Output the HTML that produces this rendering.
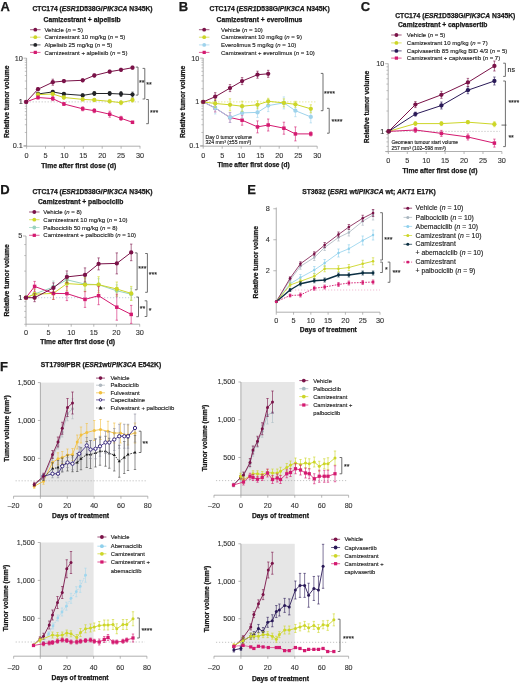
<!DOCTYPE html>
<html><head><meta charset="utf-8"><style>
html,body{margin:0;padding:0;background:#fff;}
svg{display:block;filter:blur(0.5px);font-family:"Liberation Sans", sans-serif;}
text{stroke:#111;stroke-width:0.25px;}
text:not([font-weight]){stroke:#222;stroke-width:0.14px;fill:#222;}
text.t{stroke:#333;stroke-width:0.12px;fill:#333;}
</style></head><body>
<svg width="520" height="683" viewBox="0 0 520 683">
<rect width="520" height="683" fill="#fff"/>
<text x="0.6" y="11.4" font-size="13" font-weight="bold" fill="#1a1a1a">A</text>
<text x="32.5" y="11.2" font-size="6.75" font-weight="bold" fill="#1a1a1a">CTC174 (<tspan font-style="italic">ESR1</tspan>D538G/<tspan font-style="italic">PIK3CA</tspan> N345K)</text>
<text x="43.6" y="21.8" font-size="6.75" font-weight="bold" fill="#1a1a1a">Camizestrant + alpelisib</text>
<line x1="30.05" y1="29.7" x2="40.55" y2="29.7" stroke="#7a1248" stroke-width="0.7"/>
<circle cx="35.3" cy="29.7" r="1.9" fill="#7a1248"/>
<text x="44.4" y="31.8" font-size="6" fill="#1a1a1a">Vehicle (<tspan font-style="italic">n</tspan> = 5)</text>
<line x1="30.05" y1="37.2" x2="40.55" y2="37.2" stroke="#cdd628" stroke-width="0.7"/>
<circle cx="35.3" cy="37.2" r="1.9" fill="#cdd628"/>
<text x="44.4" y="39.3" font-size="6" fill="#1a1a1a">Camizestrant 10 mg/kg (<tspan font-style="italic">n</tspan> = 5)</text>
<line x1="30.05" y1="44.9" x2="40.55" y2="44.9" stroke="#222428" stroke-width="0.7"/>
<circle cx="35.3" cy="44.9" r="1.9" fill="#222428"/>
<text x="44.4" y="47" font-size="6" fill="#1a1a1a">Alpelisib 25 mg/kg (<tspan font-style="italic">n</tspan> = 5)</text>
<line x1="30.05" y1="52.4" x2="40.55" y2="52.4" stroke="#d41a70" stroke-width="0.7"/>
<rect x="33.68" y="50.78" width="3.23" height="3.23" fill="#d41a70"/>
<text x="44.4" y="54.5" font-size="6" fill="#1a1a1a">Camizestrant + alpelisib (<tspan font-style="italic">n</tspan> = 5)</text>
<line x1="26.6" y1="58" x2="26.6" y2="146.2" stroke="#9a9a9a" stroke-width="0.8"/>
<line x1="23.6" y1="146.2" x2="140.2" y2="146.2" stroke="#9a9a9a" stroke-width="0.8"/>
<line x1="23.6" y1="58.15" x2="26.6" y2="58.15" stroke="#9a9a9a" stroke-width="0.7"/>
<text x="22.8" y="60.65" font-size="7.3" text-anchor="end" fill="#1a1a1a" class="t">10</text>
<line x1="23.6" y1="101.9" x2="26.6" y2="101.9" stroke="#9a9a9a" stroke-width="0.7"/>
<text x="22.8" y="104.4" font-size="7.3" text-anchor="end" fill="#1a1a1a" class="t">1</text>
<line x1="23.6" y1="145.65" x2="26.6" y2="145.65" stroke="#9a9a9a" stroke-width="0.7"/>
<text x="22.8" y="148.15" font-size="7.3" text-anchor="end" fill="#1a1a1a" class="t">0.1</text>
<line x1="24.8" y1="132.48" x2="26.6" y2="132.48" stroke="#9a9a9a" stroke-width="0.6"/>
<line x1="24.8" y1="124.78" x2="26.6" y2="124.78" stroke="#9a9a9a" stroke-width="0.6"/>
<line x1="24.8" y1="119.31" x2="26.6" y2="119.31" stroke="#9a9a9a" stroke-width="0.6"/>
<line x1="24.8" y1="115.07" x2="26.6" y2="115.07" stroke="#9a9a9a" stroke-width="0.6"/>
<line x1="24.8" y1="111.61" x2="26.6" y2="111.61" stroke="#9a9a9a" stroke-width="0.6"/>
<line x1="24.8" y1="108.68" x2="26.6" y2="108.68" stroke="#9a9a9a" stroke-width="0.6"/>
<line x1="24.8" y1="106.14" x2="26.6" y2="106.14" stroke="#9a9a9a" stroke-width="0.6"/>
<line x1="24.8" y1="103.9" x2="26.6" y2="103.9" stroke="#9a9a9a" stroke-width="0.6"/>
<line x1="24.8" y1="88.73" x2="26.6" y2="88.73" stroke="#9a9a9a" stroke-width="0.6"/>
<line x1="24.8" y1="81.03" x2="26.6" y2="81.03" stroke="#9a9a9a" stroke-width="0.6"/>
<line x1="24.8" y1="75.56" x2="26.6" y2="75.56" stroke="#9a9a9a" stroke-width="0.6"/>
<line x1="24.8" y1="71.32" x2="26.6" y2="71.32" stroke="#9a9a9a" stroke-width="0.6"/>
<line x1="24.8" y1="67.86" x2="26.6" y2="67.86" stroke="#9a9a9a" stroke-width="0.6"/>
<line x1="24.8" y1="64.93" x2="26.6" y2="64.93" stroke="#9a9a9a" stroke-width="0.6"/>
<line x1="24.8" y1="62.39" x2="26.6" y2="62.39" stroke="#9a9a9a" stroke-width="0.6"/>
<line x1="24.8" y1="60.15" x2="26.6" y2="60.15" stroke="#9a9a9a" stroke-width="0.6"/>
<line x1="26.6" y1="146.2" x2="26.6" y2="148.7" stroke="#9a9a9a" stroke-width="0.7"/>
<text x="26.6" y="157.8" font-size="7.3" text-anchor="middle" fill="#1a1a1a" class="t">0</text>
<line x1="45.5" y1="146.2" x2="45.5" y2="148.7" stroke="#9a9a9a" stroke-width="0.7"/>
<text x="45.5" y="157.8" font-size="7.3" text-anchor="middle" fill="#1a1a1a" class="t">5</text>
<line x1="64.4" y1="146.2" x2="64.4" y2="148.7" stroke="#9a9a9a" stroke-width="0.7"/>
<text x="64.4" y="157.8" font-size="7.3" text-anchor="middle" fill="#1a1a1a" class="t">10</text>
<line x1="83.3" y1="146.2" x2="83.3" y2="148.7" stroke="#9a9a9a" stroke-width="0.7"/>
<text x="83.3" y="157.8" font-size="7.3" text-anchor="middle" fill="#1a1a1a" class="t">15</text>
<line x1="102.2" y1="146.2" x2="102.2" y2="148.7" stroke="#9a9a9a" stroke-width="0.7"/>
<text x="102.2" y="157.8" font-size="7.3" text-anchor="middle" fill="#1a1a1a" class="t">20</text>
<line x1="121.1" y1="146.2" x2="121.1" y2="148.7" stroke="#9a9a9a" stroke-width="0.7"/>
<text x="121.1" y="157.8" font-size="7.3" text-anchor="middle" fill="#1a1a1a" class="t">25</text>
<line x1="140" y1="146.2" x2="140" y2="148.7" stroke="#9a9a9a" stroke-width="0.7"/>
<text x="140" y="157.8" font-size="7.3" text-anchor="middle" fill="#1a1a1a" class="t">30</text>
<text x="78.8" y="167.6" font-size="6.75" font-weight="bold" text-anchor="middle" fill="#1a1a1a">Time after first dose (d)</text>
<text x="8.7" y="101.8" font-size="6.75" font-weight="bold" text-anchor="middle" fill="#1a1a1a" transform="rotate(-90 8.7 101.8)">Relative tumor volume</text>
<line x1="26.6" y1="101.9" x2="140" y2="101.9" stroke="#aaaaaa" stroke-width="0.7" stroke-dasharray="1.2,1.8"/>
<polyline points="38,94 52.8,91.9 63.9,94 82.7,95.4 94.3,93.5 109.7,93.5 121,94 132.5,94.6" fill="none" stroke="#222428" stroke-width="1.0" stroke-linejoin="round"/>
<line x1="38" y1="92.5" x2="38" y2="95.5" stroke="#222428" stroke-width="0.6"/>
<line x1="36.8" y1="92.5" x2="39.2" y2="92.5" stroke="#222428" stroke-width="0.6"/>
<line x1="36.8" y1="95.5" x2="39.2" y2="95.5" stroke="#222428" stroke-width="0.6"/>
<line x1="52.8" y1="90.4" x2="52.8" y2="93.4" stroke="#222428" stroke-width="0.6"/>
<line x1="51.6" y1="90.4" x2="54" y2="90.4" stroke="#222428" stroke-width="0.6"/>
<line x1="51.6" y1="93.4" x2="54" y2="93.4" stroke="#222428" stroke-width="0.6"/>
<line x1="63.9" y1="92.5" x2="63.9" y2="95.5" stroke="#222428" stroke-width="0.6"/>
<line x1="62.7" y1="92.5" x2="65.1" y2="92.5" stroke="#222428" stroke-width="0.6"/>
<line x1="62.7" y1="95.5" x2="65.1" y2="95.5" stroke="#222428" stroke-width="0.6"/>
<line x1="82.7" y1="93.9" x2="82.7" y2="96.9" stroke="#222428" stroke-width="0.6"/>
<line x1="81.5" y1="93.9" x2="83.9" y2="93.9" stroke="#222428" stroke-width="0.6"/>
<line x1="81.5" y1="96.9" x2="83.9" y2="96.9" stroke="#222428" stroke-width="0.6"/>
<line x1="94.3" y1="91.5" x2="94.3" y2="95.5" stroke="#222428" stroke-width="0.6"/>
<line x1="93.1" y1="91.5" x2="95.5" y2="91.5" stroke="#222428" stroke-width="0.6"/>
<line x1="93.1" y1="95.5" x2="95.5" y2="95.5" stroke="#222428" stroke-width="0.6"/>
<line x1="109.7" y1="91.5" x2="109.7" y2="95.5" stroke="#222428" stroke-width="0.6"/>
<line x1="108.5" y1="91.5" x2="110.9" y2="91.5" stroke="#222428" stroke-width="0.6"/>
<line x1="108.5" y1="95.5" x2="110.9" y2="95.5" stroke="#222428" stroke-width="0.6"/>
<line x1="121" y1="91.5" x2="121" y2="96.5" stroke="#222428" stroke-width="0.6"/>
<line x1="119.8" y1="91.5" x2="122.2" y2="91.5" stroke="#222428" stroke-width="0.6"/>
<line x1="119.8" y1="96.5" x2="122.2" y2="96.5" stroke="#222428" stroke-width="0.6"/>
<line x1="132.5" y1="92.1" x2="132.5" y2="97.1" stroke="#222428" stroke-width="0.6"/>
<line x1="131.3" y1="92.1" x2="133.7" y2="92.1" stroke="#222428" stroke-width="0.6"/>
<line x1="131.3" y1="97.1" x2="133.7" y2="97.1" stroke="#222428" stroke-width="0.6"/>
<circle cx="38" cy="94" r="2.15" fill="#222428"/>
<circle cx="52.8" cy="91.9" r="2.15" fill="#222428"/>
<circle cx="63.9" cy="94" r="2.15" fill="#222428"/>
<circle cx="82.7" cy="95.4" r="2.15" fill="#222428"/>
<circle cx="94.3" cy="93.5" r="2.15" fill="#222428"/>
<circle cx="109.7" cy="93.5" r="2.15" fill="#222428"/>
<circle cx="121" cy="94" r="2.15" fill="#222428"/>
<circle cx="132.5" cy="94.6" r="2.15" fill="#222428"/>
<polyline points="38,94.6 52.8,94 63.9,97.5 82.7,99.4 94.3,100 109.7,101.3 121,102.7 132.5,100" fill="none" stroke="#cdd628" stroke-width="1.0" stroke-linejoin="round"/>
<line x1="38" y1="93.1" x2="38" y2="96.1" stroke="#cdd628" stroke-width="0.6"/>
<line x1="36.8" y1="93.1" x2="39.2" y2="93.1" stroke="#cdd628" stroke-width="0.6"/>
<line x1="36.8" y1="96.1" x2="39.2" y2="96.1" stroke="#cdd628" stroke-width="0.6"/>
<line x1="52.8" y1="92.5" x2="52.8" y2="95.5" stroke="#cdd628" stroke-width="0.6"/>
<line x1="51.6" y1="92.5" x2="54" y2="92.5" stroke="#cdd628" stroke-width="0.6"/>
<line x1="51.6" y1="95.5" x2="54" y2="95.5" stroke="#cdd628" stroke-width="0.6"/>
<line x1="63.9" y1="96" x2="63.9" y2="99" stroke="#cdd628" stroke-width="0.6"/>
<line x1="62.7" y1="96" x2="65.1" y2="96" stroke="#cdd628" stroke-width="0.6"/>
<line x1="62.7" y1="99" x2="65.1" y2="99" stroke="#cdd628" stroke-width="0.6"/>
<line x1="82.7" y1="97.9" x2="82.7" y2="100.9" stroke="#cdd628" stroke-width="0.6"/>
<line x1="81.5" y1="97.9" x2="83.9" y2="97.9" stroke="#cdd628" stroke-width="0.6"/>
<line x1="81.5" y1="100.9" x2="83.9" y2="100.9" stroke="#cdd628" stroke-width="0.6"/>
<line x1="94.3" y1="98.5" x2="94.3" y2="101.5" stroke="#cdd628" stroke-width="0.6"/>
<line x1="93.1" y1="98.5" x2="95.5" y2="98.5" stroke="#cdd628" stroke-width="0.6"/>
<line x1="93.1" y1="101.5" x2="95.5" y2="101.5" stroke="#cdd628" stroke-width="0.6"/>
<line x1="109.7" y1="99.8" x2="109.7" y2="102.8" stroke="#cdd628" stroke-width="0.6"/>
<line x1="108.5" y1="99.8" x2="110.9" y2="99.8" stroke="#cdd628" stroke-width="0.6"/>
<line x1="108.5" y1="102.8" x2="110.9" y2="102.8" stroke="#cdd628" stroke-width="0.6"/>
<line x1="121" y1="100.7" x2="121" y2="104.7" stroke="#cdd628" stroke-width="0.6"/>
<line x1="119.8" y1="100.7" x2="122.2" y2="100.7" stroke="#cdd628" stroke-width="0.6"/>
<line x1="119.8" y1="104.7" x2="122.2" y2="104.7" stroke="#cdd628" stroke-width="0.6"/>
<line x1="132.5" y1="98" x2="132.5" y2="102" stroke="#cdd628" stroke-width="0.6"/>
<line x1="131.3" y1="98" x2="133.7" y2="98" stroke="#cdd628" stroke-width="0.6"/>
<line x1="131.3" y1="102" x2="133.7" y2="102" stroke="#cdd628" stroke-width="0.6"/>
<circle cx="38" cy="94.6" r="2.15" fill="#cdd628"/>
<circle cx="52.8" cy="94" r="2.15" fill="#cdd628"/>
<circle cx="63.9" cy="97.5" r="2.15" fill="#cdd628"/>
<circle cx="82.7" cy="99.4" r="2.15" fill="#cdd628"/>
<circle cx="94.3" cy="100" r="2.15" fill="#cdd628"/>
<circle cx="109.7" cy="101.3" r="2.15" fill="#cdd628"/>
<circle cx="121" cy="102.7" r="2.15" fill="#cdd628"/>
<circle cx="132.5" cy="100" r="2.15" fill="#cdd628"/>
<polyline points="26.2,101.9 38,97.5 52.8,98.6 63.9,104 82.7,108.8 94.3,110.7 109.7,114.2 121,118.3 132.5,122.3" fill="none" stroke="#d41a70" stroke-width="1.0" stroke-linejoin="round"/>
<line x1="38" y1="96" x2="38" y2="99" stroke="#d41a70" stroke-width="0.6"/>
<line x1="36.8" y1="96" x2="39.2" y2="96" stroke="#d41a70" stroke-width="0.6"/>
<line x1="36.8" y1="99" x2="39.2" y2="99" stroke="#d41a70" stroke-width="0.6"/>
<line x1="52.8" y1="96.6" x2="52.8" y2="100.6" stroke="#d41a70" stroke-width="0.6"/>
<line x1="51.6" y1="96.6" x2="54" y2="96.6" stroke="#d41a70" stroke-width="0.6"/>
<line x1="51.6" y1="100.6" x2="54" y2="100.6" stroke="#d41a70" stroke-width="0.6"/>
<line x1="63.9" y1="102.5" x2="63.9" y2="105.5" stroke="#d41a70" stroke-width="0.6"/>
<line x1="62.7" y1="102.5" x2="65.1" y2="102.5" stroke="#d41a70" stroke-width="0.6"/>
<line x1="62.7" y1="105.5" x2="65.1" y2="105.5" stroke="#d41a70" stroke-width="0.6"/>
<line x1="82.7" y1="106.8" x2="82.7" y2="110.8" stroke="#d41a70" stroke-width="0.6"/>
<line x1="81.5" y1="106.8" x2="83.9" y2="106.8" stroke="#d41a70" stroke-width="0.6"/>
<line x1="81.5" y1="110.8" x2="83.9" y2="110.8" stroke="#d41a70" stroke-width="0.6"/>
<line x1="94.3" y1="108.7" x2="94.3" y2="112.7" stroke="#d41a70" stroke-width="0.6"/>
<line x1="93.1" y1="108.7" x2="95.5" y2="108.7" stroke="#d41a70" stroke-width="0.6"/>
<line x1="93.1" y1="112.7" x2="95.5" y2="112.7" stroke="#d41a70" stroke-width="0.6"/>
<line x1="109.7" y1="111.2" x2="109.7" y2="117.2" stroke="#d41a70" stroke-width="0.6"/>
<line x1="108.5" y1="111.2" x2="110.9" y2="111.2" stroke="#d41a70" stroke-width="0.6"/>
<line x1="108.5" y1="117.2" x2="110.9" y2="117.2" stroke="#d41a70" stroke-width="0.6"/>
<line x1="121" y1="116.3" x2="121" y2="120.3" stroke="#d41a70" stroke-width="0.6"/>
<line x1="119.8" y1="116.3" x2="122.2" y2="116.3" stroke="#d41a70" stroke-width="0.6"/>
<line x1="119.8" y1="120.3" x2="122.2" y2="120.3" stroke="#d41a70" stroke-width="0.6"/>
<line x1="132.5" y1="121.3" x2="132.5" y2="123.3" stroke="#d41a70" stroke-width="0.6"/>
<line x1="131.3" y1="121.3" x2="133.7" y2="121.3" stroke="#d41a70" stroke-width="0.6"/>
<line x1="131.3" y1="123.3" x2="133.7" y2="123.3" stroke="#d41a70" stroke-width="0.6"/>
<rect x="24.46" y="100.16" width="3.48" height="3.48" fill="#d41a70"/>
<rect x="36.26" y="95.76" width="3.48" height="3.48" fill="#d41a70"/>
<rect x="51.06" y="96.86" width="3.48" height="3.48" fill="#d41a70"/>
<rect x="62.16" y="102.26" width="3.48" height="3.48" fill="#d41a70"/>
<rect x="80.96" y="107.06" width="3.48" height="3.48" fill="#d41a70"/>
<rect x="92.56" y="108.96" width="3.48" height="3.48" fill="#d41a70"/>
<rect x="107.96" y="112.46" width="3.48" height="3.48" fill="#d41a70"/>
<rect x="119.26" y="116.56" width="3.48" height="3.48" fill="#d41a70"/>
<rect x="130.76" y="120.56" width="3.48" height="3.48" fill="#d41a70"/>
<polyline points="26.2,101.9 38,89.2 52.8,82.2 63.9,81.1 82.7,80.3 94.3,75.5 109.7,71.7 121,69.8 132.5,67.7" fill="none" stroke="#7a1248" stroke-width="1.0" stroke-linejoin="round"/>
<line x1="38" y1="87.7" x2="38" y2="90.7" stroke="#7a1248" stroke-width="0.6"/>
<line x1="36.8" y1="87.7" x2="39.2" y2="87.7" stroke="#7a1248" stroke-width="0.6"/>
<line x1="36.8" y1="90.7" x2="39.2" y2="90.7" stroke="#7a1248" stroke-width="0.6"/>
<line x1="52.8" y1="79.2" x2="52.8" y2="85.2" stroke="#7a1248" stroke-width="0.6"/>
<line x1="51.6" y1="79.2" x2="54" y2="79.2" stroke="#7a1248" stroke-width="0.6"/>
<line x1="51.6" y1="85.2" x2="54" y2="85.2" stroke="#7a1248" stroke-width="0.6"/>
<line x1="63.9" y1="79.6" x2="63.9" y2="82.6" stroke="#7a1248" stroke-width="0.6"/>
<line x1="62.7" y1="79.6" x2="65.1" y2="79.6" stroke="#7a1248" stroke-width="0.6"/>
<line x1="62.7" y1="82.6" x2="65.1" y2="82.6" stroke="#7a1248" stroke-width="0.6"/>
<line x1="82.7" y1="78.8" x2="82.7" y2="81.8" stroke="#7a1248" stroke-width="0.6"/>
<line x1="81.5" y1="78.8" x2="83.9" y2="78.8" stroke="#7a1248" stroke-width="0.6"/>
<line x1="81.5" y1="81.8" x2="83.9" y2="81.8" stroke="#7a1248" stroke-width="0.6"/>
<line x1="94.3" y1="74" x2="94.3" y2="77" stroke="#7a1248" stroke-width="0.6"/>
<line x1="93.1" y1="74" x2="95.5" y2="74" stroke="#7a1248" stroke-width="0.6"/>
<line x1="93.1" y1="77" x2="95.5" y2="77" stroke="#7a1248" stroke-width="0.6"/>
<line x1="109.7" y1="70.2" x2="109.7" y2="73.2" stroke="#7a1248" stroke-width="0.6"/>
<line x1="108.5" y1="70.2" x2="110.9" y2="70.2" stroke="#7a1248" stroke-width="0.6"/>
<line x1="108.5" y1="73.2" x2="110.9" y2="73.2" stroke="#7a1248" stroke-width="0.6"/>
<line x1="121" y1="68.3" x2="121" y2="71.3" stroke="#7a1248" stroke-width="0.6"/>
<line x1="119.8" y1="68.3" x2="122.2" y2="68.3" stroke="#7a1248" stroke-width="0.6"/>
<line x1="119.8" y1="71.3" x2="122.2" y2="71.3" stroke="#7a1248" stroke-width="0.6"/>
<line x1="132.5" y1="66.2" x2="132.5" y2="69.2" stroke="#7a1248" stroke-width="0.6"/>
<line x1="131.3" y1="66.2" x2="133.7" y2="66.2" stroke="#7a1248" stroke-width="0.6"/>
<line x1="131.3" y1="69.2" x2="133.7" y2="69.2" stroke="#7a1248" stroke-width="0.6"/>
<circle cx="26.2" cy="101.9" r="2.15" fill="#7a1248"/>
<circle cx="38" cy="89.2" r="2.15" fill="#7a1248"/>
<circle cx="52.8" cy="82.2" r="2.15" fill="#7a1248"/>
<circle cx="63.9" cy="81.1" r="2.15" fill="#7a1248"/>
<circle cx="82.7" cy="80.3" r="2.15" fill="#7a1248"/>
<circle cx="94.3" cy="75.5" r="2.15" fill="#7a1248"/>
<circle cx="109.7" cy="71.7" r="2.15" fill="#7a1248"/>
<circle cx="121" cy="69.8" r="2.15" fill="#7a1248"/>
<circle cx="132.5" cy="67.7" r="2.15" fill="#7a1248"/>
<polyline points="135.8,67.1 138,67.1 138,95.1 135.8,95.1" fill="none" stroke="#555" stroke-width="0.85"/>
<text x="139" y="84.7" font-size="7" fill="#1a1a1a">**</text>
<polyline points="142.6,68.4 144.8,68.4 144.8,99 142.6,99" fill="none" stroke="#555" stroke-width="0.85"/>
<text x="146.2" y="87.3" font-size="7" fill="#1a1a1a">**</text>
<polyline points="146.2,99.5 148.4,99.5 148.4,123.7 146.2,123.7" fill="none" stroke="#555" stroke-width="0.85"/>
<text x="150" y="115.1" font-size="7" fill="#1a1a1a">***</text>
<text x="178.8" y="11.1" font-size="13" font-weight="bold" fill="#1a1a1a">B</text>
<text x="209.6" y="11.2" font-size="6.75" font-weight="bold" fill="#1a1a1a">CTC174 (<tspan font-style="italic">ESR1</tspan>D538G/<tspan font-style="italic">PIK3CA</tspan> N345K)</text>
<text x="216.6" y="21.8" font-size="6.75" font-weight="bold" fill="#1a1a1a">Camizestrant + everolimus</text>
<line x1="198.95" y1="29.7" x2="209.45" y2="29.7" stroke="#7a1248" stroke-width="0.7"/>
<circle cx="204.2" cy="29.7" r="1.9" fill="#7a1248"/>
<text x="221" y="31.8" font-size="6" fill="#1a1a1a">Vehicle (<tspan font-style="italic">n</tspan> = 10)</text>
<line x1="198.95" y1="37.2" x2="209.45" y2="37.2" stroke="#cdd628" stroke-width="0.7"/>
<circle cx="204.2" cy="37.2" r="1.9" fill="#cdd628"/>
<text x="221" y="39.3" font-size="6" fill="#1a1a1a">Camizestrant 10 mg/kg (<tspan font-style="italic">n</tspan> = 9)</text>
<line x1="198.95" y1="44.9" x2="209.45" y2="44.9" stroke="#9fd3ec" stroke-width="0.7"/>
<circle cx="204.2" cy="44.9" r="1.9" fill="#9fd3ec"/>
<text x="221" y="47" font-size="6" fill="#1a1a1a">Everolimus 5 mg/kg (<tspan font-style="italic">n</tspan> = 10)</text>
<line x1="198.95" y1="52.4" x2="209.45" y2="52.4" stroke="#d41a70" stroke-width="0.7"/>
<rect x="202.58" y="50.78" width="3.23" height="3.23" fill="#d41a70"/>
<text x="221" y="54.5" font-size="6" fill="#1a1a1a">Camizestrant + everolimus (<tspan font-style="italic">n</tspan> = 10)</text>
<line x1="203.2" y1="58" x2="203.2" y2="146.2" stroke="#9a9a9a" stroke-width="0.8"/>
<line x1="200.2" y1="146.2" x2="317.2" y2="146.2" stroke="#9a9a9a" stroke-width="0.8"/>
<line x1="200.2" y1="58.15" x2="203.2" y2="58.15" stroke="#9a9a9a" stroke-width="0.7"/>
<text x="199.4" y="60.65" font-size="7.3" text-anchor="end" fill="#1a1a1a" class="t">10</text>
<line x1="200.2" y1="101.9" x2="203.2" y2="101.9" stroke="#9a9a9a" stroke-width="0.7"/>
<text x="199.4" y="104.4" font-size="7.3" text-anchor="end" fill="#1a1a1a" class="t">1</text>
<line x1="200.2" y1="145.65" x2="203.2" y2="145.65" stroke="#9a9a9a" stroke-width="0.7"/>
<text x="199.4" y="148.15" font-size="7.3" text-anchor="end" fill="#1a1a1a" class="t">0.1</text>
<line x1="201.4" y1="132.48" x2="203.2" y2="132.48" stroke="#9a9a9a" stroke-width="0.6"/>
<line x1="201.4" y1="124.78" x2="203.2" y2="124.78" stroke="#9a9a9a" stroke-width="0.6"/>
<line x1="201.4" y1="119.31" x2="203.2" y2="119.31" stroke="#9a9a9a" stroke-width="0.6"/>
<line x1="201.4" y1="115.07" x2="203.2" y2="115.07" stroke="#9a9a9a" stroke-width="0.6"/>
<line x1="201.4" y1="111.61" x2="203.2" y2="111.61" stroke="#9a9a9a" stroke-width="0.6"/>
<line x1="201.4" y1="108.68" x2="203.2" y2="108.68" stroke="#9a9a9a" stroke-width="0.6"/>
<line x1="201.4" y1="106.14" x2="203.2" y2="106.14" stroke="#9a9a9a" stroke-width="0.6"/>
<line x1="201.4" y1="103.9" x2="203.2" y2="103.9" stroke="#9a9a9a" stroke-width="0.6"/>
<line x1="201.4" y1="88.73" x2="203.2" y2="88.73" stroke="#9a9a9a" stroke-width="0.6"/>
<line x1="201.4" y1="81.03" x2="203.2" y2="81.03" stroke="#9a9a9a" stroke-width="0.6"/>
<line x1="201.4" y1="75.56" x2="203.2" y2="75.56" stroke="#9a9a9a" stroke-width="0.6"/>
<line x1="201.4" y1="71.32" x2="203.2" y2="71.32" stroke="#9a9a9a" stroke-width="0.6"/>
<line x1="201.4" y1="67.86" x2="203.2" y2="67.86" stroke="#9a9a9a" stroke-width="0.6"/>
<line x1="201.4" y1="64.93" x2="203.2" y2="64.93" stroke="#9a9a9a" stroke-width="0.6"/>
<line x1="201.4" y1="62.39" x2="203.2" y2="62.39" stroke="#9a9a9a" stroke-width="0.6"/>
<line x1="201.4" y1="60.15" x2="203.2" y2="60.15" stroke="#9a9a9a" stroke-width="0.6"/>
<line x1="203.2" y1="146.2" x2="203.2" y2="148.7" stroke="#9a9a9a" stroke-width="0.7"/>
<text x="203.2" y="157.6" font-size="7.3" text-anchor="middle" fill="#1a1a1a" class="t">0</text>
<line x1="222.2" y1="146.2" x2="222.2" y2="148.7" stroke="#9a9a9a" stroke-width="0.7"/>
<text x="222.2" y="157.6" font-size="7.3" text-anchor="middle" fill="#1a1a1a" class="t">5</text>
<line x1="241.2" y1="146.2" x2="241.2" y2="148.7" stroke="#9a9a9a" stroke-width="0.7"/>
<text x="241.2" y="157.6" font-size="7.3" text-anchor="middle" fill="#1a1a1a" class="t">10</text>
<line x1="260.2" y1="146.2" x2="260.2" y2="148.7" stroke="#9a9a9a" stroke-width="0.7"/>
<text x="260.2" y="157.6" font-size="7.3" text-anchor="middle" fill="#1a1a1a" class="t">15</text>
<line x1="279.2" y1="146.2" x2="279.2" y2="148.7" stroke="#9a9a9a" stroke-width="0.7"/>
<text x="279.2" y="157.6" font-size="7.3" text-anchor="middle" fill="#1a1a1a" class="t">20</text>
<line x1="298.2" y1="146.2" x2="298.2" y2="148.7" stroke="#9a9a9a" stroke-width="0.7"/>
<text x="298.2" y="157.6" font-size="7.3" text-anchor="middle" fill="#1a1a1a" class="t">25</text>
<line x1="317.2" y1="146.2" x2="317.2" y2="148.7" stroke="#9a9a9a" stroke-width="0.7"/>
<text x="317.2" y="157.6" font-size="7.3" text-anchor="middle" fill="#1a1a1a" class="t">30</text>
<text x="253.5" y="167.4" font-size="6.5" font-weight="bold" text-anchor="middle" fill="#1a1a1a">Time after first dose (d)</text>
<text x="185.2" y="101.8" font-size="6.75" font-weight="bold" text-anchor="middle" fill="#1a1a1a" transform="rotate(-90 185.2 101.8)">Relative tumor volume</text>
<line x1="203.2" y1="101.9" x2="317" y2="101.9" stroke="#d8dc50" stroke-width="0.7" stroke-dasharray="1.2,1.8"/>
<polyline points="203.2,101.9 215.2,108 230,117.5 242.1,120.2 257.5,126.9 268.2,125 283.9,128.2 295.4,133.9 310.8,133.9" fill="none" stroke="#d41a70" stroke-width="1.0" stroke-linejoin="round"/>
<line x1="215.2" y1="104" x2="215.2" y2="112" stroke="#d41a70" stroke-width="0.6"/>
<line x1="214" y1="104" x2="216.4" y2="104" stroke="#d41a70" stroke-width="0.6"/>
<line x1="214" y1="112" x2="216.4" y2="112" stroke="#d41a70" stroke-width="0.6"/>
<line x1="230" y1="112.5" x2="230" y2="122.5" stroke="#d41a70" stroke-width="0.6"/>
<line x1="228.8" y1="112.5" x2="231.2" y2="112.5" stroke="#d41a70" stroke-width="0.6"/>
<line x1="228.8" y1="122.5" x2="231.2" y2="122.5" stroke="#d41a70" stroke-width="0.6"/>
<line x1="242.1" y1="115.2" x2="242.1" y2="125.2" stroke="#d41a70" stroke-width="0.6"/>
<line x1="240.9" y1="115.2" x2="243.3" y2="115.2" stroke="#d41a70" stroke-width="0.6"/>
<line x1="240.9" y1="125.2" x2="243.3" y2="125.2" stroke="#d41a70" stroke-width="0.6"/>
<line x1="257.5" y1="120.9" x2="257.5" y2="132.9" stroke="#d41a70" stroke-width="0.6"/>
<line x1="256.3" y1="120.9" x2="258.7" y2="120.9" stroke="#d41a70" stroke-width="0.6"/>
<line x1="256.3" y1="132.9" x2="258.7" y2="132.9" stroke="#d41a70" stroke-width="0.6"/>
<line x1="268.2" y1="119" x2="268.2" y2="131" stroke="#d41a70" stroke-width="0.6"/>
<line x1="267" y1="119" x2="269.4" y2="119" stroke="#d41a70" stroke-width="0.6"/>
<line x1="267" y1="131" x2="269.4" y2="131" stroke="#d41a70" stroke-width="0.6"/>
<line x1="283.9" y1="122.2" x2="283.9" y2="134.2" stroke="#d41a70" stroke-width="0.6"/>
<line x1="282.7" y1="122.2" x2="285.1" y2="122.2" stroke="#d41a70" stroke-width="0.6"/>
<line x1="282.7" y1="134.2" x2="285.1" y2="134.2" stroke="#d41a70" stroke-width="0.6"/>
<line x1="295.4" y1="126.9" x2="295.4" y2="140.9" stroke="#d41a70" stroke-width="0.6"/>
<line x1="294.2" y1="126.9" x2="296.6" y2="126.9" stroke="#d41a70" stroke-width="0.6"/>
<line x1="294.2" y1="140.9" x2="296.6" y2="140.9" stroke="#d41a70" stroke-width="0.6"/>
<line x1="310.8" y1="131.9" x2="310.8" y2="135.9" stroke="#d41a70" stroke-width="0.6"/>
<line x1="309.6" y1="131.9" x2="312" y2="131.9" stroke="#d41a70" stroke-width="0.6"/>
<line x1="309.6" y1="135.9" x2="312" y2="135.9" stroke="#d41a70" stroke-width="0.6"/>
<rect x="201.46" y="100.16" width="3.48" height="3.48" fill="#d41a70"/>
<rect x="213.46" y="106.26" width="3.48" height="3.48" fill="#d41a70"/>
<rect x="228.26" y="115.76" width="3.48" height="3.48" fill="#d41a70"/>
<rect x="240.36" y="118.46" width="3.48" height="3.48" fill="#d41a70"/>
<rect x="255.76" y="125.16" width="3.48" height="3.48" fill="#d41a70"/>
<rect x="266.46" y="123.26" width="3.48" height="3.48" fill="#d41a70"/>
<rect x="282.16" y="126.46" width="3.48" height="3.48" fill="#d41a70"/>
<rect x="293.66" y="132.16" width="3.48" height="3.48" fill="#d41a70"/>
<rect x="309.06" y="132.16" width="3.48" height="3.48" fill="#d41a70"/>
<polyline points="203.2,101.9 215.2,108 230,117.5 242.1,112.9 257.5,112.4 268.2,105.6 283.9,102.9 295.4,110.7 310.8,116.9" fill="none" stroke="#9fd3ec" stroke-width="1.0" stroke-linejoin="round"/>
<line x1="215.2" y1="102" x2="215.2" y2="114" stroke="#9fd3ec" stroke-width="0.6"/>
<line x1="214" y1="102" x2="216.4" y2="102" stroke="#9fd3ec" stroke-width="0.6"/>
<line x1="214" y1="114" x2="216.4" y2="114" stroke="#9fd3ec" stroke-width="0.6"/>
<line x1="230" y1="112.5" x2="230" y2="122.5" stroke="#9fd3ec" stroke-width="0.6"/>
<line x1="228.8" y1="112.5" x2="231.2" y2="112.5" stroke="#9fd3ec" stroke-width="0.6"/>
<line x1="228.8" y1="122.5" x2="231.2" y2="122.5" stroke="#9fd3ec" stroke-width="0.6"/>
<line x1="242.1" y1="107.9" x2="242.1" y2="117.9" stroke="#9fd3ec" stroke-width="0.6"/>
<line x1="240.9" y1="107.9" x2="243.3" y2="107.9" stroke="#9fd3ec" stroke-width="0.6"/>
<line x1="240.9" y1="117.9" x2="243.3" y2="117.9" stroke="#9fd3ec" stroke-width="0.6"/>
<line x1="257.5" y1="107.4" x2="257.5" y2="117.4" stroke="#9fd3ec" stroke-width="0.6"/>
<line x1="256.3" y1="107.4" x2="258.7" y2="107.4" stroke="#9fd3ec" stroke-width="0.6"/>
<line x1="256.3" y1="117.4" x2="258.7" y2="117.4" stroke="#9fd3ec" stroke-width="0.6"/>
<line x1="268.2" y1="99.6" x2="268.2" y2="111.6" stroke="#9fd3ec" stroke-width="0.6"/>
<line x1="267" y1="99.6" x2="269.4" y2="99.6" stroke="#9fd3ec" stroke-width="0.6"/>
<line x1="267" y1="111.6" x2="269.4" y2="111.6" stroke="#9fd3ec" stroke-width="0.6"/>
<line x1="283.9" y1="96.9" x2="283.9" y2="108.9" stroke="#9fd3ec" stroke-width="0.6"/>
<line x1="282.7" y1="96.9" x2="285.1" y2="96.9" stroke="#9fd3ec" stroke-width="0.6"/>
<line x1="282.7" y1="108.9" x2="285.1" y2="108.9" stroke="#9fd3ec" stroke-width="0.6"/>
<line x1="295.4" y1="104.7" x2="295.4" y2="116.7" stroke="#9fd3ec" stroke-width="0.6"/>
<line x1="294.2" y1="104.7" x2="296.6" y2="104.7" stroke="#9fd3ec" stroke-width="0.6"/>
<line x1="294.2" y1="116.7" x2="296.6" y2="116.7" stroke="#9fd3ec" stroke-width="0.6"/>
<line x1="310.8" y1="110.9" x2="310.8" y2="122.9" stroke="#9fd3ec" stroke-width="0.6"/>
<line x1="309.6" y1="110.9" x2="312" y2="110.9" stroke="#9fd3ec" stroke-width="0.6"/>
<line x1="309.6" y1="122.9" x2="312" y2="122.9" stroke="#9fd3ec" stroke-width="0.6"/>
<circle cx="203.2" cy="101.9" r="2.15" fill="#9fd3ec"/>
<circle cx="215.2" cy="108" r="2.15" fill="#9fd3ec"/>
<circle cx="230" cy="117.5" r="2.15" fill="#9fd3ec"/>
<circle cx="242.1" cy="112.9" r="2.15" fill="#9fd3ec"/>
<circle cx="257.5" cy="112.4" r="2.15" fill="#9fd3ec"/>
<circle cx="268.2" cy="105.6" r="2.15" fill="#9fd3ec"/>
<circle cx="283.9" cy="102.9" r="2.15" fill="#9fd3ec"/>
<circle cx="295.4" cy="110.7" r="2.15" fill="#9fd3ec"/>
<circle cx="310.8" cy="116.9" r="2.15" fill="#9fd3ec"/>
<polyline points="203.2,101.9 215.2,103.5 230,104.8 242.1,106.2 257.5,104.8 268.2,101.3 283.9,102.9 295.4,104.3 310.8,108.8" fill="none" stroke="#cdd628" stroke-width="1.0" stroke-linejoin="round"/>
<line x1="215.2" y1="99.5" x2="215.2" y2="107.5" stroke="#cdd628" stroke-width="0.6"/>
<line x1="214" y1="99.5" x2="216.4" y2="99.5" stroke="#cdd628" stroke-width="0.6"/>
<line x1="214" y1="107.5" x2="216.4" y2="107.5" stroke="#cdd628" stroke-width="0.6"/>
<line x1="230" y1="98.8" x2="230" y2="110.8" stroke="#cdd628" stroke-width="0.6"/>
<line x1="228.8" y1="98.8" x2="231.2" y2="98.8" stroke="#cdd628" stroke-width="0.6"/>
<line x1="228.8" y1="110.8" x2="231.2" y2="110.8" stroke="#cdd628" stroke-width="0.6"/>
<line x1="242.1" y1="101.2" x2="242.1" y2="111.2" stroke="#cdd628" stroke-width="0.6"/>
<line x1="240.9" y1="101.2" x2="243.3" y2="101.2" stroke="#cdd628" stroke-width="0.6"/>
<line x1="240.9" y1="111.2" x2="243.3" y2="111.2" stroke="#cdd628" stroke-width="0.6"/>
<line x1="257.5" y1="100.8" x2="257.5" y2="108.8" stroke="#cdd628" stroke-width="0.6"/>
<line x1="256.3" y1="100.8" x2="258.7" y2="100.8" stroke="#cdd628" stroke-width="0.6"/>
<line x1="256.3" y1="108.8" x2="258.7" y2="108.8" stroke="#cdd628" stroke-width="0.6"/>
<line x1="268.2" y1="98.3" x2="268.2" y2="104.3" stroke="#cdd628" stroke-width="0.6"/>
<line x1="267" y1="98.3" x2="269.4" y2="98.3" stroke="#cdd628" stroke-width="0.6"/>
<line x1="267" y1="104.3" x2="269.4" y2="104.3" stroke="#cdd628" stroke-width="0.6"/>
<line x1="283.9" y1="98.9" x2="283.9" y2="106.9" stroke="#cdd628" stroke-width="0.6"/>
<line x1="282.7" y1="98.9" x2="285.1" y2="98.9" stroke="#cdd628" stroke-width="0.6"/>
<line x1="282.7" y1="106.9" x2="285.1" y2="106.9" stroke="#cdd628" stroke-width="0.6"/>
<line x1="295.4" y1="101.3" x2="295.4" y2="107.3" stroke="#cdd628" stroke-width="0.6"/>
<line x1="294.2" y1="101.3" x2="296.6" y2="101.3" stroke="#cdd628" stroke-width="0.6"/>
<line x1="294.2" y1="107.3" x2="296.6" y2="107.3" stroke="#cdd628" stroke-width="0.6"/>
<line x1="310.8" y1="104.8" x2="310.8" y2="112.8" stroke="#cdd628" stroke-width="0.6"/>
<line x1="309.6" y1="104.8" x2="312" y2="104.8" stroke="#cdd628" stroke-width="0.6"/>
<line x1="309.6" y1="112.8" x2="312" y2="112.8" stroke="#cdd628" stroke-width="0.6"/>
<circle cx="203.2" cy="101.9" r="2.15" fill="#cdd628"/>
<circle cx="215.2" cy="103.5" r="2.15" fill="#cdd628"/>
<circle cx="230" cy="104.8" r="2.15" fill="#cdd628"/>
<circle cx="242.1" cy="106.2" r="2.15" fill="#cdd628"/>
<circle cx="257.5" cy="104.8" r="2.15" fill="#cdd628"/>
<circle cx="268.2" cy="101.3" r="2.15" fill="#cdd628"/>
<circle cx="283.9" cy="102.9" r="2.15" fill="#cdd628"/>
<circle cx="295.4" cy="104.3" r="2.15" fill="#cdd628"/>
<circle cx="310.8" cy="108.8" r="2.15" fill="#cdd628"/>
<polyline points="203.2,101.9 215.2,96.7 230,88.1 242.1,81.1 257.5,74.7 268.2,73.8" fill="none" stroke="#7a1248" stroke-width="1.0" stroke-linejoin="round"/>
<line x1="215.2" y1="92.7" x2="215.2" y2="100.7" stroke="#7a1248" stroke-width="0.6"/>
<line x1="214" y1="92.7" x2="216.4" y2="92.7" stroke="#7a1248" stroke-width="0.6"/>
<line x1="214" y1="100.7" x2="216.4" y2="100.7" stroke="#7a1248" stroke-width="0.6"/>
<line x1="230" y1="84.6" x2="230" y2="91.6" stroke="#7a1248" stroke-width="0.6"/>
<line x1="228.8" y1="84.6" x2="231.2" y2="84.6" stroke="#7a1248" stroke-width="0.6"/>
<line x1="228.8" y1="91.6" x2="231.2" y2="91.6" stroke="#7a1248" stroke-width="0.6"/>
<line x1="242.1" y1="77.6" x2="242.1" y2="84.6" stroke="#7a1248" stroke-width="0.6"/>
<line x1="240.9" y1="77.6" x2="243.3" y2="77.6" stroke="#7a1248" stroke-width="0.6"/>
<line x1="240.9" y1="84.6" x2="243.3" y2="84.6" stroke="#7a1248" stroke-width="0.6"/>
<line x1="257.5" y1="71.2" x2="257.5" y2="78.2" stroke="#7a1248" stroke-width="0.6"/>
<line x1="256.3" y1="71.2" x2="258.7" y2="71.2" stroke="#7a1248" stroke-width="0.6"/>
<line x1="256.3" y1="78.2" x2="258.7" y2="78.2" stroke="#7a1248" stroke-width="0.6"/>
<line x1="268.2" y1="70.3" x2="268.2" y2="77.3" stroke="#7a1248" stroke-width="0.6"/>
<line x1="267" y1="70.3" x2="269.4" y2="70.3" stroke="#7a1248" stroke-width="0.6"/>
<line x1="267" y1="77.3" x2="269.4" y2="77.3" stroke="#7a1248" stroke-width="0.6"/>
<circle cx="203.2" cy="101.9" r="2.15" fill="#7a1248"/>
<circle cx="215.2" cy="96.7" r="2.15" fill="#7a1248"/>
<circle cx="230" cy="88.1" r="2.15" fill="#7a1248"/>
<circle cx="242.1" cy="81.1" r="2.15" fill="#7a1248"/>
<circle cx="257.5" cy="74.7" r="2.15" fill="#7a1248"/>
<circle cx="268.2" cy="73.8" r="2.15" fill="#7a1248"/>
<text x="205.4" y="138.8" font-size="5.2" fill="#1a1a1a">Day 0 tumor volume</text>
<text x="205.4" y="144.4" font-size="5.2" fill="#1a1a1a">324 mm³ (±55 mm³)</text>
<polyline points="320.8,73.4 323,73.4 323,110.7 320.8,110.7" fill="none" stroke="#555" stroke-width="0.85"/>
<text x="324" y="96.2" font-size="7" fill="#1a1a1a">****</text>
<polyline points="327,108.3 329.2,108.3 329.2,133.2 327,133.2" fill="none" stroke="#555" stroke-width="0.85"/>
<text x="331.5" y="124.1" font-size="7" fill="#1a1a1a">****</text>
<text x="360.7" y="11.4" font-size="13" font-weight="bold" fill="#1a1a1a">C</text>
<text x="395.2" y="17.6" font-size="6.75" font-weight="bold" fill="#1a1a1a">CTC174 (<tspan font-style="italic">ESR1</tspan>D538G/<tspan font-style="italic">PIK3CA</tspan> N345K)</text>
<text x="398" y="27" font-size="6.75" font-weight="bold" fill="#1a1a1a">Camizestrant + capivasertib</text>
<line x1="391.15" y1="35" x2="401.65" y2="35" stroke="#7a1248" stroke-width="0.7"/>
<circle cx="396.4" cy="35" r="1.9" fill="#7a1248"/>
<text x="406.8" y="37.1" font-size="6" fill="#1a1a1a">Vehicle (<tspan font-style="italic">n</tspan> = 5)</text>
<line x1="391.15" y1="42.9" x2="401.65" y2="42.9" stroke="#cdd628" stroke-width="0.7"/>
<circle cx="396.4" cy="42.9" r="1.9" fill="#cdd628"/>
<text x="406.8" y="45" font-size="6" fill="#1a1a1a">Camizestrant 10 mg/kg (<tspan font-style="italic">n</tspan> = 7)</text>
<line x1="391.15" y1="50.9" x2="401.65" y2="50.9" stroke="#2a1a58" stroke-width="0.7"/>
<circle cx="396.4" cy="50.9" r="1.9" fill="#2a1a58"/>
<text x="406.8" y="53" font-size="6" fill="#1a1a1a">Capivasertib 85 mg/kg BID 4/3 (<tspan font-style="italic">n</tspan> = 5)</text>
<line x1="391.15" y1="58.1" x2="401.65" y2="58.1" stroke="#d41a70" stroke-width="0.7"/>
<rect x="394.78" y="56.48" width="3.23" height="3.23" fill="#d41a70"/>
<text x="406.8" y="60.2" font-size="6" fill="#1a1a1a">Camizestrant + capivasertib (<tspan font-style="italic">n</tspan> = 7)</text>
<line x1="388.2" y1="63.5" x2="388.2" y2="151.5" stroke="#9a9a9a" stroke-width="0.8"/>
<line x1="385.2" y1="151.5" x2="501.9" y2="151.5" stroke="#9a9a9a" stroke-width="0.8"/>
<line x1="385.2" y1="63.7" x2="388.2" y2="63.7" stroke="#9a9a9a" stroke-width="0.7"/>
<text x="384.4" y="66.2" font-size="7.3" text-anchor="end" fill="#1a1a1a" class="t">10</text>
<line x1="385.2" y1="131.4" x2="388.2" y2="131.4" stroke="#9a9a9a" stroke-width="0.7"/>
<text x="384.4" y="133.9" font-size="7.3" text-anchor="end" fill="#1a1a1a" class="t">1</text>
<line x1="386.4" y1="151.78" x2="388.2" y2="151.78" stroke="#9a9a9a" stroke-width="0.6"/>
<line x1="386.4" y1="146.42" x2="388.2" y2="146.42" stroke="#9a9a9a" stroke-width="0.6"/>
<line x1="386.4" y1="141.89" x2="388.2" y2="141.89" stroke="#9a9a9a" stroke-width="0.6"/>
<line x1="386.4" y1="137.96" x2="388.2" y2="137.96" stroke="#9a9a9a" stroke-width="0.6"/>
<line x1="386.4" y1="134.5" x2="388.2" y2="134.5" stroke="#9a9a9a" stroke-width="0.6"/>
<line x1="386.4" y1="111.02" x2="388.2" y2="111.02" stroke="#9a9a9a" stroke-width="0.6"/>
<line x1="386.4" y1="99.1" x2="388.2" y2="99.1" stroke="#9a9a9a" stroke-width="0.6"/>
<line x1="386.4" y1="90.64" x2="388.2" y2="90.64" stroke="#9a9a9a" stroke-width="0.6"/>
<line x1="386.4" y1="84.08" x2="388.2" y2="84.08" stroke="#9a9a9a" stroke-width="0.6"/>
<line x1="386.4" y1="78.72" x2="388.2" y2="78.72" stroke="#9a9a9a" stroke-width="0.6"/>
<line x1="386.4" y1="74.19" x2="388.2" y2="74.19" stroke="#9a9a9a" stroke-width="0.6"/>
<line x1="386.4" y1="70.26" x2="388.2" y2="70.26" stroke="#9a9a9a" stroke-width="0.6"/>
<line x1="386.4" y1="66.8" x2="388.2" y2="66.8" stroke="#9a9a9a" stroke-width="0.6"/>
<line x1="388.4" y1="151.5" x2="388.4" y2="154" stroke="#9a9a9a" stroke-width="0.7"/>
<text x="388.4" y="162.8" font-size="7.3" text-anchor="middle" fill="#1a1a1a" class="t">0</text>
<line x1="407.31" y1="151.5" x2="407.31" y2="154" stroke="#9a9a9a" stroke-width="0.7"/>
<text x="407.31" y="162.8" font-size="7.3" text-anchor="middle" fill="#1a1a1a" class="t">5</text>
<line x1="426.23" y1="151.5" x2="426.23" y2="154" stroke="#9a9a9a" stroke-width="0.7"/>
<text x="426.23" y="162.8" font-size="7.3" text-anchor="middle" fill="#1a1a1a" class="t">10</text>
<line x1="445.14" y1="151.5" x2="445.14" y2="154" stroke="#9a9a9a" stroke-width="0.7"/>
<text x="445.14" y="162.8" font-size="7.3" text-anchor="middle" fill="#1a1a1a" class="t">15</text>
<line x1="464.06" y1="151.5" x2="464.06" y2="154" stroke="#9a9a9a" stroke-width="0.7"/>
<text x="464.06" y="162.8" font-size="7.3" text-anchor="middle" fill="#1a1a1a" class="t">20</text>
<line x1="482.97" y1="151.5" x2="482.97" y2="154" stroke="#9a9a9a" stroke-width="0.7"/>
<text x="482.97" y="162.8" font-size="7.3" text-anchor="middle" fill="#1a1a1a" class="t">25</text>
<line x1="501.89" y1="151.5" x2="501.89" y2="154" stroke="#9a9a9a" stroke-width="0.7"/>
<text x="501.89" y="162.8" font-size="7.3" text-anchor="middle" fill="#1a1a1a" class="t">30</text>
<text x="440" y="173" font-size="6.75" font-weight="bold" text-anchor="middle" fill="#1a1a1a">Time after first dose (d)</text>
<text x="369" y="107" font-size="6.75" font-weight="bold" text-anchor="middle" fill="#1a1a1a" transform="rotate(-90 369 107)">Relative tumor volume</text>
<line x1="388.4" y1="131.4" x2="500" y2="131.4" stroke="#aaaaaa" stroke-width="0.7" stroke-dasharray="1.2,1.8"/>
<polyline points="388.6,131.4 415.4,123.6 441.4,123.6 467.9,122.2 494.4,124.2" fill="none" stroke="#cdd628" stroke-width="1.0" stroke-linejoin="round"/>
<line x1="415.4" y1="121.6" x2="415.4" y2="125.6" stroke="#cdd628" stroke-width="0.6"/>
<line x1="414.2" y1="121.6" x2="416.6" y2="121.6" stroke="#cdd628" stroke-width="0.6"/>
<line x1="414.2" y1="125.6" x2="416.6" y2="125.6" stroke="#cdd628" stroke-width="0.6"/>
<line x1="441.4" y1="121.6" x2="441.4" y2="125.6" stroke="#cdd628" stroke-width="0.6"/>
<line x1="440.2" y1="121.6" x2="442.6" y2="121.6" stroke="#cdd628" stroke-width="0.6"/>
<line x1="440.2" y1="125.6" x2="442.6" y2="125.6" stroke="#cdd628" stroke-width="0.6"/>
<line x1="467.9" y1="120.7" x2="467.9" y2="123.7" stroke="#cdd628" stroke-width="0.6"/>
<line x1="466.7" y1="120.7" x2="469.1" y2="120.7" stroke="#cdd628" stroke-width="0.6"/>
<line x1="466.7" y1="123.7" x2="469.1" y2="123.7" stroke="#cdd628" stroke-width="0.6"/>
<line x1="494.4" y1="121.7" x2="494.4" y2="126.7" stroke="#cdd628" stroke-width="0.6"/>
<line x1="493.2" y1="121.7" x2="495.6" y2="121.7" stroke="#cdd628" stroke-width="0.6"/>
<line x1="493.2" y1="126.7" x2="495.6" y2="126.7" stroke="#cdd628" stroke-width="0.6"/>
<circle cx="388.6" cy="131.4" r="2.15" fill="#cdd628"/>
<circle cx="415.4" cy="123.6" r="2.15" fill="#cdd628"/>
<circle cx="441.4" cy="123.6" r="2.15" fill="#cdd628"/>
<circle cx="467.9" cy="122.2" r="2.15" fill="#cdd628"/>
<circle cx="494.4" cy="124.2" r="2.15" fill="#cdd628"/>
<polyline points="388.6,131.4 415.4,130 441.4,133.4 467.9,137 494.4,143.1" fill="none" stroke="#d41a70" stroke-width="1.0" stroke-linejoin="round"/>
<line x1="415.4" y1="127.5" x2="415.4" y2="132.5" stroke="#d41a70" stroke-width="0.6"/>
<line x1="414.2" y1="127.5" x2="416.6" y2="127.5" stroke="#d41a70" stroke-width="0.6"/>
<line x1="414.2" y1="132.5" x2="416.6" y2="132.5" stroke="#d41a70" stroke-width="0.6"/>
<line x1="441.4" y1="130.4" x2="441.4" y2="136.4" stroke="#d41a70" stroke-width="0.6"/>
<line x1="440.2" y1="130.4" x2="442.6" y2="130.4" stroke="#d41a70" stroke-width="0.6"/>
<line x1="440.2" y1="136.4" x2="442.6" y2="136.4" stroke="#d41a70" stroke-width="0.6"/>
<line x1="467.9" y1="134" x2="467.9" y2="140" stroke="#d41a70" stroke-width="0.6"/>
<line x1="466.7" y1="134" x2="469.1" y2="134" stroke="#d41a70" stroke-width="0.6"/>
<line x1="466.7" y1="140" x2="469.1" y2="140" stroke="#d41a70" stroke-width="0.6"/>
<line x1="494.4" y1="139.1" x2="494.4" y2="147.1" stroke="#d41a70" stroke-width="0.6"/>
<line x1="493.2" y1="139.1" x2="495.6" y2="139.1" stroke="#d41a70" stroke-width="0.6"/>
<line x1="493.2" y1="147.1" x2="495.6" y2="147.1" stroke="#d41a70" stroke-width="0.6"/>
<rect x="386.86" y="129.66" width="3.48" height="3.48" fill="#d41a70"/>
<rect x="413.66" y="128.26" width="3.48" height="3.48" fill="#d41a70"/>
<rect x="439.66" y="131.66" width="3.48" height="3.48" fill="#d41a70"/>
<rect x="466.16" y="135.26" width="3.48" height="3.48" fill="#d41a70"/>
<rect x="492.66" y="141.36" width="3.48" height="3.48" fill="#d41a70"/>
<polyline points="388.6,131.4 415.4,114.1 441.4,105.5 467.9,90.2 494.4,81" fill="none" stroke="#2a1a58" stroke-width="1.0" stroke-linejoin="round"/>
<line x1="415.4" y1="112.1" x2="415.4" y2="116.1" stroke="#2a1a58" stroke-width="0.6"/>
<line x1="414.2" y1="112.1" x2="416.6" y2="112.1" stroke="#2a1a58" stroke-width="0.6"/>
<line x1="414.2" y1="116.1" x2="416.6" y2="116.1" stroke="#2a1a58" stroke-width="0.6"/>
<line x1="441.4" y1="102" x2="441.4" y2="109" stroke="#2a1a58" stroke-width="0.6"/>
<line x1="440.2" y1="102" x2="442.6" y2="102" stroke="#2a1a58" stroke-width="0.6"/>
<line x1="440.2" y1="109" x2="442.6" y2="109" stroke="#2a1a58" stroke-width="0.6"/>
<line x1="467.9" y1="86.7" x2="467.9" y2="93.7" stroke="#2a1a58" stroke-width="0.6"/>
<line x1="466.7" y1="86.7" x2="469.1" y2="86.7" stroke="#2a1a58" stroke-width="0.6"/>
<line x1="466.7" y1="93.7" x2="469.1" y2="93.7" stroke="#2a1a58" stroke-width="0.6"/>
<line x1="494.4" y1="77" x2="494.4" y2="85" stroke="#2a1a58" stroke-width="0.6"/>
<line x1="493.2" y1="77" x2="495.6" y2="77" stroke="#2a1a58" stroke-width="0.6"/>
<line x1="493.2" y1="85" x2="495.6" y2="85" stroke="#2a1a58" stroke-width="0.6"/>
<circle cx="388.6" cy="131.4" r="2.15" fill="#2a1a58"/>
<circle cx="415.4" cy="114.1" r="2.15" fill="#2a1a58"/>
<circle cx="441.4" cy="105.5" r="2.15" fill="#2a1a58"/>
<circle cx="467.9" cy="90.2" r="2.15" fill="#2a1a58"/>
<circle cx="494.4" cy="81" r="2.15" fill="#2a1a58"/>
<polyline points="388.6,131.4 415.4,104.6 441.4,94.8 467.9,82.4 494.4,66" fill="none" stroke="#7a1248" stroke-width="1.0" stroke-linejoin="round"/>
<line x1="415.4" y1="101.6" x2="415.4" y2="107.6" stroke="#7a1248" stroke-width="0.6"/>
<line x1="414.2" y1="101.6" x2="416.6" y2="101.6" stroke="#7a1248" stroke-width="0.6"/>
<line x1="414.2" y1="107.6" x2="416.6" y2="107.6" stroke="#7a1248" stroke-width="0.6"/>
<line x1="441.4" y1="91.3" x2="441.4" y2="98.3" stroke="#7a1248" stroke-width="0.6"/>
<line x1="440.2" y1="91.3" x2="442.6" y2="91.3" stroke="#7a1248" stroke-width="0.6"/>
<line x1="440.2" y1="98.3" x2="442.6" y2="98.3" stroke="#7a1248" stroke-width="0.6"/>
<line x1="467.9" y1="78.4" x2="467.9" y2="86.4" stroke="#7a1248" stroke-width="0.6"/>
<line x1="466.7" y1="78.4" x2="469.1" y2="78.4" stroke="#7a1248" stroke-width="0.6"/>
<line x1="466.7" y1="86.4" x2="469.1" y2="86.4" stroke="#7a1248" stroke-width="0.6"/>
<line x1="494.4" y1="61" x2="494.4" y2="71" stroke="#7a1248" stroke-width="0.6"/>
<line x1="493.2" y1="61" x2="495.6" y2="61" stroke="#7a1248" stroke-width="0.6"/>
<line x1="493.2" y1="71" x2="495.6" y2="71" stroke="#7a1248" stroke-width="0.6"/>
<circle cx="388.6" cy="131.4" r="2.15" fill="#7a1248"/>
<circle cx="415.4" cy="104.6" r="2.15" fill="#7a1248"/>
<circle cx="441.4" cy="94.8" r="2.15" fill="#7a1248"/>
<circle cx="467.9" cy="82.4" r="2.15" fill="#7a1248"/>
<circle cx="494.4" cy="66" r="2.15" fill="#7a1248"/>
<text x="391.4" y="144" font-size="4.95" fill="#1a1a1a">Geomean tumour start volume</text>
<text x="391.4" y="149.6" font-size="4.95" fill="#1a1a1a">257 mm³ (102–598 mm³)</text>
<polyline points="503.2,63.2 505.4,63.2 505.4,76.4 503.2,76.4" fill="none" stroke="#555" stroke-width="0.85"/>
<text x="507.6" y="71.8" font-size="7" fill="#1a1a1a">ns</text>
<polyline points="503.2,81 505.4,81 505.4,146.6 503.2,146.6" fill="none" stroke="#555" stroke-width="0.85"/>
<line x1="501.5" y1="125.1" x2="506.5" y2="125.1" stroke="#444" stroke-width="0.8"/>
<text x="508.4" y="105.4" font-size="7" fill="#1a1a1a">****</text>
<text x="508.4" y="139.8" font-size="7" fill="#1a1a1a">**</text>
<text x="0.3" y="193.6" font-size="13" font-weight="bold" fill="#1a1a1a">D</text>
<text x="32.5" y="194.2" font-size="6.75" font-weight="bold" fill="#1a1a1a">CTC174 (<tspan font-style="italic">ESR1</tspan>D538G/<tspan font-style="italic">PIK3CA</tspan> N345K)</text>
<text x="38" y="203.6" font-size="6.75" font-weight="bold" fill="#1a1a1a">Camizestrant + palbociclib</text>
<line x1="29.05" y1="212" x2="39.55" y2="212" stroke="#7a1248" stroke-width="0.7"/>
<circle cx="34.3" cy="212" r="1.9" fill="#7a1248"/>
<text x="43.3" y="214.1" font-size="6" fill="#1a1a1a">Vehicle (<tspan font-style="italic">n</tspan> = 8)</text>
<line x1="29.05" y1="219.7" x2="39.55" y2="219.7" stroke="#cdd628" stroke-width="0.7"/>
<circle cx="34.3" cy="219.7" r="1.9" fill="#cdd628"/>
<text x="43.3" y="221.8" font-size="6" fill="#1a1a1a">Camizestrant 10 mg/kg (<tspan font-style="italic">n</tspan> = 10)</text>
<line x1="29.05" y1="227.5" x2="39.55" y2="227.5" stroke="#9ad3bf" stroke-width="0.7"/>
<circle cx="34.3" cy="227.5" r="1.9" fill="#9ad3bf"/>
<text x="43.3" y="229.6" font-size="6" fill="#1a1a1a">Palbociclib 50 mg/kg (<tspan font-style="italic">n</tspan> = 8)</text>
<line x1="29.05" y1="235.3" x2="39.55" y2="235.3" stroke="#d41a70" stroke-width="0.7"/>
<rect x="32.68" y="233.69" width="3.23" height="3.23" fill="#d41a70"/>
<text x="43.3" y="237.4" font-size="6" fill="#1a1a1a">Camizestrant + palbociclib (<tspan font-style="italic">n</tspan> = 10)</text>
<line x1="26" y1="236" x2="26" y2="324.2" stroke="#9a9a9a" stroke-width="0.8"/>
<line x1="26" y1="324.2" x2="139.8" y2="324.2" stroke="#9a9a9a" stroke-width="0.8"/>
<line x1="23" y1="235.98" x2="26" y2="235.98" stroke="#9a9a9a" stroke-width="0.7"/>
<text x="22.2" y="238.48" font-size="7.3" text-anchor="end" fill="#1a1a1a" class="t">5</text>
<line x1="23" y1="297.7" x2="26" y2="297.7" stroke="#9a9a9a" stroke-width="0.7"/>
<text x="22.2" y="300.2" font-size="7.3" text-anchor="end" fill="#1a1a1a" class="t">1</text>
<line x1="24.2" y1="271.12" x2="26" y2="271.12" stroke="#9a9a9a" stroke-width="0.6"/>
<line x1="24.2" y1="255.57" x2="26" y2="255.57" stroke="#9a9a9a" stroke-width="0.6"/>
<line x1="24.2" y1="244.54" x2="26" y2="244.54" stroke="#9a9a9a" stroke-width="0.6"/>
<line x1="24.2" y1="324.28" x2="26" y2="324.28" stroke="#9a9a9a" stroke-width="0.6"/>
<line x1="24.2" y1="317.29" x2="26" y2="317.29" stroke="#9a9a9a" stroke-width="0.6"/>
<line x1="24.2" y1="311.38" x2="26" y2="311.38" stroke="#9a9a9a" stroke-width="0.6"/>
<line x1="24.2" y1="306.26" x2="26" y2="306.26" stroke="#9a9a9a" stroke-width="0.6"/>
<line x1="24.2" y1="301.74" x2="26" y2="301.74" stroke="#9a9a9a" stroke-width="0.6"/>
<line x1="26" y1="324.2" x2="26" y2="326.7" stroke="#9a9a9a" stroke-width="0.7"/>
<text x="26" y="335.2" font-size="7.3" text-anchor="middle" fill="#1a1a1a" class="t">0</text>
<line x1="48.6" y1="324.2" x2="48.6" y2="326.7" stroke="#9a9a9a" stroke-width="0.7"/>
<text x="48.6" y="335.2" font-size="7.3" text-anchor="middle" fill="#1a1a1a" class="t">5</text>
<line x1="71.2" y1="324.2" x2="71.2" y2="326.7" stroke="#9a9a9a" stroke-width="0.7"/>
<text x="71.2" y="335.2" font-size="7.3" text-anchor="middle" fill="#1a1a1a" class="t">10</text>
<line x1="93.8" y1="324.2" x2="93.8" y2="326.7" stroke="#9a9a9a" stroke-width="0.7"/>
<text x="93.8" y="335.2" font-size="7.3" text-anchor="middle" fill="#1a1a1a" class="t">15</text>
<line x1="116.4" y1="324.2" x2="116.4" y2="326.7" stroke="#9a9a9a" stroke-width="0.7"/>
<text x="116.4" y="335.2" font-size="7.3" text-anchor="middle" fill="#1a1a1a" class="t">20</text>
<line x1="139.7" y1="324.2" x2="139.7" y2="326.7" stroke="#9a9a9a" stroke-width="0.7"/>
<text x="139.7" y="335.2" font-size="7.3" text-anchor="middle" fill="#1a1a1a" class="t">30</text>
<text x="77.6" y="344.2" font-size="6.75" font-weight="bold" text-anchor="middle" fill="#1a1a1a">Time after first dose (d)</text>
<text x="8.7" y="280.4" font-size="6.75" font-weight="bold" text-anchor="middle" fill="#1a1a1a" transform="rotate(-90 8.7 280.4)">Relative tumor volume</text>
<line x1="26" y1="297.7" x2="138" y2="297.7" stroke="#aab8d0" stroke-width="0.7" stroke-dasharray="1.2,1.8"/>
<polyline points="26,297.7 34.6,294 53.4,287 66.9,279.8 85,284.1 98.6,284.7 116.8,290.8 131.2,294.2" fill="none" stroke="#9ad3bf" stroke-width="1.0" stroke-linejoin="round"/>
<line x1="34.6" y1="289" x2="34.6" y2="299" stroke="#9ad3bf" stroke-width="0.6"/>
<line x1="33.4" y1="289" x2="35.8" y2="289" stroke="#9ad3bf" stroke-width="0.6"/>
<line x1="33.4" y1="299" x2="35.8" y2="299" stroke="#9ad3bf" stroke-width="0.6"/>
<line x1="53.4" y1="281" x2="53.4" y2="293" stroke="#9ad3bf" stroke-width="0.6"/>
<line x1="52.2" y1="281" x2="54.6" y2="281" stroke="#9ad3bf" stroke-width="0.6"/>
<line x1="52.2" y1="293" x2="54.6" y2="293" stroke="#9ad3bf" stroke-width="0.6"/>
<line x1="66.9" y1="273.8" x2="66.9" y2="285.8" stroke="#9ad3bf" stroke-width="0.6"/>
<line x1="65.7" y1="273.8" x2="68.1" y2="273.8" stroke="#9ad3bf" stroke-width="0.6"/>
<line x1="65.7" y1="285.8" x2="68.1" y2="285.8" stroke="#9ad3bf" stroke-width="0.6"/>
<line x1="85" y1="278.1" x2="85" y2="290.1" stroke="#9ad3bf" stroke-width="0.6"/>
<line x1="83.8" y1="278.1" x2="86.2" y2="278.1" stroke="#9ad3bf" stroke-width="0.6"/>
<line x1="83.8" y1="290.1" x2="86.2" y2="290.1" stroke="#9ad3bf" stroke-width="0.6"/>
<line x1="98.6" y1="278.7" x2="98.6" y2="290.7" stroke="#9ad3bf" stroke-width="0.6"/>
<line x1="97.4" y1="278.7" x2="99.8" y2="278.7" stroke="#9ad3bf" stroke-width="0.6"/>
<line x1="97.4" y1="290.7" x2="99.8" y2="290.7" stroke="#9ad3bf" stroke-width="0.6"/>
<line x1="116.8" y1="284.8" x2="116.8" y2="296.8" stroke="#9ad3bf" stroke-width="0.6"/>
<line x1="115.6" y1="284.8" x2="118" y2="284.8" stroke="#9ad3bf" stroke-width="0.6"/>
<line x1="115.6" y1="296.8" x2="118" y2="296.8" stroke="#9ad3bf" stroke-width="0.6"/>
<line x1="131.2" y1="288.2" x2="131.2" y2="300.2" stroke="#9ad3bf" stroke-width="0.6"/>
<line x1="130" y1="288.2" x2="132.4" y2="288.2" stroke="#9ad3bf" stroke-width="0.6"/>
<line x1="130" y1="300.2" x2="132.4" y2="300.2" stroke="#9ad3bf" stroke-width="0.6"/>
<circle cx="26" cy="297.7" r="2.15" fill="#9ad3bf"/>
<circle cx="34.6" cy="294" r="2.15" fill="#9ad3bf"/>
<circle cx="53.4" cy="287" r="2.15" fill="#9ad3bf"/>
<circle cx="66.9" cy="279.8" r="2.15" fill="#9ad3bf"/>
<circle cx="85" cy="284.1" r="2.15" fill="#9ad3bf"/>
<circle cx="98.6" cy="284.7" r="2.15" fill="#9ad3bf"/>
<circle cx="116.8" cy="290.8" r="2.15" fill="#9ad3bf"/>
<circle cx="131.2" cy="294.2" r="2.15" fill="#9ad3bf"/>
<polyline points="26,297.7 34.6,294.2 53.4,293.4 66.9,283.6 85,284.7 98.6,284.7 116.8,289 131.2,293.4" fill="none" stroke="#cdd628" stroke-width="1.0" stroke-linejoin="round"/>
<line x1="34.6" y1="289.2" x2="34.6" y2="299.2" stroke="#cdd628" stroke-width="0.6"/>
<line x1="33.4" y1="289.2" x2="35.8" y2="289.2" stroke="#cdd628" stroke-width="0.6"/>
<line x1="33.4" y1="299.2" x2="35.8" y2="299.2" stroke="#cdd628" stroke-width="0.6"/>
<line x1="53.4" y1="287.4" x2="53.4" y2="299.4" stroke="#cdd628" stroke-width="0.6"/>
<line x1="52.2" y1="287.4" x2="54.6" y2="287.4" stroke="#cdd628" stroke-width="0.6"/>
<line x1="52.2" y1="299.4" x2="54.6" y2="299.4" stroke="#cdd628" stroke-width="0.6"/>
<line x1="66.9" y1="276.6" x2="66.9" y2="290.6" stroke="#cdd628" stroke-width="0.6"/>
<line x1="65.7" y1="276.6" x2="68.1" y2="276.6" stroke="#cdd628" stroke-width="0.6"/>
<line x1="65.7" y1="290.6" x2="68.1" y2="290.6" stroke="#cdd628" stroke-width="0.6"/>
<line x1="85" y1="277.7" x2="85" y2="291.7" stroke="#cdd628" stroke-width="0.6"/>
<line x1="83.8" y1="277.7" x2="86.2" y2="277.7" stroke="#cdd628" stroke-width="0.6"/>
<line x1="83.8" y1="291.7" x2="86.2" y2="291.7" stroke="#cdd628" stroke-width="0.6"/>
<line x1="98.6" y1="276.7" x2="98.6" y2="292.7" stroke="#cdd628" stroke-width="0.6"/>
<line x1="97.4" y1="276.7" x2="99.8" y2="276.7" stroke="#cdd628" stroke-width="0.6"/>
<line x1="97.4" y1="292.7" x2="99.8" y2="292.7" stroke="#cdd628" stroke-width="0.6"/>
<line x1="116.8" y1="282" x2="116.8" y2="296" stroke="#cdd628" stroke-width="0.6"/>
<line x1="115.6" y1="282" x2="118" y2="282" stroke="#cdd628" stroke-width="0.6"/>
<line x1="115.6" y1="296" x2="118" y2="296" stroke="#cdd628" stroke-width="0.6"/>
<line x1="131.2" y1="286.4" x2="131.2" y2="300.4" stroke="#cdd628" stroke-width="0.6"/>
<line x1="130" y1="286.4" x2="132.4" y2="286.4" stroke="#cdd628" stroke-width="0.6"/>
<line x1="130" y1="300.4" x2="132.4" y2="300.4" stroke="#cdd628" stroke-width="0.6"/>
<circle cx="26" cy="297.7" r="2.15" fill="#cdd628"/>
<circle cx="34.6" cy="294.2" r="2.15" fill="#cdd628"/>
<circle cx="53.4" cy="293.4" r="2.15" fill="#cdd628"/>
<circle cx="66.9" cy="283.6" r="2.15" fill="#cdd628"/>
<circle cx="85" cy="284.7" r="2.15" fill="#cdd628"/>
<circle cx="98.6" cy="284.7" r="2.15" fill="#cdd628"/>
<circle cx="116.8" cy="289" r="2.15" fill="#cdd628"/>
<circle cx="131.2" cy="293.4" r="2.15" fill="#cdd628"/>
<polyline points="26,297.7 34.6,286.4 53.4,293.4 66.9,293.6 85,299.4 98.6,295.7 116.8,307.2 131.2,314.4" fill="none" stroke="#d41a70" stroke-width="1.0" stroke-linejoin="round"/>
<line x1="34.6" y1="281.4" x2="34.6" y2="291.4" stroke="#d41a70" stroke-width="0.6"/>
<line x1="33.4" y1="281.4" x2="35.8" y2="281.4" stroke="#d41a70" stroke-width="0.6"/>
<line x1="33.4" y1="291.4" x2="35.8" y2="291.4" stroke="#d41a70" stroke-width="0.6"/>
<line x1="53.4" y1="287.4" x2="53.4" y2="299.4" stroke="#d41a70" stroke-width="0.6"/>
<line x1="52.2" y1="287.4" x2="54.6" y2="287.4" stroke="#d41a70" stroke-width="0.6"/>
<line x1="52.2" y1="299.4" x2="54.6" y2="299.4" stroke="#d41a70" stroke-width="0.6"/>
<line x1="66.9" y1="286.6" x2="66.9" y2="300.6" stroke="#d41a70" stroke-width="0.6"/>
<line x1="65.7" y1="286.6" x2="68.1" y2="286.6" stroke="#d41a70" stroke-width="0.6"/>
<line x1="65.7" y1="300.6" x2="68.1" y2="300.6" stroke="#d41a70" stroke-width="0.6"/>
<line x1="85" y1="291.4" x2="85" y2="307.4" stroke="#d41a70" stroke-width="0.6"/>
<line x1="83.8" y1="291.4" x2="86.2" y2="291.4" stroke="#d41a70" stroke-width="0.6"/>
<line x1="83.8" y1="307.4" x2="86.2" y2="307.4" stroke="#d41a70" stroke-width="0.6"/>
<line x1="98.6" y1="286.7" x2="98.6" y2="304.7" stroke="#d41a70" stroke-width="0.6"/>
<line x1="97.4" y1="286.7" x2="99.8" y2="286.7" stroke="#d41a70" stroke-width="0.6"/>
<line x1="97.4" y1="304.7" x2="99.8" y2="304.7" stroke="#d41a70" stroke-width="0.6"/>
<line x1="116.8" y1="294.2" x2="116.8" y2="320.2" stroke="#d41a70" stroke-width="0.6"/>
<line x1="115.6" y1="294.2" x2="118" y2="294.2" stroke="#d41a70" stroke-width="0.6"/>
<line x1="115.6" y1="320.2" x2="118" y2="320.2" stroke="#d41a70" stroke-width="0.6"/>
<line x1="131.2" y1="305.4" x2="131.2" y2="323.4" stroke="#d41a70" stroke-width="0.6"/>
<line x1="130" y1="305.4" x2="132.4" y2="305.4" stroke="#d41a70" stroke-width="0.6"/>
<line x1="130" y1="323.4" x2="132.4" y2="323.4" stroke="#d41a70" stroke-width="0.6"/>
<rect x="24.26" y="295.96" width="3.48" height="3.48" fill="#d41a70"/>
<rect x="32.86" y="284.66" width="3.48" height="3.48" fill="#d41a70"/>
<rect x="51.66" y="291.66" width="3.48" height="3.48" fill="#d41a70"/>
<rect x="65.16" y="291.86" width="3.48" height="3.48" fill="#d41a70"/>
<rect x="83.26" y="297.66" width="3.48" height="3.48" fill="#d41a70"/>
<rect x="96.86" y="293.96" width="3.48" height="3.48" fill="#d41a70"/>
<rect x="115.06" y="305.46" width="3.48" height="3.48" fill="#d41a70"/>
<rect x="129.46" y="312.66" width="3.48" height="3.48" fill="#d41a70"/>
<polyline points="26,297.7 34.6,297.7 53.4,287.9 66.9,276.9 85,274.9 98.6,263.9 116.8,263.4 131.2,252.4" fill="none" stroke="#7a1248" stroke-width="1.0" stroke-linejoin="round"/>
<line x1="34.6" y1="293.7" x2="34.6" y2="301.7" stroke="#7a1248" stroke-width="0.6"/>
<line x1="33.4" y1="293.7" x2="35.8" y2="293.7" stroke="#7a1248" stroke-width="0.6"/>
<line x1="33.4" y1="301.7" x2="35.8" y2="301.7" stroke="#7a1248" stroke-width="0.6"/>
<line x1="53.4" y1="282.9" x2="53.4" y2="292.9" stroke="#7a1248" stroke-width="0.6"/>
<line x1="52.2" y1="282.9" x2="54.6" y2="282.9" stroke="#7a1248" stroke-width="0.6"/>
<line x1="52.2" y1="292.9" x2="54.6" y2="292.9" stroke="#7a1248" stroke-width="0.6"/>
<line x1="66.9" y1="270.9" x2="66.9" y2="282.9" stroke="#7a1248" stroke-width="0.6"/>
<line x1="65.7" y1="270.9" x2="68.1" y2="270.9" stroke="#7a1248" stroke-width="0.6"/>
<line x1="65.7" y1="282.9" x2="68.1" y2="282.9" stroke="#7a1248" stroke-width="0.6"/>
<line x1="85" y1="267.9" x2="85" y2="281.9" stroke="#7a1248" stroke-width="0.6"/>
<line x1="83.8" y1="267.9" x2="86.2" y2="267.9" stroke="#7a1248" stroke-width="0.6"/>
<line x1="83.8" y1="281.9" x2="86.2" y2="281.9" stroke="#7a1248" stroke-width="0.6"/>
<line x1="98.6" y1="257.9" x2="98.6" y2="269.9" stroke="#7a1248" stroke-width="0.6"/>
<line x1="97.4" y1="257.9" x2="99.8" y2="257.9" stroke="#7a1248" stroke-width="0.6"/>
<line x1="97.4" y1="269.9" x2="99.8" y2="269.9" stroke="#7a1248" stroke-width="0.6"/>
<line x1="116.8" y1="252.9" x2="116.8" y2="273.9" stroke="#7a1248" stroke-width="0.6"/>
<line x1="115.6" y1="252.9" x2="118" y2="252.9" stroke="#7a1248" stroke-width="0.6"/>
<line x1="115.6" y1="273.9" x2="118" y2="273.9" stroke="#7a1248" stroke-width="0.6"/>
<line x1="131.2" y1="244.1" x2="131.2" y2="260.7" stroke="#7a1248" stroke-width="0.6"/>
<line x1="130" y1="244.1" x2="132.4" y2="244.1" stroke="#7a1248" stroke-width="0.6"/>
<line x1="130" y1="260.7" x2="132.4" y2="260.7" stroke="#7a1248" stroke-width="0.6"/>
<circle cx="26" cy="297.7" r="2.15" fill="#7a1248"/>
<circle cx="34.6" cy="297.7" r="2.15" fill="#7a1248"/>
<circle cx="53.4" cy="287.9" r="2.15" fill="#7a1248"/>
<circle cx="66.9" cy="276.9" r="2.15" fill="#7a1248"/>
<circle cx="85" cy="274.9" r="2.15" fill="#7a1248"/>
<circle cx="98.6" cy="263.9" r="2.15" fill="#7a1248"/>
<circle cx="116.8" cy="263.4" r="2.15" fill="#7a1248"/>
<circle cx="131.2" cy="252.4" r="2.15" fill="#7a1248"/>
<polyline points="134.9,252.9 137.1,252.9 137.1,289.8 134.9,289.8" fill="none" stroke="#555" stroke-width="0.85"/>
<text x="138.3" y="270.9" font-size="7" fill="#1a1a1a">***</text>
<polyline points="145.2,253.5 147.4,253.5 147.4,292.3 145.2,292.3" fill="none" stroke="#555" stroke-width="0.85"/>
<text x="148.7" y="276.5" font-size="7" fill="#1a1a1a">***</text>
<polyline points="136.3,297 138.5,297 138.5,316.7 136.3,316.7" fill="none" stroke="#555" stroke-width="0.85"/>
<text x="139.8" y="310.7" font-size="7" fill="#1a1a1a">**</text>
<polyline points="144.7,300.8 146.9,300.8 146.9,316.5 144.7,316.5" fill="none" stroke="#555" stroke-width="0.85"/>
<text x="148.8" y="312.8" font-size="7" fill="#1a1a1a">*</text>
<text x="247.3" y="193.6" font-size="13" font-weight="bold" fill="#1a1a1a">E</text>
<text x="302.2" y="194.4" font-size="6.75" font-weight="bold" fill="#1a1a1a">ST3632 (<tspan font-style="italic">ESR1</tspan> wt/<tspan font-style="italic">PIK3CA</tspan> wt; <tspan font-style="italic">AKT1</tspan> E17K)</text>
<line x1="276.25" y1="207.5" x2="276.25" y2="312.2" stroke="#9a9a9a" stroke-width="0.8"/>
<line x1="276.25" y1="312.2" x2="380" y2="312.2" stroke="#9a9a9a" stroke-width="0.8"/>
<line x1="273.3" y1="208.75" x2="276.25" y2="208.75" stroke="#9a9a9a" stroke-width="0.7"/>
<text x="269.8" y="211.25" font-size="7.3" text-anchor="end" fill="#1a1a1a" class="t">8</text>
<line x1="273.3" y1="239.75" x2="276.25" y2="239.75" stroke="#9a9a9a" stroke-width="0.7"/>
<text x="269.8" y="242.25" font-size="7.3" text-anchor="end" fill="#1a1a1a" class="t">4</text>
<line x1="273.3" y1="270.75" x2="276.25" y2="270.75" stroke="#9a9a9a" stroke-width="0.7"/>
<text x="269.8" y="273.25" font-size="7.3" text-anchor="end" fill="#1a1a1a" class="t">2</text>
<line x1="276.25" y1="312.2" x2="276.25" y2="314.7" stroke="#9a9a9a" stroke-width="0.7"/>
<text x="276.25" y="322.6" font-size="7.3" text-anchor="middle" fill="#1a1a1a" class="t">0</text>
<line x1="293.54" y1="312.2" x2="293.54" y2="314.7" stroke="#9a9a9a" stroke-width="0.7"/>
<text x="293.54" y="322.6" font-size="7.3" text-anchor="middle" fill="#1a1a1a" class="t">5</text>
<line x1="310.83" y1="312.2" x2="310.83" y2="314.7" stroke="#9a9a9a" stroke-width="0.7"/>
<text x="310.83" y="322.6" font-size="7.3" text-anchor="middle" fill="#1a1a1a" class="t">10</text>
<line x1="328.12" y1="312.2" x2="328.12" y2="314.7" stroke="#9a9a9a" stroke-width="0.7"/>
<text x="328.12" y="322.6" font-size="7.3" text-anchor="middle" fill="#1a1a1a" class="t">15</text>
<line x1="345.41" y1="312.2" x2="345.41" y2="314.7" stroke="#9a9a9a" stroke-width="0.7"/>
<text x="345.41" y="322.6" font-size="7.3" text-anchor="middle" fill="#1a1a1a" class="t">20</text>
<line x1="362.7" y1="312.2" x2="362.7" y2="314.7" stroke="#9a9a9a" stroke-width="0.7"/>
<text x="362.7" y="322.6" font-size="7.3" text-anchor="middle" fill="#1a1a1a" class="t">25</text>
<line x1="379.99" y1="312.2" x2="379.99" y2="314.7" stroke="#9a9a9a" stroke-width="0.7"/>
<text x="379.99" y="322.6" font-size="7.3" text-anchor="middle" fill="#1a1a1a" class="t">30</text>
<text x="328.3" y="331.7" font-size="6.75" font-weight="bold" text-anchor="middle" fill="#1a1a1a">Days of treatment</text>
<text x="257.6" y="262.2" font-size="6.75" font-weight="bold" text-anchor="middle" fill="#1a1a1a" transform="rotate(-90 257.6 262.2)">Relative tumor volume</text>
<line x1="280" y1="290" x2="380" y2="290" stroke="#e8a0c0" stroke-width="0.7" stroke-dasharray="1.2,1.8"/>
<polyline points="276.25,301.75 290.08,283.75 300.46,277.5 314.29,270 324.66,263 338.49,253 348.87,248.75 362.7,240.5 373.07,235" fill="none" stroke="#8fd0ec" stroke-width="0.8" stroke-linejoin="round"/>
<line x1="290.08" y1="281.75" x2="290.08" y2="285.75" stroke="#8fd0ec" stroke-width="0.6"/>
<line x1="288.88" y1="281.75" x2="291.28" y2="281.75" stroke="#8fd0ec" stroke-width="0.6"/>
<line x1="288.88" y1="285.75" x2="291.28" y2="285.75" stroke="#8fd0ec" stroke-width="0.6"/>
<line x1="300.46" y1="274.5" x2="300.46" y2="280.5" stroke="#8fd0ec" stroke-width="0.6"/>
<line x1="299.26" y1="274.5" x2="301.66" y2="274.5" stroke="#8fd0ec" stroke-width="0.6"/>
<line x1="299.26" y1="280.5" x2="301.66" y2="280.5" stroke="#8fd0ec" stroke-width="0.6"/>
<line x1="314.29" y1="266.5" x2="314.29" y2="273.5" stroke="#8fd0ec" stroke-width="0.6"/>
<line x1="313.09" y1="266.5" x2="315.49" y2="266.5" stroke="#8fd0ec" stroke-width="0.6"/>
<line x1="313.09" y1="273.5" x2="315.49" y2="273.5" stroke="#8fd0ec" stroke-width="0.6"/>
<line x1="324.66" y1="259.5" x2="324.66" y2="266.5" stroke="#8fd0ec" stroke-width="0.6"/>
<line x1="323.46" y1="259.5" x2="325.86" y2="259.5" stroke="#8fd0ec" stroke-width="0.6"/>
<line x1="323.46" y1="266.5" x2="325.86" y2="266.5" stroke="#8fd0ec" stroke-width="0.6"/>
<line x1="338.49" y1="249" x2="338.49" y2="257" stroke="#8fd0ec" stroke-width="0.6"/>
<line x1="337.29" y1="249" x2="339.69" y2="249" stroke="#8fd0ec" stroke-width="0.6"/>
<line x1="337.29" y1="257" x2="339.69" y2="257" stroke="#8fd0ec" stroke-width="0.6"/>
<line x1="348.87" y1="244.75" x2="348.87" y2="252.75" stroke="#8fd0ec" stroke-width="0.6"/>
<line x1="347.67" y1="244.75" x2="350.07" y2="244.75" stroke="#8fd0ec" stroke-width="0.6"/>
<line x1="347.67" y1="252.75" x2="350.07" y2="252.75" stroke="#8fd0ec" stroke-width="0.6"/>
<line x1="362.7" y1="236" x2="362.7" y2="245" stroke="#8fd0ec" stroke-width="0.6"/>
<line x1="361.5" y1="236" x2="363.9" y2="236" stroke="#8fd0ec" stroke-width="0.6"/>
<line x1="361.5" y1="245" x2="363.9" y2="245" stroke="#8fd0ec" stroke-width="0.6"/>
<line x1="373.07" y1="230" x2="373.07" y2="240" stroke="#8fd0ec" stroke-width="0.6"/>
<line x1="371.87" y1="230" x2="374.27" y2="230" stroke="#8fd0ec" stroke-width="0.6"/>
<line x1="371.87" y1="240" x2="374.27" y2="240" stroke="#8fd0ec" stroke-width="0.6"/>
<circle cx="276.25" cy="301.75" r="1.2" fill="#8fd0ec"/>
<circle cx="290.08" cy="283.75" r="1.2" fill="#8fd0ec"/>
<circle cx="300.46" cy="277.5" r="1.2" fill="#8fd0ec"/>
<circle cx="314.29" cy="270" r="1.2" fill="#8fd0ec"/>
<circle cx="324.66" cy="263" r="1.2" fill="#8fd0ec"/>
<circle cx="338.49" cy="253" r="1.2" fill="#8fd0ec"/>
<circle cx="348.87" cy="248.75" r="1.2" fill="#8fd0ec"/>
<circle cx="362.7" cy="240.5" r="1.2" fill="#8fd0ec"/>
<circle cx="373.07" cy="235" r="1.2" fill="#8fd0ec"/>
<polyline points="276.25,301.75 290.08,280 300.46,266.25 314.29,257.5 324.66,247.5 338.49,237.5 348.87,232.5 362.7,221.25 373.07,215" fill="none" stroke="#a9b6bf" stroke-width="0.8" stroke-linejoin="round"/>
<line x1="290.08" y1="278" x2="290.08" y2="282" stroke="#a9b6bf" stroke-width="0.6"/>
<line x1="288.88" y1="278" x2="291.28" y2="278" stroke="#a9b6bf" stroke-width="0.6"/>
<line x1="288.88" y1="282" x2="291.28" y2="282" stroke="#a9b6bf" stroke-width="0.6"/>
<line x1="300.46" y1="263.25" x2="300.46" y2="269.25" stroke="#a9b6bf" stroke-width="0.6"/>
<line x1="299.26" y1="263.25" x2="301.66" y2="263.25" stroke="#a9b6bf" stroke-width="0.6"/>
<line x1="299.26" y1="269.25" x2="301.66" y2="269.25" stroke="#a9b6bf" stroke-width="0.6"/>
<line x1="314.29" y1="254.5" x2="314.29" y2="260.5" stroke="#a9b6bf" stroke-width="0.6"/>
<line x1="313.09" y1="254.5" x2="315.49" y2="254.5" stroke="#a9b6bf" stroke-width="0.6"/>
<line x1="313.09" y1="260.5" x2="315.49" y2="260.5" stroke="#a9b6bf" stroke-width="0.6"/>
<line x1="324.66" y1="244.5" x2="324.66" y2="250.5" stroke="#a9b6bf" stroke-width="0.6"/>
<line x1="323.46" y1="244.5" x2="325.86" y2="244.5" stroke="#a9b6bf" stroke-width="0.6"/>
<line x1="323.46" y1="250.5" x2="325.86" y2="250.5" stroke="#a9b6bf" stroke-width="0.6"/>
<line x1="338.49" y1="234" x2="338.49" y2="241" stroke="#a9b6bf" stroke-width="0.6"/>
<line x1="337.29" y1="234" x2="339.69" y2="234" stroke="#a9b6bf" stroke-width="0.6"/>
<line x1="337.29" y1="241" x2="339.69" y2="241" stroke="#a9b6bf" stroke-width="0.6"/>
<line x1="348.87" y1="229" x2="348.87" y2="236" stroke="#a9b6bf" stroke-width="0.6"/>
<line x1="347.67" y1="229" x2="350.07" y2="229" stroke="#a9b6bf" stroke-width="0.6"/>
<line x1="347.67" y1="236" x2="350.07" y2="236" stroke="#a9b6bf" stroke-width="0.6"/>
<line x1="362.7" y1="217.25" x2="362.7" y2="225.25" stroke="#a9b6bf" stroke-width="0.6"/>
<line x1="361.5" y1="217.25" x2="363.9" y2="217.25" stroke="#a9b6bf" stroke-width="0.6"/>
<line x1="361.5" y1="225.25" x2="363.9" y2="225.25" stroke="#a9b6bf" stroke-width="0.6"/>
<line x1="373.07" y1="210" x2="373.07" y2="220" stroke="#a9b6bf" stroke-width="0.6"/>
<line x1="371.87" y1="210" x2="374.27" y2="210" stroke="#a9b6bf" stroke-width="0.6"/>
<line x1="371.87" y1="220" x2="374.27" y2="220" stroke="#a9b6bf" stroke-width="0.6"/>
<circle cx="276.25" cy="301.75" r="1.2" fill="#a9b6bf"/>
<circle cx="290.08" cy="280" r="1.2" fill="#a9b6bf"/>
<circle cx="300.46" cy="266.25" r="1.2" fill="#a9b6bf"/>
<circle cx="314.29" cy="257.5" r="1.2" fill="#a9b6bf"/>
<circle cx="324.66" cy="247.5" r="1.2" fill="#a9b6bf"/>
<circle cx="338.49" cy="237.5" r="1.2" fill="#a9b6bf"/>
<circle cx="348.87" cy="232.5" r="1.2" fill="#a9b6bf"/>
<circle cx="362.7" cy="221.25" r="1.2" fill="#a9b6bf"/>
<circle cx="373.07" cy="215" r="1.2" fill="#a9b6bf"/>
<polyline points="276.25,301.75 290.08,278.25 300.46,263.75 314.29,253.75 324.66,245 338.49,234.5 348.87,227 362.7,218.25 373.07,213" fill="none" stroke="#7a1248" stroke-width="0.8" stroke-linejoin="round"/>
<line x1="290.08" y1="276.75" x2="290.08" y2="279.75" stroke="#7a1248" stroke-width="0.6"/>
<line x1="288.88" y1="276.75" x2="291.28" y2="276.75" stroke="#7a1248" stroke-width="0.6"/>
<line x1="288.88" y1="279.75" x2="291.28" y2="279.75" stroke="#7a1248" stroke-width="0.6"/>
<line x1="300.46" y1="261.75" x2="300.46" y2="265.75" stroke="#7a1248" stroke-width="0.6"/>
<line x1="299.26" y1="261.75" x2="301.66" y2="261.75" stroke="#7a1248" stroke-width="0.6"/>
<line x1="299.26" y1="265.75" x2="301.66" y2="265.75" stroke="#7a1248" stroke-width="0.6"/>
<line x1="314.29" y1="251.75" x2="314.29" y2="255.75" stroke="#7a1248" stroke-width="0.6"/>
<line x1="313.09" y1="251.75" x2="315.49" y2="251.75" stroke="#7a1248" stroke-width="0.6"/>
<line x1="313.09" y1="255.75" x2="315.49" y2="255.75" stroke="#7a1248" stroke-width="0.6"/>
<line x1="324.66" y1="242.5" x2="324.66" y2="247.5" stroke="#7a1248" stroke-width="0.6"/>
<line x1="323.46" y1="242.5" x2="325.86" y2="242.5" stroke="#7a1248" stroke-width="0.6"/>
<line x1="323.46" y1="247.5" x2="325.86" y2="247.5" stroke="#7a1248" stroke-width="0.6"/>
<line x1="338.49" y1="232" x2="338.49" y2="237" stroke="#7a1248" stroke-width="0.6"/>
<line x1="337.29" y1="232" x2="339.69" y2="232" stroke="#7a1248" stroke-width="0.6"/>
<line x1="337.29" y1="237" x2="339.69" y2="237" stroke="#7a1248" stroke-width="0.6"/>
<line x1="348.87" y1="224.5" x2="348.87" y2="229.5" stroke="#7a1248" stroke-width="0.6"/>
<line x1="347.67" y1="224.5" x2="350.07" y2="224.5" stroke="#7a1248" stroke-width="0.6"/>
<line x1="347.67" y1="229.5" x2="350.07" y2="229.5" stroke="#7a1248" stroke-width="0.6"/>
<line x1="362.7" y1="215.25" x2="362.7" y2="221.25" stroke="#7a1248" stroke-width="0.6"/>
<line x1="361.5" y1="215.25" x2="363.9" y2="215.25" stroke="#7a1248" stroke-width="0.6"/>
<line x1="361.5" y1="221.25" x2="363.9" y2="221.25" stroke="#7a1248" stroke-width="0.6"/>
<line x1="373.07" y1="209.5" x2="373.07" y2="216.5" stroke="#7a1248" stroke-width="0.6"/>
<line x1="371.87" y1="209.5" x2="374.27" y2="209.5" stroke="#7a1248" stroke-width="0.6"/>
<line x1="371.87" y1="216.5" x2="374.27" y2="216.5" stroke="#7a1248" stroke-width="0.6"/>
<circle cx="276.25" cy="301.75" r="1.3" fill="#7a1248"/>
<circle cx="290.08" cy="278.25" r="1.3" fill="#7a1248"/>
<circle cx="300.46" cy="263.75" r="1.3" fill="#7a1248"/>
<circle cx="314.29" cy="253.75" r="1.3" fill="#7a1248"/>
<circle cx="324.66" cy="245" r="1.3" fill="#7a1248"/>
<circle cx="338.49" cy="234.5" r="1.3" fill="#7a1248"/>
<circle cx="348.87" cy="227" r="1.3" fill="#7a1248"/>
<circle cx="362.7" cy="218.25" r="1.3" fill="#7a1248"/>
<circle cx="373.07" cy="213" r="1.3" fill="#7a1248"/>
<polyline points="276.25,301.75 290.08,285 300.46,281.25 314.29,276.25 324.66,268.75 338.49,268.75 348.87,267.5 362.7,263.75 373.07,261.25" fill="none" stroke="#cdd628" stroke-width="0.9" stroke-linejoin="round"/>
<line x1="290.08" y1="283" x2="290.08" y2="287" stroke="#cdd628" stroke-width="0.6"/>
<line x1="288.88" y1="283" x2="291.28" y2="283" stroke="#cdd628" stroke-width="0.6"/>
<line x1="288.88" y1="287" x2="291.28" y2="287" stroke="#cdd628" stroke-width="0.6"/>
<line x1="300.46" y1="279.25" x2="300.46" y2="283.25" stroke="#cdd628" stroke-width="0.6"/>
<line x1="299.26" y1="279.25" x2="301.66" y2="279.25" stroke="#cdd628" stroke-width="0.6"/>
<line x1="299.26" y1="283.25" x2="301.66" y2="283.25" stroke="#cdd628" stroke-width="0.6"/>
<line x1="314.29" y1="273.75" x2="314.29" y2="278.75" stroke="#cdd628" stroke-width="0.6"/>
<line x1="313.09" y1="273.75" x2="315.49" y2="273.75" stroke="#cdd628" stroke-width="0.6"/>
<line x1="313.09" y1="278.75" x2="315.49" y2="278.75" stroke="#cdd628" stroke-width="0.6"/>
<line x1="324.66" y1="265.75" x2="324.66" y2="271.75" stroke="#cdd628" stroke-width="0.6"/>
<line x1="323.46" y1="265.75" x2="325.86" y2="265.75" stroke="#cdd628" stroke-width="0.6"/>
<line x1="323.46" y1="271.75" x2="325.86" y2="271.75" stroke="#cdd628" stroke-width="0.6"/>
<line x1="338.49" y1="265.75" x2="338.49" y2="271.75" stroke="#cdd628" stroke-width="0.6"/>
<line x1="337.29" y1="265.75" x2="339.69" y2="265.75" stroke="#cdd628" stroke-width="0.6"/>
<line x1="337.29" y1="271.75" x2="339.69" y2="271.75" stroke="#cdd628" stroke-width="0.6"/>
<line x1="348.87" y1="264.5" x2="348.87" y2="270.5" stroke="#cdd628" stroke-width="0.6"/>
<line x1="347.67" y1="264.5" x2="350.07" y2="264.5" stroke="#cdd628" stroke-width="0.6"/>
<line x1="347.67" y1="270.5" x2="350.07" y2="270.5" stroke="#cdd628" stroke-width="0.6"/>
<line x1="362.7" y1="260.25" x2="362.7" y2="267.25" stroke="#cdd628" stroke-width="0.6"/>
<line x1="361.5" y1="260.25" x2="363.9" y2="260.25" stroke="#cdd628" stroke-width="0.6"/>
<line x1="361.5" y1="267.25" x2="363.9" y2="267.25" stroke="#cdd628" stroke-width="0.6"/>
<line x1="373.07" y1="257.75" x2="373.07" y2="264.75" stroke="#cdd628" stroke-width="0.6"/>
<line x1="371.87" y1="257.75" x2="374.27" y2="257.75" stroke="#cdd628" stroke-width="0.6"/>
<line x1="371.87" y1="264.75" x2="374.27" y2="264.75" stroke="#cdd628" stroke-width="0.6"/>
<circle cx="276.25" cy="301.75" r="1.3" fill="#cdd628"/>
<circle cx="290.08" cy="285" r="1.3" fill="#cdd628"/>
<circle cx="300.46" cy="281.25" r="1.3" fill="#cdd628"/>
<circle cx="314.29" cy="276.25" r="1.3" fill="#cdd628"/>
<circle cx="324.66" cy="268.75" r="1.3" fill="#cdd628"/>
<circle cx="338.49" cy="268.75" r="1.3" fill="#cdd628"/>
<circle cx="348.87" cy="267.5" r="1.3" fill="#cdd628"/>
<circle cx="362.7" cy="263.75" r="1.3" fill="#cdd628"/>
<circle cx="373.07" cy="261.25" r="1.3" fill="#cdd628"/>
<polyline points="276.25,301.75 290.08,290 300.46,283.75 314.29,280.75 324.66,280 338.49,275 348.87,275 362.7,273 373.07,273" fill="none" stroke="#0b2f42" stroke-width="1.4" stroke-linejoin="round"/>
<line x1="290.08" y1="288.5" x2="290.08" y2="291.5" stroke="#0b2f42" stroke-width="0.6"/>
<line x1="288.88" y1="288.5" x2="291.28" y2="288.5" stroke="#0b2f42" stroke-width="0.6"/>
<line x1="288.88" y1="291.5" x2="291.28" y2="291.5" stroke="#0b2f42" stroke-width="0.6"/>
<line x1="300.46" y1="281.75" x2="300.46" y2="285.75" stroke="#0b2f42" stroke-width="0.6"/>
<line x1="299.26" y1="281.75" x2="301.66" y2="281.75" stroke="#0b2f42" stroke-width="0.6"/>
<line x1="299.26" y1="285.75" x2="301.66" y2="285.75" stroke="#0b2f42" stroke-width="0.6"/>
<line x1="314.29" y1="278.75" x2="314.29" y2="282.75" stroke="#0b2f42" stroke-width="0.6"/>
<line x1="313.09" y1="278.75" x2="315.49" y2="278.75" stroke="#0b2f42" stroke-width="0.6"/>
<line x1="313.09" y1="282.75" x2="315.49" y2="282.75" stroke="#0b2f42" stroke-width="0.6"/>
<line x1="324.66" y1="278" x2="324.66" y2="282" stroke="#0b2f42" stroke-width="0.6"/>
<line x1="323.46" y1="278" x2="325.86" y2="278" stroke="#0b2f42" stroke-width="0.6"/>
<line x1="323.46" y1="282" x2="325.86" y2="282" stroke="#0b2f42" stroke-width="0.6"/>
<line x1="338.49" y1="273" x2="338.49" y2="277" stroke="#0b2f42" stroke-width="0.6"/>
<line x1="337.29" y1="273" x2="339.69" y2="273" stroke="#0b2f42" stroke-width="0.6"/>
<line x1="337.29" y1="277" x2="339.69" y2="277" stroke="#0b2f42" stroke-width="0.6"/>
<line x1="348.87" y1="273" x2="348.87" y2="277" stroke="#0b2f42" stroke-width="0.6"/>
<line x1="347.67" y1="273" x2="350.07" y2="273" stroke="#0b2f42" stroke-width="0.6"/>
<line x1="347.67" y1="277" x2="350.07" y2="277" stroke="#0b2f42" stroke-width="0.6"/>
<line x1="362.7" y1="271" x2="362.7" y2="275" stroke="#0b2f42" stroke-width="0.6"/>
<line x1="361.5" y1="271" x2="363.9" y2="271" stroke="#0b2f42" stroke-width="0.6"/>
<line x1="361.5" y1="275" x2="363.9" y2="275" stroke="#0b2f42" stroke-width="0.6"/>
<line x1="373.07" y1="271" x2="373.07" y2="275" stroke="#0b2f42" stroke-width="0.6"/>
<line x1="371.87" y1="271" x2="374.27" y2="271" stroke="#0b2f42" stroke-width="0.6"/>
<line x1="371.87" y1="275" x2="374.27" y2="275" stroke="#0b2f42" stroke-width="0.6"/>
<circle cx="276.25" cy="301.75" r="1.45" fill="#0b2f42"/>
<circle cx="290.08" cy="290" r="1.45" fill="#0b2f42"/>
<circle cx="300.46" cy="283.75" r="1.45" fill="#0b2f42"/>
<circle cx="314.29" cy="280.75" r="1.45" fill="#0b2f42"/>
<circle cx="324.66" cy="280" r="1.45" fill="#0b2f42"/>
<circle cx="338.49" cy="275" r="1.45" fill="#0b2f42"/>
<circle cx="348.87" cy="275" r="1.45" fill="#0b2f42"/>
<circle cx="362.7" cy="273" r="1.45" fill="#0b2f42"/>
<circle cx="373.07" cy="273" r="1.45" fill="#0b2f42"/>
<polyline points="276.25,301.75 290.08,295.5 300.46,295 314.29,288.25 324.66,287 338.49,284.5 348.87,283 362.7,282.5 373.07,282" fill="none" stroke="#d41a70" stroke-width="0.9" stroke-linejoin="round" stroke-dasharray="1.6,1.2"/>
<line x1="290.08" y1="294" x2="290.08" y2="297" stroke="#d41a70" stroke-width="0.6"/>
<line x1="288.88" y1="294" x2="291.28" y2="294" stroke="#d41a70" stroke-width="0.6"/>
<line x1="288.88" y1="297" x2="291.28" y2="297" stroke="#d41a70" stroke-width="0.6"/>
<line x1="300.46" y1="293" x2="300.46" y2="297" stroke="#d41a70" stroke-width="0.6"/>
<line x1="299.26" y1="293" x2="301.66" y2="293" stroke="#d41a70" stroke-width="0.6"/>
<line x1="299.26" y1="297" x2="301.66" y2="297" stroke="#d41a70" stroke-width="0.6"/>
<line x1="314.29" y1="286.25" x2="314.29" y2="290.25" stroke="#d41a70" stroke-width="0.6"/>
<line x1="313.09" y1="286.25" x2="315.49" y2="286.25" stroke="#d41a70" stroke-width="0.6"/>
<line x1="313.09" y1="290.25" x2="315.49" y2="290.25" stroke="#d41a70" stroke-width="0.6"/>
<line x1="324.66" y1="285" x2="324.66" y2="289" stroke="#d41a70" stroke-width="0.6"/>
<line x1="323.46" y1="285" x2="325.86" y2="285" stroke="#d41a70" stroke-width="0.6"/>
<line x1="323.46" y1="289" x2="325.86" y2="289" stroke="#d41a70" stroke-width="0.6"/>
<line x1="338.49" y1="282.5" x2="338.49" y2="286.5" stroke="#d41a70" stroke-width="0.6"/>
<line x1="337.29" y1="282.5" x2="339.69" y2="282.5" stroke="#d41a70" stroke-width="0.6"/>
<line x1="337.29" y1="286.5" x2="339.69" y2="286.5" stroke="#d41a70" stroke-width="0.6"/>
<line x1="348.87" y1="281" x2="348.87" y2="285" stroke="#d41a70" stroke-width="0.6"/>
<line x1="347.67" y1="281" x2="350.07" y2="281" stroke="#d41a70" stroke-width="0.6"/>
<line x1="347.67" y1="285" x2="350.07" y2="285" stroke="#d41a70" stroke-width="0.6"/>
<line x1="362.7" y1="280.5" x2="362.7" y2="284.5" stroke="#d41a70" stroke-width="0.6"/>
<line x1="361.5" y1="280.5" x2="363.9" y2="280.5" stroke="#d41a70" stroke-width="0.6"/>
<line x1="361.5" y1="284.5" x2="363.9" y2="284.5" stroke="#d41a70" stroke-width="0.6"/>
<line x1="373.07" y1="280" x2="373.07" y2="284" stroke="#d41a70" stroke-width="0.6"/>
<line x1="371.87" y1="280" x2="374.27" y2="280" stroke="#d41a70" stroke-width="0.6"/>
<line x1="371.87" y1="284" x2="374.27" y2="284" stroke="#d41a70" stroke-width="0.6"/>
<rect x="274.98" y="300.48" width="2.55" height="2.55" fill="#d41a70"/>
<rect x="288.81" y="294.23" width="2.55" height="2.55" fill="#d41a70"/>
<rect x="299.18" y="293.73" width="2.55" height="2.55" fill="#d41a70"/>
<rect x="313.01" y="286.98" width="2.55" height="2.55" fill="#d41a70"/>
<rect x="323.39" y="285.73" width="2.55" height="2.55" fill="#d41a70"/>
<rect x="337.22" y="283.23" width="2.55" height="2.55" fill="#d41a70"/>
<rect x="347.59" y="281.73" width="2.55" height="2.55" fill="#d41a70"/>
<rect x="361.43" y="281.23" width="2.55" height="2.55" fill="#d41a70"/>
<rect x="371.8" y="280.73" width="2.55" height="2.55" fill="#d41a70"/>
<polyline points="380.2,212.7 382.4,212.7 382.4,260 380.2,260" fill="none" stroke="#555" stroke-width="0.85"/>
<text x="384.2" y="242.3" font-size="7" fill="#1a1a1a">***</text>
<polyline points="380.2,262.1 382.4,262.1 382.4,272.5 380.2,272.5" fill="none" stroke="#555" stroke-width="0.85"/>
<text x="385" y="271.6" font-size="7" fill="#1a1a1a">*</text>
<polyline points="387.7,262.1 389.9,262.1 389.9,282.3 387.7,282.3" fill="none" stroke="#555" stroke-width="0.85"/>
<text x="392.4" y="275.3" font-size="7" fill="#1a1a1a">***</text>
<line x1="403.5" y1="208.2" x2="412.1" y2="208.2" stroke="#7a1248" stroke-width="0.7"/>
<circle cx="407.8" cy="208.2" r="1.5" fill="#7a1248"/>
<text x="415.6" y="210.3" font-size="6.83" fill="#1a1a1a">Vehicle (<tspan font-style="italic">n</tspan> = 10)</text>
<line x1="403.5" y1="217.4" x2="412.1" y2="217.4" stroke="#a9b6bf" stroke-width="0.7"/>
<circle cx="407.8" cy="217.4" r="1.5" fill="#a9b6bf"/>
<text x="415.6" y="219.5" font-size="6.83" fill="#1a1a1a">Palbociclib (<tspan font-style="italic">n</tspan> = 10)</text>
<line x1="403.5" y1="226.4" x2="412.1" y2="226.4" stroke="#8fd0ec" stroke-width="0.7"/>
<circle cx="407.8" cy="226.4" r="1.5" fill="#8fd0ec"/>
<text x="415.6" y="228.5" font-size="6.83" fill="#1a1a1a">Abemaciclib (<tspan font-style="italic">n</tspan> = 10)</text>
<line x1="403.5" y1="235.5" x2="412.1" y2="235.5" stroke="#cdd628" stroke-width="0.7"/>
<circle cx="407.8" cy="235.5" r="1.5" fill="#cdd628"/>
<text x="415.6" y="237.6" font-size="6.83" fill="#1a1a1a">Camizestrant (<tspan font-style="italic">n</tspan> = 10)</text>
<line x1="403.5" y1="244.3" x2="412.1" y2="244.3" stroke="#0b2f42" stroke-width="0.7"/>
<circle cx="407.8" cy="244.3" r="1.5" fill="#0b2f42"/>
<text x="415.6" y="246.4" font-size="6.83" fill="#1a1a1a">Camizestrant</text>
<text x="415.6" y="255.1" font-size="6.83" fill="#1a1a1a">+ abemaciclib (<tspan font-style="italic">n</tspan> = 10)</text>
<line x1="403.5" y1="262.1" x2="412.1" y2="262.1" stroke="#d41a70" stroke-width="0.7" stroke-dasharray="1.5,1"/>
<rect x="406.53" y="260.83" width="2.55" height="2.55" fill="#d41a70"/>
<text x="415.6" y="264.2" font-size="6.83" fill="#1a1a1a">Camizestrant</text>
<text x="415.6" y="272.5" font-size="6.83" fill="#1a1a1a">+ palbociclib (<tspan font-style="italic">n</tspan> = 9)</text>
<text x="0.1" y="370.6" font-size="13" font-weight="bold" fill="#1a1a1a">F</text>
<text x="40.8" y="367.2" font-size="6.75" font-weight="bold" fill="#1a1a1a">ST1799/PBR (<tspan font-style="italic">ESR1</tspan>wt/<tspan font-style="italic">PIK3CA</tspan> E542K)</text>
<rect x="40.4" y="382.6" width="53.7" height="113.6" fill="#e6e6e6"/>
<line x1="40.4" y1="382.6" x2="40.4" y2="496.2" stroke="#9a9a9a" stroke-width="0.8"/>
<line x1="13.55" y1="496.2" x2="147.8" y2="496.2" stroke="#9a9a9a" stroke-width="0.8"/>
<line x1="37.9" y1="382.6" x2="40.4" y2="382.6" stroke="#9a9a9a" stroke-width="0.7"/>
<text x="35.2" y="385" font-size="7.1" text-anchor="end" fill="#1a1a1a" class="t">1,500</text>
<line x1="37.9" y1="420.47" x2="40.4" y2="420.47" stroke="#9a9a9a" stroke-width="0.7"/>
<text x="35.2" y="422.87" font-size="7.1" text-anchor="end" fill="#1a1a1a" class="t">1,000</text>
<line x1="37.9" y1="458.33" x2="40.4" y2="458.33" stroke="#9a9a9a" stroke-width="0.7"/>
<text x="35.2" y="460.73" font-size="7.1" text-anchor="end" fill="#1a1a1a" class="t">500</text>
<line x1="13.55" y1="496.2" x2="13.55" y2="498.7" stroke="#9a9a9a" stroke-width="0.7"/>
<text x="13.55" y="508.1" font-size="7.1" text-anchor="middle" fill="#1a1a1a" class="t">–20</text>
<line x1="40.4" y1="496.2" x2="40.4" y2="498.7" stroke="#9a9a9a" stroke-width="0.7"/>
<text x="40.4" y="508.1" font-size="7.1" text-anchor="middle" fill="#1a1a1a" class="t">0</text>
<line x1="67.25" y1="496.2" x2="67.25" y2="498.7" stroke="#9a9a9a" stroke-width="0.7"/>
<text x="67.25" y="508.1" font-size="7.1" text-anchor="middle" fill="#1a1a1a" class="t">20</text>
<line x1="94.1" y1="496.2" x2="94.1" y2="498.7" stroke="#9a9a9a" stroke-width="0.7"/>
<text x="94.1" y="508.1" font-size="7.1" text-anchor="middle" fill="#1a1a1a" class="t">40</text>
<line x1="120.95" y1="496.2" x2="120.95" y2="498.7" stroke="#9a9a9a" stroke-width="0.7"/>
<text x="120.95" y="508.1" font-size="7.1" text-anchor="middle" fill="#1a1a1a" class="t">60</text>
<line x1="147.8" y1="496.2" x2="147.8" y2="498.7" stroke="#9a9a9a" stroke-width="0.7"/>
<text x="147.8" y="508.1" font-size="7.1" text-anchor="middle" fill="#1a1a1a" class="t">80</text>
<text x="80.6" y="518.4" font-size="6.75" font-weight="bold" text-anchor="middle" fill="#1a1a1a">Days of treatment</text>
<line x1="15.55" y1="480.8" x2="145.8" y2="480.8" stroke="#aaaaaa" stroke-width="0.7" stroke-dasharray="1.2,1.8"/>
<text x="9.1" y="428.5" font-size="6.75" font-weight="bold" text-anchor="middle" fill="#1a1a1a" transform="rotate(-90 9.1 428.5)">Tumor volume (mm³)</text>
<polyline points="34.25,486.25 43.5,481.25 52.5,462.5 58,458.75 62.25,457.5 67.5,455 72.5,454.5 77.25,442 81,435 86.75,432.5 94.25,430.5 100.5,429.5 108,431.25 114.25,433 120.5,433 128,435 135,433" fill="none" stroke="#f2c040" stroke-width="0.9" stroke-linejoin="round"/>
<line x1="34.25" y1="484.25" x2="34.25" y2="488.25" stroke="#f2c040" stroke-width="0.6"/>
<line x1="33.05" y1="484.25" x2="35.45" y2="484.25" stroke="#f2c040" stroke-width="0.6"/>
<line x1="33.05" y1="488.25" x2="35.45" y2="488.25" stroke="#f2c040" stroke-width="0.6"/>
<line x1="43.5" y1="478.25" x2="43.5" y2="484.25" stroke="#f2c040" stroke-width="0.6"/>
<line x1="42.3" y1="478.25" x2="44.7" y2="478.25" stroke="#f2c040" stroke-width="0.6"/>
<line x1="42.3" y1="484.25" x2="44.7" y2="484.25" stroke="#f2c040" stroke-width="0.6"/>
<line x1="52.5" y1="457.5" x2="52.5" y2="467.5" stroke="#f2c040" stroke-width="0.6"/>
<line x1="51.3" y1="457.5" x2="53.7" y2="457.5" stroke="#f2c040" stroke-width="0.6"/>
<line x1="51.3" y1="467.5" x2="53.7" y2="467.5" stroke="#f2c040" stroke-width="0.6"/>
<line x1="58" y1="452.75" x2="58" y2="464.75" stroke="#f2c040" stroke-width="0.6"/>
<line x1="56.8" y1="452.75" x2="59.2" y2="452.75" stroke="#f2c040" stroke-width="0.6"/>
<line x1="56.8" y1="464.75" x2="59.2" y2="464.75" stroke="#f2c040" stroke-width="0.6"/>
<line x1="62.25" y1="451.5" x2="62.25" y2="463.5" stroke="#f2c040" stroke-width="0.6"/>
<line x1="61.05" y1="451.5" x2="63.45" y2="451.5" stroke="#f2c040" stroke-width="0.6"/>
<line x1="61.05" y1="463.5" x2="63.45" y2="463.5" stroke="#f2c040" stroke-width="0.6"/>
<line x1="67.5" y1="449" x2="67.5" y2="461" stroke="#f2c040" stroke-width="0.6"/>
<line x1="66.3" y1="449" x2="68.7" y2="449" stroke="#f2c040" stroke-width="0.6"/>
<line x1="66.3" y1="461" x2="68.7" y2="461" stroke="#f2c040" stroke-width="0.6"/>
<line x1="72.5" y1="448.5" x2="72.5" y2="460.5" stroke="#f2c040" stroke-width="0.6"/>
<line x1="71.3" y1="448.5" x2="73.7" y2="448.5" stroke="#f2c040" stroke-width="0.6"/>
<line x1="71.3" y1="460.5" x2="73.7" y2="460.5" stroke="#f2c040" stroke-width="0.6"/>
<line x1="77.25" y1="435" x2="77.25" y2="449" stroke="#f2c040" stroke-width="0.6"/>
<line x1="76.05" y1="435" x2="78.45" y2="435" stroke="#f2c040" stroke-width="0.6"/>
<line x1="76.05" y1="449" x2="78.45" y2="449" stroke="#f2c040" stroke-width="0.6"/>
<line x1="81" y1="427" x2="81" y2="443" stroke="#f2c040" stroke-width="0.6"/>
<line x1="79.8" y1="427" x2="82.2" y2="427" stroke="#f2c040" stroke-width="0.6"/>
<line x1="79.8" y1="443" x2="82.2" y2="443" stroke="#f2c040" stroke-width="0.6"/>
<line x1="86.75" y1="423.5" x2="86.75" y2="441.5" stroke="#f2c040" stroke-width="0.6"/>
<line x1="85.55" y1="423.5" x2="87.95" y2="423.5" stroke="#f2c040" stroke-width="0.6"/>
<line x1="85.55" y1="441.5" x2="87.95" y2="441.5" stroke="#f2c040" stroke-width="0.6"/>
<line x1="94.25" y1="420.5" x2="94.25" y2="440.5" stroke="#f2c040" stroke-width="0.6"/>
<line x1="93.05" y1="420.5" x2="95.45" y2="420.5" stroke="#f2c040" stroke-width="0.6"/>
<line x1="93.05" y1="440.5" x2="95.45" y2="440.5" stroke="#f2c040" stroke-width="0.6"/>
<line x1="100.5" y1="419.5" x2="100.5" y2="439.5" stroke="#f2c040" stroke-width="0.6"/>
<line x1="99.3" y1="419.5" x2="101.7" y2="419.5" stroke="#f2c040" stroke-width="0.6"/>
<line x1="99.3" y1="439.5" x2="101.7" y2="439.5" stroke="#f2c040" stroke-width="0.6"/>
<line x1="108" y1="421.25" x2="108" y2="441.25" stroke="#f2c040" stroke-width="0.6"/>
<line x1="106.8" y1="421.25" x2="109.2" y2="421.25" stroke="#f2c040" stroke-width="0.6"/>
<line x1="106.8" y1="441.25" x2="109.2" y2="441.25" stroke="#f2c040" stroke-width="0.6"/>
<line x1="114.25" y1="423" x2="114.25" y2="443" stroke="#f2c040" stroke-width="0.6"/>
<line x1="113.05" y1="423" x2="115.45" y2="423" stroke="#f2c040" stroke-width="0.6"/>
<line x1="113.05" y1="443" x2="115.45" y2="443" stroke="#f2c040" stroke-width="0.6"/>
<line x1="120.5" y1="423" x2="120.5" y2="443" stroke="#f2c040" stroke-width="0.6"/>
<line x1="119.3" y1="423" x2="121.7" y2="423" stroke="#f2c040" stroke-width="0.6"/>
<line x1="119.3" y1="443" x2="121.7" y2="443" stroke="#f2c040" stroke-width="0.6"/>
<line x1="128" y1="425" x2="128" y2="445" stroke="#f2c040" stroke-width="0.6"/>
<line x1="126.8" y1="425" x2="129.2" y2="425" stroke="#f2c040" stroke-width="0.6"/>
<line x1="126.8" y1="445" x2="129.2" y2="445" stroke="#f2c040" stroke-width="0.6"/>
<line x1="135" y1="423" x2="135" y2="443" stroke="#f2c040" stroke-width="0.6"/>
<line x1="133.8" y1="423" x2="136.2" y2="423" stroke="#f2c040" stroke-width="0.6"/>
<line x1="133.8" y1="443" x2="136.2" y2="443" stroke="#f2c040" stroke-width="0.6"/>
<circle cx="34.25" cy="486.25" r="1.5" fill="#f2c040"/>
<circle cx="43.5" cy="481.25" r="1.5" fill="#f2c040"/>
<circle cx="52.5" cy="462.5" r="1.5" fill="#f2c040"/>
<circle cx="58" cy="458.75" r="1.5" fill="#f2c040"/>
<circle cx="62.25" cy="457.5" r="1.5" fill="#f2c040"/>
<circle cx="67.5" cy="455" r="1.5" fill="#f2c040"/>
<circle cx="72.5" cy="454.5" r="1.5" fill="#f2c040"/>
<circle cx="77.25" cy="442" r="1.5" fill="#f2c040"/>
<circle cx="81" cy="435" r="1.5" fill="#f2c040"/>
<circle cx="86.75" cy="432.5" r="1.5" fill="#f2c040"/>
<circle cx="94.25" cy="430.5" r="1.5" fill="#f2c040"/>
<circle cx="100.5" cy="429.5" r="1.5" fill="#f2c040"/>
<circle cx="108" cy="431.25" r="1.5" fill="#f2c040"/>
<circle cx="114.25" cy="433" r="1.5" fill="#f2c040"/>
<circle cx="120.5" cy="433" r="1.5" fill="#f2c040"/>
<circle cx="128" cy="435" r="1.5" fill="#f2c040"/>
<circle cx="135" cy="433" r="1.5" fill="#f2c040"/>
<polyline points="34.25,485 43.5,477.5 52.5,468.75 58,467.5 62.25,465 67.5,463 72.5,463.75 77.25,462.5 81,458.75 86.75,454.5 90.5,454.5 95.5,453 100,451.25 105.5,451.25 109.25,453.25 114.25,455 119.25,461.25 124.25,457.5 128,454.5 135,452.5" fill="none" stroke="#1a1a1a" stroke-width="0.9" stroke-linejoin="round" stroke-dasharray="1.5,1.2"/>
<line x1="43.5" y1="474.5" x2="43.5" y2="480.5" stroke="#444" stroke-width="0.6"/>
<line x1="42.3" y1="474.5" x2="44.7" y2="474.5" stroke="#444" stroke-width="0.6"/>
<line x1="42.3" y1="480.5" x2="44.7" y2="480.5" stroke="#444" stroke-width="0.6"/>
<line x1="52.5" y1="462.75" x2="52.5" y2="474.75" stroke="#444" stroke-width="0.6"/>
<line x1="51.3" y1="462.75" x2="53.7" y2="462.75" stroke="#444" stroke-width="0.6"/>
<line x1="51.3" y1="474.75" x2="53.7" y2="474.75" stroke="#444" stroke-width="0.6"/>
<line x1="58" y1="460.5" x2="58" y2="474.5" stroke="#444" stroke-width="0.6"/>
<line x1="56.8" y1="460.5" x2="59.2" y2="460.5" stroke="#444" stroke-width="0.6"/>
<line x1="56.8" y1="474.5" x2="59.2" y2="474.5" stroke="#444" stroke-width="0.6"/>
<line x1="62.25" y1="458" x2="62.25" y2="472" stroke="#444" stroke-width="0.6"/>
<line x1="61.05" y1="458" x2="63.45" y2="458" stroke="#444" stroke-width="0.6"/>
<line x1="61.05" y1="472" x2="63.45" y2="472" stroke="#444" stroke-width="0.6"/>
<line x1="67.5" y1="455" x2="67.5" y2="471" stroke="#444" stroke-width="0.6"/>
<line x1="66.3" y1="455" x2="68.7" y2="455" stroke="#444" stroke-width="0.6"/>
<line x1="66.3" y1="471" x2="68.7" y2="471" stroke="#444" stroke-width="0.6"/>
<line x1="72.5" y1="455.75" x2="72.5" y2="471.75" stroke="#444" stroke-width="0.6"/>
<line x1="71.3" y1="455.75" x2="73.7" y2="455.75" stroke="#444" stroke-width="0.6"/>
<line x1="71.3" y1="471.75" x2="73.7" y2="471.75" stroke="#444" stroke-width="0.6"/>
<line x1="77.25" y1="453.5" x2="77.25" y2="471.5" stroke="#444" stroke-width="0.6"/>
<line x1="76.05" y1="453.5" x2="78.45" y2="453.5" stroke="#444" stroke-width="0.6"/>
<line x1="76.05" y1="471.5" x2="78.45" y2="471.5" stroke="#444" stroke-width="0.6"/>
<line x1="81" y1="447.75" x2="81" y2="469.75" stroke="#444" stroke-width="0.6"/>
<line x1="79.8" y1="447.75" x2="82.2" y2="447.75" stroke="#444" stroke-width="0.6"/>
<line x1="79.8" y1="469.75" x2="82.2" y2="469.75" stroke="#444" stroke-width="0.6"/>
<line x1="86.75" y1="441.5" x2="86.75" y2="467.5" stroke="#444" stroke-width="0.6"/>
<line x1="85.55" y1="441.5" x2="87.95" y2="441.5" stroke="#444" stroke-width="0.6"/>
<line x1="85.55" y1="467.5" x2="87.95" y2="467.5" stroke="#444" stroke-width="0.6"/>
<line x1="90.5" y1="440.5" x2="90.5" y2="468.5" stroke="#444" stroke-width="0.6"/>
<line x1="89.3" y1="440.5" x2="91.7" y2="440.5" stroke="#444" stroke-width="0.6"/>
<line x1="89.3" y1="468.5" x2="91.7" y2="468.5" stroke="#444" stroke-width="0.6"/>
<line x1="95.5" y1="439" x2="95.5" y2="467" stroke="#444" stroke-width="0.6"/>
<line x1="94.3" y1="439" x2="96.7" y2="439" stroke="#444" stroke-width="0.6"/>
<line x1="94.3" y1="467" x2="96.7" y2="467" stroke="#444" stroke-width="0.6"/>
<line x1="100" y1="437.25" x2="100" y2="465.25" stroke="#444" stroke-width="0.6"/>
<line x1="98.8" y1="437.25" x2="101.2" y2="437.25" stroke="#444" stroke-width="0.6"/>
<line x1="98.8" y1="465.25" x2="101.2" y2="465.25" stroke="#444" stroke-width="0.6"/>
<line x1="105.5" y1="436.25" x2="105.5" y2="466.25" stroke="#444" stroke-width="0.6"/>
<line x1="104.3" y1="436.25" x2="106.7" y2="436.25" stroke="#444" stroke-width="0.6"/>
<line x1="104.3" y1="466.25" x2="106.7" y2="466.25" stroke="#444" stroke-width="0.6"/>
<line x1="109.25" y1="438.25" x2="109.25" y2="468.25" stroke="#444" stroke-width="0.6"/>
<line x1="108.05" y1="438.25" x2="110.45" y2="438.25" stroke="#444" stroke-width="0.6"/>
<line x1="108.05" y1="468.25" x2="110.45" y2="468.25" stroke="#444" stroke-width="0.6"/>
<line x1="114.25" y1="439" x2="114.25" y2="471" stroke="#444" stroke-width="0.6"/>
<line x1="113.05" y1="439" x2="115.45" y2="439" stroke="#444" stroke-width="0.6"/>
<line x1="113.05" y1="471" x2="115.45" y2="471" stroke="#444" stroke-width="0.6"/>
<line x1="119.25" y1="445.25" x2="119.25" y2="477.25" stroke="#444" stroke-width="0.6"/>
<line x1="118.05" y1="445.25" x2="120.45" y2="445.25" stroke="#444" stroke-width="0.6"/>
<line x1="118.05" y1="477.25" x2="120.45" y2="477.25" stroke="#444" stroke-width="0.6"/>
<line x1="124.25" y1="441.5" x2="124.25" y2="473.5" stroke="#444" stroke-width="0.6"/>
<line x1="123.05" y1="441.5" x2="125.45" y2="441.5" stroke="#444" stroke-width="0.6"/>
<line x1="123.05" y1="473.5" x2="125.45" y2="473.5" stroke="#444" stroke-width="0.6"/>
<line x1="128" y1="438.5" x2="128" y2="470.5" stroke="#444" stroke-width="0.6"/>
<line x1="126.8" y1="438.5" x2="129.2" y2="438.5" stroke="#444" stroke-width="0.6"/>
<line x1="126.8" y1="470.5" x2="129.2" y2="470.5" stroke="#444" stroke-width="0.6"/>
<line x1="135" y1="435.5" x2="135" y2="469.5" stroke="#444" stroke-width="0.6"/>
<line x1="133.8" y1="435.5" x2="136.2" y2="435.5" stroke="#444" stroke-width="0.6"/>
<line x1="133.8" y1="469.5" x2="136.2" y2="469.5" stroke="#444" stroke-width="0.6"/>
<polygon points="34.25,483.32 32.71,486.12 35.79,486.12" fill="#1a1a1a"/>
<polygon points="43.5,475.82 41.96,478.62 45.04,478.62" fill="#1a1a1a"/>
<polygon points="52.5,467.07 50.96,469.87 54.04,469.87" fill="#1a1a1a"/>
<polygon points="58,465.82 56.46,468.62 59.54,468.62" fill="#1a1a1a"/>
<polygon points="62.25,463.32 60.71,466.12 63.79,466.12" fill="#1a1a1a"/>
<polygon points="67.5,461.32 65.96,464.12 69.04,464.12" fill="#1a1a1a"/>
<polygon points="72.5,462.07 70.96,464.87 74.04,464.87" fill="#1a1a1a"/>
<polygon points="77.25,460.82 75.71,463.62 78.79,463.62" fill="#1a1a1a"/>
<polygon points="81,457.07 79.46,459.87 82.54,459.87" fill="#1a1a1a"/>
<polygon points="86.75,452.82 85.21,455.62 88.29,455.62" fill="#1a1a1a"/>
<polygon points="90.5,452.82 88.96,455.62 92.04,455.62" fill="#1a1a1a"/>
<polygon points="95.5,451.32 93.96,454.12 97.04,454.12" fill="#1a1a1a"/>
<polygon points="100,449.57 98.46,452.37 101.54,452.37" fill="#1a1a1a"/>
<polygon points="105.5,449.57 103.96,452.37 107.04,452.37" fill="#1a1a1a"/>
<polygon points="109.25,451.57 107.71,454.37 110.79,454.37" fill="#1a1a1a"/>
<polygon points="114.25,453.32 112.71,456.12 115.79,456.12" fill="#1a1a1a"/>
<polygon points="119.25,459.57 117.71,462.37 120.79,462.37" fill="#1a1a1a"/>
<polygon points="124.25,455.82 122.71,458.62 125.79,458.62" fill="#1a1a1a"/>
<polygon points="128,452.82 126.46,455.62 129.54,455.62" fill="#1a1a1a"/>
<polygon points="135,450.82 133.46,453.62 136.54,453.62" fill="#1a1a1a"/>
<polyline points="43.5,476.25 52.5,473.75 58,473.75 62.25,466.25 67.5,462.5 72.5,463.75 79.25,453.75 86.75,445.5 90.5,449.5 95.5,448.75 100,446.25 105.5,442.5 109.25,442.5 114.25,439.5 119.25,436.25 124.25,436.25 128,436.25 135,428" fill="none" stroke="#3a2a7e" stroke-width="0.9" stroke-linejoin="round"/>
<line x1="43.5" y1="474.25" x2="43.5" y2="478.25" stroke="#8a8a9a" stroke-width="0.6"/>
<line x1="42.3" y1="474.25" x2="44.7" y2="474.25" stroke="#8a8a9a" stroke-width="0.6"/>
<line x1="42.3" y1="478.25" x2="44.7" y2="478.25" stroke="#8a8a9a" stroke-width="0.6"/>
<line x1="52.5" y1="469.75" x2="52.5" y2="477.75" stroke="#8a8a9a" stroke-width="0.6"/>
<line x1="51.3" y1="469.75" x2="53.7" y2="469.75" stroke="#8a8a9a" stroke-width="0.6"/>
<line x1="51.3" y1="477.75" x2="53.7" y2="477.75" stroke="#8a8a9a" stroke-width="0.6"/>
<line x1="58" y1="469.75" x2="58" y2="477.75" stroke="#8a8a9a" stroke-width="0.6"/>
<line x1="56.8" y1="469.75" x2="59.2" y2="469.75" stroke="#8a8a9a" stroke-width="0.6"/>
<line x1="56.8" y1="477.75" x2="59.2" y2="477.75" stroke="#8a8a9a" stroke-width="0.6"/>
<line x1="62.25" y1="461.25" x2="62.25" y2="471.25" stroke="#8a8a9a" stroke-width="0.6"/>
<line x1="61.05" y1="461.25" x2="63.45" y2="461.25" stroke="#8a8a9a" stroke-width="0.6"/>
<line x1="61.05" y1="471.25" x2="63.45" y2="471.25" stroke="#8a8a9a" stroke-width="0.6"/>
<line x1="67.5" y1="457.5" x2="67.5" y2="467.5" stroke="#8a8a9a" stroke-width="0.6"/>
<line x1="66.3" y1="457.5" x2="68.7" y2="457.5" stroke="#8a8a9a" stroke-width="0.6"/>
<line x1="66.3" y1="467.5" x2="68.7" y2="467.5" stroke="#8a8a9a" stroke-width="0.6"/>
<line x1="72.5" y1="457.75" x2="72.5" y2="469.75" stroke="#8a8a9a" stroke-width="0.6"/>
<line x1="71.3" y1="457.75" x2="73.7" y2="457.75" stroke="#8a8a9a" stroke-width="0.6"/>
<line x1="71.3" y1="469.75" x2="73.7" y2="469.75" stroke="#8a8a9a" stroke-width="0.6"/>
<line x1="79.25" y1="446.75" x2="79.25" y2="460.75" stroke="#8a8a9a" stroke-width="0.6"/>
<line x1="78.05" y1="446.75" x2="80.45" y2="446.75" stroke="#8a8a9a" stroke-width="0.6"/>
<line x1="78.05" y1="460.75" x2="80.45" y2="460.75" stroke="#8a8a9a" stroke-width="0.6"/>
<line x1="86.75" y1="437.5" x2="86.75" y2="453.5" stroke="#8a8a9a" stroke-width="0.6"/>
<line x1="85.55" y1="437.5" x2="87.95" y2="437.5" stroke="#8a8a9a" stroke-width="0.6"/>
<line x1="85.55" y1="453.5" x2="87.95" y2="453.5" stroke="#8a8a9a" stroke-width="0.6"/>
<line x1="90.5" y1="440.5" x2="90.5" y2="458.5" stroke="#8a8a9a" stroke-width="0.6"/>
<line x1="89.3" y1="440.5" x2="91.7" y2="440.5" stroke="#8a8a9a" stroke-width="0.6"/>
<line x1="89.3" y1="458.5" x2="91.7" y2="458.5" stroke="#8a8a9a" stroke-width="0.6"/>
<line x1="95.5" y1="438.75" x2="95.5" y2="458.75" stroke="#8a8a9a" stroke-width="0.6"/>
<line x1="94.3" y1="438.75" x2="96.7" y2="438.75" stroke="#8a8a9a" stroke-width="0.6"/>
<line x1="94.3" y1="458.75" x2="96.7" y2="458.75" stroke="#8a8a9a" stroke-width="0.6"/>
<line x1="100" y1="436.25" x2="100" y2="456.25" stroke="#8a8a9a" stroke-width="0.6"/>
<line x1="98.8" y1="436.25" x2="101.2" y2="436.25" stroke="#8a8a9a" stroke-width="0.6"/>
<line x1="98.8" y1="456.25" x2="101.2" y2="456.25" stroke="#8a8a9a" stroke-width="0.6"/>
<line x1="105.5" y1="431.5" x2="105.5" y2="453.5" stroke="#8a8a9a" stroke-width="0.6"/>
<line x1="104.3" y1="431.5" x2="106.7" y2="431.5" stroke="#8a8a9a" stroke-width="0.6"/>
<line x1="104.3" y1="453.5" x2="106.7" y2="453.5" stroke="#8a8a9a" stroke-width="0.6"/>
<line x1="109.25" y1="431.5" x2="109.25" y2="453.5" stroke="#8a8a9a" stroke-width="0.6"/>
<line x1="108.05" y1="431.5" x2="110.45" y2="431.5" stroke="#8a8a9a" stroke-width="0.6"/>
<line x1="108.05" y1="453.5" x2="110.45" y2="453.5" stroke="#8a8a9a" stroke-width="0.6"/>
<line x1="114.25" y1="428.5" x2="114.25" y2="450.5" stroke="#8a8a9a" stroke-width="0.6"/>
<line x1="113.05" y1="428.5" x2="115.45" y2="428.5" stroke="#8a8a9a" stroke-width="0.6"/>
<line x1="113.05" y1="450.5" x2="115.45" y2="450.5" stroke="#8a8a9a" stroke-width="0.6"/>
<line x1="119.25" y1="424.25" x2="119.25" y2="448.25" stroke="#8a8a9a" stroke-width="0.6"/>
<line x1="118.05" y1="424.25" x2="120.45" y2="424.25" stroke="#8a8a9a" stroke-width="0.6"/>
<line x1="118.05" y1="448.25" x2="120.45" y2="448.25" stroke="#8a8a9a" stroke-width="0.6"/>
<line x1="124.25" y1="424.25" x2="124.25" y2="448.25" stroke="#8a8a9a" stroke-width="0.6"/>
<line x1="123.05" y1="424.25" x2="125.45" y2="424.25" stroke="#8a8a9a" stroke-width="0.6"/>
<line x1="123.05" y1="448.25" x2="125.45" y2="448.25" stroke="#8a8a9a" stroke-width="0.6"/>
<line x1="128" y1="424.25" x2="128" y2="448.25" stroke="#8a8a9a" stroke-width="0.6"/>
<line x1="126.8" y1="424.25" x2="129.2" y2="424.25" stroke="#8a8a9a" stroke-width="0.6"/>
<line x1="126.8" y1="448.25" x2="129.2" y2="448.25" stroke="#8a8a9a" stroke-width="0.6"/>
<line x1="135" y1="414" x2="135" y2="442" stroke="#8a8a9a" stroke-width="0.6"/>
<line x1="133.8" y1="414" x2="136.2" y2="414" stroke="#8a8a9a" stroke-width="0.6"/>
<line x1="133.8" y1="442" x2="136.2" y2="442" stroke="#8a8a9a" stroke-width="0.6"/>
<circle cx="43.5" cy="476.25" r="1.65" fill="#fff" stroke="#3a2a7e" stroke-width="1.0"/>
<circle cx="52.5" cy="473.75" r="1.65" fill="#fff" stroke="#3a2a7e" stroke-width="1.0"/>
<circle cx="58" cy="473.75" r="1.65" fill="#fff" stroke="#3a2a7e" stroke-width="1.0"/>
<circle cx="62.25" cy="466.25" r="1.65" fill="#fff" stroke="#3a2a7e" stroke-width="1.0"/>
<circle cx="67.5" cy="462.5" r="1.65" fill="#fff" stroke="#3a2a7e" stroke-width="1.0"/>
<circle cx="72.5" cy="463.75" r="1.65" fill="#fff" stroke="#3a2a7e" stroke-width="1.0"/>
<circle cx="79.25" cy="453.75" r="1.65" fill="#fff" stroke="#3a2a7e" stroke-width="1.0"/>
<circle cx="86.75" cy="445.5" r="1.65" fill="#fff" stroke="#3a2a7e" stroke-width="1.0"/>
<circle cx="90.5" cy="449.5" r="1.65" fill="#fff" stroke="#3a2a7e" stroke-width="1.0"/>
<circle cx="95.5" cy="448.75" r="1.65" fill="#fff" stroke="#3a2a7e" stroke-width="1.0"/>
<circle cx="100" cy="446.25" r="1.65" fill="#fff" stroke="#3a2a7e" stroke-width="1.0"/>
<circle cx="105.5" cy="442.5" r="1.65" fill="#fff" stroke="#3a2a7e" stroke-width="1.0"/>
<circle cx="109.25" cy="442.5" r="1.65" fill="#fff" stroke="#3a2a7e" stroke-width="1.0"/>
<circle cx="114.25" cy="439.5" r="1.65" fill="#fff" stroke="#3a2a7e" stroke-width="1.0"/>
<circle cx="119.25" cy="436.25" r="1.65" fill="#fff" stroke="#3a2a7e" stroke-width="1.0"/>
<circle cx="124.25" cy="436.25" r="1.65" fill="#fff" stroke="#3a2a7e" stroke-width="1.0"/>
<circle cx="128" cy="436.25" r="1.65" fill="#fff" stroke="#3a2a7e" stroke-width="1.0"/>
<circle cx="135" cy="428" r="1.65" fill="#fff" stroke="#3a2a7e" stroke-width="1.0"/>
<polyline points="43.5,477.5 52.5,457.5 58,445 62.25,432 67.5,413.75 72.5,408.75" fill="none" stroke="#b0b8bf" stroke-width="0.9" stroke-linejoin="round"/>
<line x1="43.5" y1="475.5" x2="43.5" y2="479.5" stroke="#b0b8bf" stroke-width="0.6"/>
<line x1="42.3" y1="475.5" x2="44.7" y2="475.5" stroke="#b0b8bf" stroke-width="0.6"/>
<line x1="42.3" y1="479.5" x2="44.7" y2="479.5" stroke="#b0b8bf" stroke-width="0.6"/>
<line x1="52.5" y1="454.5" x2="52.5" y2="460.5" stroke="#b0b8bf" stroke-width="0.6"/>
<line x1="51.3" y1="454.5" x2="53.7" y2="454.5" stroke="#b0b8bf" stroke-width="0.6"/>
<line x1="51.3" y1="460.5" x2="53.7" y2="460.5" stroke="#b0b8bf" stroke-width="0.6"/>
<line x1="58" y1="441" x2="58" y2="449" stroke="#b0b8bf" stroke-width="0.6"/>
<line x1="56.8" y1="441" x2="59.2" y2="441" stroke="#b0b8bf" stroke-width="0.6"/>
<line x1="56.8" y1="449" x2="59.2" y2="449" stroke="#b0b8bf" stroke-width="0.6"/>
<line x1="62.25" y1="427" x2="62.25" y2="437" stroke="#b0b8bf" stroke-width="0.6"/>
<line x1="61.05" y1="427" x2="63.45" y2="427" stroke="#b0b8bf" stroke-width="0.6"/>
<line x1="61.05" y1="437" x2="63.45" y2="437" stroke="#b0b8bf" stroke-width="0.6"/>
<line x1="67.5" y1="406.75" x2="67.5" y2="420.75" stroke="#b0b8bf" stroke-width="0.6"/>
<line x1="66.3" y1="406.75" x2="68.7" y2="406.75" stroke="#b0b8bf" stroke-width="0.6"/>
<line x1="66.3" y1="420.75" x2="68.7" y2="420.75" stroke="#b0b8bf" stroke-width="0.6"/>
<line x1="72.5" y1="398.75" x2="72.5" y2="418.75" stroke="#b0b8bf" stroke-width="0.6"/>
<line x1="71.3" y1="398.75" x2="73.7" y2="398.75" stroke="#b0b8bf" stroke-width="0.6"/>
<line x1="71.3" y1="418.75" x2="73.7" y2="418.75" stroke="#b0b8bf" stroke-width="0.6"/>
<circle cx="43.5" cy="477.5" r="1.5" fill="#b0b8bf"/>
<circle cx="52.5" cy="457.5" r="1.5" fill="#b0b8bf"/>
<circle cx="58" cy="445" r="1.5" fill="#b0b8bf"/>
<circle cx="62.25" cy="432" r="1.5" fill="#b0b8bf"/>
<circle cx="67.5" cy="413.75" r="1.5" fill="#b0b8bf"/>
<circle cx="72.5" cy="408.75" r="1.5" fill="#b0b8bf"/>
<polyline points="34.25,484.25 43.5,476.25 52.5,454.5 58,442 62.25,428.25 67.5,407.5 72.5,403" fill="none" stroke="#7a1248" stroke-width="0.9" stroke-linejoin="round"/>
<line x1="34.25" y1="482.25" x2="34.25" y2="486.25" stroke="#7a1248" stroke-width="0.6"/>
<line x1="33.05" y1="482.25" x2="35.45" y2="482.25" stroke="#7a1248" stroke-width="0.6"/>
<line x1="33.05" y1="486.25" x2="35.45" y2="486.25" stroke="#7a1248" stroke-width="0.6"/>
<line x1="43.5" y1="473.25" x2="43.5" y2="479.25" stroke="#7a1248" stroke-width="0.6"/>
<line x1="42.3" y1="473.25" x2="44.7" y2="473.25" stroke="#7a1248" stroke-width="0.6"/>
<line x1="42.3" y1="479.25" x2="44.7" y2="479.25" stroke="#7a1248" stroke-width="0.6"/>
<line x1="52.5" y1="450.5" x2="52.5" y2="458.5" stroke="#7a1248" stroke-width="0.6"/>
<line x1="51.3" y1="450.5" x2="53.7" y2="450.5" stroke="#7a1248" stroke-width="0.6"/>
<line x1="51.3" y1="458.5" x2="53.7" y2="458.5" stroke="#7a1248" stroke-width="0.6"/>
<line x1="58" y1="437" x2="58" y2="447" stroke="#7a1248" stroke-width="0.6"/>
<line x1="56.8" y1="437" x2="59.2" y2="437" stroke="#7a1248" stroke-width="0.6"/>
<line x1="56.8" y1="447" x2="59.2" y2="447" stroke="#7a1248" stroke-width="0.6"/>
<line x1="62.25" y1="422.25" x2="62.25" y2="434.25" stroke="#7a1248" stroke-width="0.6"/>
<line x1="61.05" y1="422.25" x2="63.45" y2="422.25" stroke="#7a1248" stroke-width="0.6"/>
<line x1="61.05" y1="434.25" x2="63.45" y2="434.25" stroke="#7a1248" stroke-width="0.6"/>
<line x1="67.5" y1="398.5" x2="67.5" y2="416.5" stroke="#7a1248" stroke-width="0.6"/>
<line x1="66.3" y1="398.5" x2="68.7" y2="398.5" stroke="#7a1248" stroke-width="0.6"/>
<line x1="66.3" y1="416.5" x2="68.7" y2="416.5" stroke="#7a1248" stroke-width="0.6"/>
<line x1="72.5" y1="392" x2="72.5" y2="414" stroke="#7a1248" stroke-width="0.6"/>
<line x1="71.3" y1="392" x2="73.7" y2="392" stroke="#7a1248" stroke-width="0.6"/>
<line x1="71.3" y1="414" x2="73.7" y2="414" stroke="#7a1248" stroke-width="0.6"/>
<circle cx="34.25" cy="484.25" r="1.5" fill="#7a1248"/>
<circle cx="43.5" cy="476.25" r="1.5" fill="#7a1248"/>
<circle cx="52.5" cy="454.5" r="1.5" fill="#7a1248"/>
<circle cx="58" cy="442" r="1.5" fill="#7a1248"/>
<circle cx="62.25" cy="428.25" r="1.5" fill="#7a1248"/>
<circle cx="67.5" cy="407.5" r="1.5" fill="#7a1248"/>
<circle cx="72.5" cy="403" r="1.5" fill="#7a1248"/>
<polyline points="138.8,431.2 141,431.2 141,452.5 138.8,452.5" fill="none" stroke="#555" stroke-width="0.85"/>
<text x="142.6" y="446.1" font-size="7" fill="#1a1a1a">**</text>
<line x1="96" y1="378.1" x2="105" y2="378.1" stroke="#7a1248" stroke-width="0.7"/>
<circle cx="100.5" cy="378.1" r="1.8" fill="#7a1248"/>
<text x="110.4" y="380.2" font-size="5.95" fill="#1a1a1a">Vehicle</text>
<line x1="96" y1="385.2" x2="105" y2="385.2" stroke="#b0b8bf" stroke-width="0.7"/>
<circle cx="100.5" cy="385.2" r="1.8" fill="#b0b8bf"/>
<text x="110.4" y="387.3" font-size="5.95" fill="#1a1a1a">Palbociclib</text>
<line x1="96" y1="392.8" x2="105" y2="392.8" stroke="#f2c040" stroke-width="0.7"/>
<circle cx="100.5" cy="392.8" r="1.8" fill="#f2c040"/>
<text x="110.4" y="394.9" font-size="5.95" fill="#1a1a1a">Fulvestrant</text>
<line x1="96" y1="399.9" x2="105" y2="399.9" stroke="#3a2a7e" stroke-width="0.7"/>
<circle cx="100.5" cy="399.9" r="1.3" fill="#fff" stroke="#3a2a7e" stroke-width="1.0"/>
<text x="110.4" y="402" font-size="5.95" fill="#1a1a1a">Capecitabine</text>
<line x1="96" y1="408" x2="105" y2="408" stroke="#1a1a1a" stroke-width="0.7" stroke-dasharray="1.5,1"/>
<polygon points="100.5,405.84 98.52,409.44 102.48,409.44" fill="#1a1a1a"/>
<text x="110.4" y="410.1" font-size="5.95" fill="#1a1a1a">Fulvestrant + palbociclib</text>
<rect x="240.9" y="382" width="53.85" height="113.2" fill="#e6e6e6"/>
<line x1="240.9" y1="382" x2="240.9" y2="495.2" stroke="#9a9a9a" stroke-width="0.8"/>
<line x1="213.97" y1="495.2" x2="348.6" y2="495.2" stroke="#9a9a9a" stroke-width="0.8"/>
<line x1="238.4" y1="382" x2="240.9" y2="382" stroke="#9a9a9a" stroke-width="0.7"/>
<text x="235.2" y="384.4" font-size="7.1" text-anchor="end" fill="#1a1a1a" class="t">1,500</text>
<line x1="238.4" y1="419.73" x2="240.9" y2="419.73" stroke="#9a9a9a" stroke-width="0.7"/>
<text x="235.2" y="422.13" font-size="7.1" text-anchor="end" fill="#1a1a1a" class="t">1,000</text>
<line x1="238.4" y1="457.47" x2="240.9" y2="457.47" stroke="#9a9a9a" stroke-width="0.7"/>
<text x="235.2" y="459.87" font-size="7.1" text-anchor="end" fill="#1a1a1a" class="t">500</text>
<line x1="213.97" y1="495.2" x2="213.97" y2="497.7" stroke="#9a9a9a" stroke-width="0.7"/>
<text x="213.97" y="507.5" font-size="7.1" text-anchor="middle" fill="#1a1a1a" class="t">–20</text>
<line x1="240.9" y1="495.2" x2="240.9" y2="497.7" stroke="#9a9a9a" stroke-width="0.7"/>
<text x="240.9" y="507.5" font-size="7.1" text-anchor="middle" fill="#1a1a1a" class="t">0</text>
<line x1="267.82" y1="495.2" x2="267.82" y2="497.7" stroke="#9a9a9a" stroke-width="0.7"/>
<text x="267.82" y="507.5" font-size="7.1" text-anchor="middle" fill="#1a1a1a" class="t">20</text>
<line x1="294.75" y1="495.2" x2="294.75" y2="497.7" stroke="#9a9a9a" stroke-width="0.7"/>
<text x="294.75" y="507.5" font-size="7.1" text-anchor="middle" fill="#1a1a1a" class="t">40</text>
<line x1="321.68" y1="495.2" x2="321.68" y2="497.7" stroke="#9a9a9a" stroke-width="0.7"/>
<text x="321.68" y="507.5" font-size="7.1" text-anchor="middle" fill="#1a1a1a" class="t">60</text>
<line x1="348.6" y1="495.2" x2="348.6" y2="497.7" stroke="#9a9a9a" stroke-width="0.7"/>
<text x="348.6" y="507.5" font-size="7.1" text-anchor="middle" fill="#1a1a1a" class="t">80</text>
<text x="280.4" y="518.2" font-size="6.75" font-weight="bold" text-anchor="middle" fill="#1a1a1a">Days of treatment</text>
<line x1="215.97" y1="480.6" x2="346.6" y2="480.6" stroke="#aaaaaa" stroke-width="0.7" stroke-dasharray="1.2,1.8"/>
<text x="207.4" y="438" font-size="6.75" font-weight="bold" text-anchor="middle" fill="#1a1a1a" transform="rotate(-90 207.4 438)">Tumor volume (mm³)</text>
<polyline points="233.5,485 240.5,478 243.5,475.5 250,463.75 253,451.25 257.5,442.5 262.25,431.25 267.5,415 272.5,412.5" fill="none" stroke="#a9bcc4" stroke-width="0.9" stroke-linejoin="round"/>
<line x1="233.5" y1="483" x2="233.5" y2="487" stroke="#a9bcc4" stroke-width="0.6"/>
<line x1="232.3" y1="483" x2="234.7" y2="483" stroke="#a9bcc4" stroke-width="0.6"/>
<line x1="232.3" y1="487" x2="234.7" y2="487" stroke="#a9bcc4" stroke-width="0.6"/>
<line x1="240.5" y1="475" x2="240.5" y2="481" stroke="#a9bcc4" stroke-width="0.6"/>
<line x1="239.3" y1="475" x2="241.7" y2="475" stroke="#a9bcc4" stroke-width="0.6"/>
<line x1="239.3" y1="481" x2="241.7" y2="481" stroke="#a9bcc4" stroke-width="0.6"/>
<line x1="243.5" y1="472.5" x2="243.5" y2="478.5" stroke="#a9bcc4" stroke-width="0.6"/>
<line x1="242.3" y1="472.5" x2="244.7" y2="472.5" stroke="#a9bcc4" stroke-width="0.6"/>
<line x1="242.3" y1="478.5" x2="244.7" y2="478.5" stroke="#a9bcc4" stroke-width="0.6"/>
<line x1="250" y1="459.75" x2="250" y2="467.75" stroke="#a9bcc4" stroke-width="0.6"/>
<line x1="248.8" y1="459.75" x2="251.2" y2="459.75" stroke="#a9bcc4" stroke-width="0.6"/>
<line x1="248.8" y1="467.75" x2="251.2" y2="467.75" stroke="#a9bcc4" stroke-width="0.6"/>
<line x1="253" y1="446.25" x2="253" y2="456.25" stroke="#a9bcc4" stroke-width="0.6"/>
<line x1="251.8" y1="446.25" x2="254.2" y2="446.25" stroke="#a9bcc4" stroke-width="0.6"/>
<line x1="251.8" y1="456.25" x2="254.2" y2="456.25" stroke="#a9bcc4" stroke-width="0.6"/>
<line x1="257.5" y1="437.5" x2="257.5" y2="447.5" stroke="#a9bcc4" stroke-width="0.6"/>
<line x1="256.3" y1="437.5" x2="258.7" y2="437.5" stroke="#a9bcc4" stroke-width="0.6"/>
<line x1="256.3" y1="447.5" x2="258.7" y2="447.5" stroke="#a9bcc4" stroke-width="0.6"/>
<line x1="262.25" y1="425.25" x2="262.25" y2="437.25" stroke="#a9bcc4" stroke-width="0.6"/>
<line x1="261.05" y1="425.25" x2="263.45" y2="425.25" stroke="#a9bcc4" stroke-width="0.6"/>
<line x1="261.05" y1="437.25" x2="263.45" y2="437.25" stroke="#a9bcc4" stroke-width="0.6"/>
<line x1="267.5" y1="406" x2="267.5" y2="424" stroke="#a9bcc4" stroke-width="0.6"/>
<line x1="266.3" y1="406" x2="268.7" y2="406" stroke="#a9bcc4" stroke-width="0.6"/>
<line x1="266.3" y1="424" x2="268.7" y2="424" stroke="#a9bcc4" stroke-width="0.6"/>
<line x1="272.5" y1="402.5" x2="272.5" y2="422.5" stroke="#a9bcc4" stroke-width="0.6"/>
<line x1="271.3" y1="402.5" x2="273.7" y2="402.5" stroke="#a9bcc4" stroke-width="0.6"/>
<line x1="271.3" y1="422.5" x2="273.7" y2="422.5" stroke="#a9bcc4" stroke-width="0.6"/>
<circle cx="233.5" cy="485" r="1.5" fill="#a9bcc4"/>
<circle cx="240.5" cy="478" r="1.5" fill="#a9bcc4"/>
<circle cx="243.5" cy="475.5" r="1.5" fill="#a9bcc4"/>
<circle cx="250" cy="463.75" r="1.5" fill="#a9bcc4"/>
<circle cx="253" cy="451.25" r="1.5" fill="#a9bcc4"/>
<circle cx="257.5" cy="442.5" r="1.5" fill="#a9bcc4"/>
<circle cx="262.25" cy="431.25" r="1.5" fill="#a9bcc4"/>
<circle cx="267.5" cy="415" r="1.5" fill="#a9bcc4"/>
<circle cx="272.5" cy="412.5" r="1.5" fill="#a9bcc4"/>
<polyline points="233.5,485 240.5,477.5 243.5,475 250,462.5 253,450 257.5,441.25 262.25,428.75 267.5,407.5 272.5,402" fill="none" stroke="#7a1248" stroke-width="0.9" stroke-linejoin="round"/>
<line x1="240.5" y1="475.5" x2="240.5" y2="479.5" stroke="#7a1248" stroke-width="0.6"/>
<line x1="239.3" y1="475.5" x2="241.7" y2="475.5" stroke="#7a1248" stroke-width="0.6"/>
<line x1="239.3" y1="479.5" x2="241.7" y2="479.5" stroke="#7a1248" stroke-width="0.6"/>
<line x1="243.5" y1="472" x2="243.5" y2="478" stroke="#7a1248" stroke-width="0.6"/>
<line x1="242.3" y1="472" x2="244.7" y2="472" stroke="#7a1248" stroke-width="0.6"/>
<line x1="242.3" y1="478" x2="244.7" y2="478" stroke="#7a1248" stroke-width="0.6"/>
<line x1="250" y1="458.5" x2="250" y2="466.5" stroke="#7a1248" stroke-width="0.6"/>
<line x1="248.8" y1="458.5" x2="251.2" y2="458.5" stroke="#7a1248" stroke-width="0.6"/>
<line x1="248.8" y1="466.5" x2="251.2" y2="466.5" stroke="#7a1248" stroke-width="0.6"/>
<line x1="253" y1="446" x2="253" y2="454" stroke="#7a1248" stroke-width="0.6"/>
<line x1="251.8" y1="446" x2="254.2" y2="446" stroke="#7a1248" stroke-width="0.6"/>
<line x1="251.8" y1="454" x2="254.2" y2="454" stroke="#7a1248" stroke-width="0.6"/>
<line x1="257.5" y1="436.25" x2="257.5" y2="446.25" stroke="#7a1248" stroke-width="0.6"/>
<line x1="256.3" y1="436.25" x2="258.7" y2="436.25" stroke="#7a1248" stroke-width="0.6"/>
<line x1="256.3" y1="446.25" x2="258.7" y2="446.25" stroke="#7a1248" stroke-width="0.6"/>
<line x1="262.25" y1="422.75" x2="262.25" y2="434.75" stroke="#7a1248" stroke-width="0.6"/>
<line x1="261.05" y1="422.75" x2="263.45" y2="422.75" stroke="#7a1248" stroke-width="0.6"/>
<line x1="261.05" y1="434.75" x2="263.45" y2="434.75" stroke="#7a1248" stroke-width="0.6"/>
<line x1="267.5" y1="398.5" x2="267.5" y2="416.5" stroke="#7a1248" stroke-width="0.6"/>
<line x1="266.3" y1="398.5" x2="268.7" y2="398.5" stroke="#7a1248" stroke-width="0.6"/>
<line x1="266.3" y1="416.5" x2="268.7" y2="416.5" stroke="#7a1248" stroke-width="0.6"/>
<line x1="272.5" y1="391" x2="272.5" y2="413" stroke="#7a1248" stroke-width="0.6"/>
<line x1="271.3" y1="391" x2="273.7" y2="391" stroke="#7a1248" stroke-width="0.6"/>
<line x1="271.3" y1="413" x2="273.7" y2="413" stroke="#7a1248" stroke-width="0.6"/>
<circle cx="233.5" cy="485" r="1.5" fill="#7a1248"/>
<circle cx="240.5" cy="477.5" r="1.5" fill="#7a1248"/>
<circle cx="243.5" cy="475" r="1.5" fill="#7a1248"/>
<circle cx="250" cy="462.5" r="1.5" fill="#7a1248"/>
<circle cx="253" cy="450" r="1.5" fill="#7a1248"/>
<circle cx="257.5" cy="441.25" r="1.5" fill="#7a1248"/>
<circle cx="262.25" cy="428.75" r="1.5" fill="#7a1248"/>
<circle cx="267.5" cy="407.5" r="1.5" fill="#7a1248"/>
<circle cx="272.5" cy="402" r="1.5" fill="#7a1248"/>
<polyline points="240.5,476.25 243.5,480 253,473.75 257.5,473.75 262.25,474.5 267.5,472.5 272.5,473 277.25,473 280.5,471.25 286.75,467.5 290.5,465 295.5,463 300.5,464.5 305.5,463 309.25,463.75 314.25,462 319.25,466.25 324.25,463.75 328,463.75 335,458" fill="none" stroke="#cdd628" stroke-width="0.9" stroke-linejoin="round"/>
<line x1="240.5" y1="473.25" x2="240.5" y2="479.25" stroke="#cdd628" stroke-width="0.6"/>
<line x1="239.3" y1="473.25" x2="241.7" y2="473.25" stroke="#cdd628" stroke-width="0.6"/>
<line x1="239.3" y1="479.25" x2="241.7" y2="479.25" stroke="#cdd628" stroke-width="0.6"/>
<line x1="243.5" y1="477" x2="243.5" y2="483" stroke="#cdd628" stroke-width="0.6"/>
<line x1="242.3" y1="477" x2="244.7" y2="477" stroke="#cdd628" stroke-width="0.6"/>
<line x1="242.3" y1="483" x2="244.7" y2="483" stroke="#cdd628" stroke-width="0.6"/>
<line x1="253" y1="470.75" x2="253" y2="476.75" stroke="#cdd628" stroke-width="0.6"/>
<line x1="251.8" y1="470.75" x2="254.2" y2="470.75" stroke="#cdd628" stroke-width="0.6"/>
<line x1="251.8" y1="476.75" x2="254.2" y2="476.75" stroke="#cdd628" stroke-width="0.6"/>
<line x1="257.5" y1="470.75" x2="257.5" y2="476.75" stroke="#cdd628" stroke-width="0.6"/>
<line x1="256.3" y1="470.75" x2="258.7" y2="470.75" stroke="#cdd628" stroke-width="0.6"/>
<line x1="256.3" y1="476.75" x2="258.7" y2="476.75" stroke="#cdd628" stroke-width="0.6"/>
<line x1="262.25" y1="471.5" x2="262.25" y2="477.5" stroke="#cdd628" stroke-width="0.6"/>
<line x1="261.05" y1="471.5" x2="263.45" y2="471.5" stroke="#cdd628" stroke-width="0.6"/>
<line x1="261.05" y1="477.5" x2="263.45" y2="477.5" stroke="#cdd628" stroke-width="0.6"/>
<line x1="267.5" y1="469.5" x2="267.5" y2="475.5" stroke="#cdd628" stroke-width="0.6"/>
<line x1="266.3" y1="469.5" x2="268.7" y2="469.5" stroke="#cdd628" stroke-width="0.6"/>
<line x1="266.3" y1="475.5" x2="268.7" y2="475.5" stroke="#cdd628" stroke-width="0.6"/>
<line x1="272.5" y1="469" x2="272.5" y2="477" stroke="#cdd628" stroke-width="0.6"/>
<line x1="271.3" y1="469" x2="273.7" y2="469" stroke="#cdd628" stroke-width="0.6"/>
<line x1="271.3" y1="477" x2="273.7" y2="477" stroke="#cdd628" stroke-width="0.6"/>
<line x1="277.25" y1="469" x2="277.25" y2="477" stroke="#cdd628" stroke-width="0.6"/>
<line x1="276.05" y1="469" x2="278.45" y2="469" stroke="#cdd628" stroke-width="0.6"/>
<line x1="276.05" y1="477" x2="278.45" y2="477" stroke="#cdd628" stroke-width="0.6"/>
<line x1="280.5" y1="467.25" x2="280.5" y2="475.25" stroke="#cdd628" stroke-width="0.6"/>
<line x1="279.3" y1="467.25" x2="281.7" y2="467.25" stroke="#cdd628" stroke-width="0.6"/>
<line x1="279.3" y1="475.25" x2="281.7" y2="475.25" stroke="#cdd628" stroke-width="0.6"/>
<line x1="286.75" y1="463.5" x2="286.75" y2="471.5" stroke="#cdd628" stroke-width="0.6"/>
<line x1="285.55" y1="463.5" x2="287.95" y2="463.5" stroke="#cdd628" stroke-width="0.6"/>
<line x1="285.55" y1="471.5" x2="287.95" y2="471.5" stroke="#cdd628" stroke-width="0.6"/>
<line x1="290.5" y1="461" x2="290.5" y2="469" stroke="#cdd628" stroke-width="0.6"/>
<line x1="289.3" y1="461" x2="291.7" y2="461" stroke="#cdd628" stroke-width="0.6"/>
<line x1="289.3" y1="469" x2="291.7" y2="469" stroke="#cdd628" stroke-width="0.6"/>
<line x1="295.5" y1="458" x2="295.5" y2="468" stroke="#cdd628" stroke-width="0.6"/>
<line x1="294.3" y1="458" x2="296.7" y2="458" stroke="#cdd628" stroke-width="0.6"/>
<line x1="294.3" y1="468" x2="296.7" y2="468" stroke="#cdd628" stroke-width="0.6"/>
<line x1="300.5" y1="459.5" x2="300.5" y2="469.5" stroke="#cdd628" stroke-width="0.6"/>
<line x1="299.3" y1="459.5" x2="301.7" y2="459.5" stroke="#cdd628" stroke-width="0.6"/>
<line x1="299.3" y1="469.5" x2="301.7" y2="469.5" stroke="#cdd628" stroke-width="0.6"/>
<line x1="305.5" y1="458" x2="305.5" y2="468" stroke="#cdd628" stroke-width="0.6"/>
<line x1="304.3" y1="458" x2="306.7" y2="458" stroke="#cdd628" stroke-width="0.6"/>
<line x1="304.3" y1="468" x2="306.7" y2="468" stroke="#cdd628" stroke-width="0.6"/>
<line x1="309.25" y1="458.75" x2="309.25" y2="468.75" stroke="#cdd628" stroke-width="0.6"/>
<line x1="308.05" y1="458.75" x2="310.45" y2="458.75" stroke="#cdd628" stroke-width="0.6"/>
<line x1="308.05" y1="468.75" x2="310.45" y2="468.75" stroke="#cdd628" stroke-width="0.6"/>
<line x1="314.25" y1="457" x2="314.25" y2="467" stroke="#cdd628" stroke-width="0.6"/>
<line x1="313.05" y1="457" x2="315.45" y2="457" stroke="#cdd628" stroke-width="0.6"/>
<line x1="313.05" y1="467" x2="315.45" y2="467" stroke="#cdd628" stroke-width="0.6"/>
<line x1="319.25" y1="461.25" x2="319.25" y2="471.25" stroke="#cdd628" stroke-width="0.6"/>
<line x1="318.05" y1="461.25" x2="320.45" y2="461.25" stroke="#cdd628" stroke-width="0.6"/>
<line x1="318.05" y1="471.25" x2="320.45" y2="471.25" stroke="#cdd628" stroke-width="0.6"/>
<line x1="324.25" y1="458.75" x2="324.25" y2="468.75" stroke="#cdd628" stroke-width="0.6"/>
<line x1="323.05" y1="458.75" x2="325.45" y2="458.75" stroke="#cdd628" stroke-width="0.6"/>
<line x1="323.05" y1="468.75" x2="325.45" y2="468.75" stroke="#cdd628" stroke-width="0.6"/>
<line x1="328" y1="457.75" x2="328" y2="469.75" stroke="#cdd628" stroke-width="0.6"/>
<line x1="326.8" y1="457.75" x2="329.2" y2="457.75" stroke="#cdd628" stroke-width="0.6"/>
<line x1="326.8" y1="469.75" x2="329.2" y2="469.75" stroke="#cdd628" stroke-width="0.6"/>
<line x1="335" y1="451" x2="335" y2="465" stroke="#cdd628" stroke-width="0.6"/>
<line x1="333.8" y1="451" x2="336.2" y2="451" stroke="#cdd628" stroke-width="0.6"/>
<line x1="333.8" y1="465" x2="336.2" y2="465" stroke="#cdd628" stroke-width="0.6"/>
<circle cx="240.5" cy="476.25" r="1.5" fill="#cdd628"/>
<circle cx="243.5" cy="480" r="1.5" fill="#cdd628"/>
<circle cx="253" cy="473.75" r="1.5" fill="#cdd628"/>
<circle cx="257.5" cy="473.75" r="1.5" fill="#cdd628"/>
<circle cx="262.25" cy="474.5" r="1.5" fill="#cdd628"/>
<circle cx="267.5" cy="472.5" r="1.5" fill="#cdd628"/>
<circle cx="272.5" cy="473" r="1.5" fill="#cdd628"/>
<circle cx="277.25" cy="473" r="1.5" fill="#cdd628"/>
<circle cx="280.5" cy="471.25" r="1.5" fill="#cdd628"/>
<circle cx="286.75" cy="467.5" r="1.5" fill="#cdd628"/>
<circle cx="290.5" cy="465" r="1.5" fill="#cdd628"/>
<circle cx="295.5" cy="463" r="1.5" fill="#cdd628"/>
<circle cx="300.5" cy="464.5" r="1.5" fill="#cdd628"/>
<circle cx="305.5" cy="463" r="1.5" fill="#cdd628"/>
<circle cx="309.25" cy="463.75" r="1.5" fill="#cdd628"/>
<circle cx="314.25" cy="462" r="1.5" fill="#cdd628"/>
<circle cx="319.25" cy="466.25" r="1.5" fill="#cdd628"/>
<circle cx="324.25" cy="463.75" r="1.5" fill="#cdd628"/>
<circle cx="328" cy="463.75" r="1.5" fill="#cdd628"/>
<circle cx="335" cy="458" r="1.5" fill="#cdd628"/>
<polyline points="233.5,485 243.5,482 250,476.25 253,477.5 257.5,479.25 262.25,477.5 267.5,473 272.5,479.5 277.25,478 280.5,479.5 286.75,473.75 290.5,472.5 295.5,468.75 300.5,470 305.5,473 309.25,473.75 314.25,478.75 319.25,476.25 324.25,476.25 328,476.25 335,473.75" fill="none" stroke="#d41a70" stroke-width="0.8" stroke-linejoin="round"/>
<line x1="243.5" y1="479" x2="243.5" y2="485" stroke="#d41a70" stroke-width="0.6"/>
<line x1="242.3" y1="479" x2="244.7" y2="479" stroke="#d41a70" stroke-width="0.6"/>
<line x1="242.3" y1="485" x2="244.7" y2="485" stroke="#d41a70" stroke-width="0.6"/>
<line x1="250" y1="473.25" x2="250" y2="479.25" stroke="#d41a70" stroke-width="0.6"/>
<line x1="248.8" y1="473.25" x2="251.2" y2="473.25" stroke="#d41a70" stroke-width="0.6"/>
<line x1="248.8" y1="479.25" x2="251.2" y2="479.25" stroke="#d41a70" stroke-width="0.6"/>
<line x1="253" y1="474.5" x2="253" y2="480.5" stroke="#d41a70" stroke-width="0.6"/>
<line x1="251.8" y1="474.5" x2="254.2" y2="474.5" stroke="#d41a70" stroke-width="0.6"/>
<line x1="251.8" y1="480.5" x2="254.2" y2="480.5" stroke="#d41a70" stroke-width="0.6"/>
<line x1="257.5" y1="476.25" x2="257.5" y2="482.25" stroke="#d41a70" stroke-width="0.6"/>
<line x1="256.3" y1="476.25" x2="258.7" y2="476.25" stroke="#d41a70" stroke-width="0.6"/>
<line x1="256.3" y1="482.25" x2="258.7" y2="482.25" stroke="#d41a70" stroke-width="0.6"/>
<line x1="262.25" y1="474.5" x2="262.25" y2="480.5" stroke="#d41a70" stroke-width="0.6"/>
<line x1="261.05" y1="474.5" x2="263.45" y2="474.5" stroke="#d41a70" stroke-width="0.6"/>
<line x1="261.05" y1="480.5" x2="263.45" y2="480.5" stroke="#d41a70" stroke-width="0.6"/>
<line x1="267.5" y1="469" x2="267.5" y2="477" stroke="#d41a70" stroke-width="0.6"/>
<line x1="266.3" y1="469" x2="268.7" y2="469" stroke="#d41a70" stroke-width="0.6"/>
<line x1="266.3" y1="477" x2="268.7" y2="477" stroke="#d41a70" stroke-width="0.6"/>
<line x1="272.5" y1="475.5" x2="272.5" y2="483.5" stroke="#d41a70" stroke-width="0.6"/>
<line x1="271.3" y1="475.5" x2="273.7" y2="475.5" stroke="#d41a70" stroke-width="0.6"/>
<line x1="271.3" y1="483.5" x2="273.7" y2="483.5" stroke="#d41a70" stroke-width="0.6"/>
<line x1="277.25" y1="474" x2="277.25" y2="482" stroke="#d41a70" stroke-width="0.6"/>
<line x1="276.05" y1="474" x2="278.45" y2="474" stroke="#d41a70" stroke-width="0.6"/>
<line x1="276.05" y1="482" x2="278.45" y2="482" stroke="#d41a70" stroke-width="0.6"/>
<line x1="280.5" y1="475.5" x2="280.5" y2="483.5" stroke="#d41a70" stroke-width="0.6"/>
<line x1="279.3" y1="475.5" x2="281.7" y2="475.5" stroke="#d41a70" stroke-width="0.6"/>
<line x1="279.3" y1="483.5" x2="281.7" y2="483.5" stroke="#d41a70" stroke-width="0.6"/>
<line x1="286.75" y1="469.75" x2="286.75" y2="477.75" stroke="#d41a70" stroke-width="0.6"/>
<line x1="285.55" y1="469.75" x2="287.95" y2="469.75" stroke="#d41a70" stroke-width="0.6"/>
<line x1="285.55" y1="477.75" x2="287.95" y2="477.75" stroke="#d41a70" stroke-width="0.6"/>
<line x1="290.5" y1="468.5" x2="290.5" y2="476.5" stroke="#d41a70" stroke-width="0.6"/>
<line x1="289.3" y1="468.5" x2="291.7" y2="468.5" stroke="#d41a70" stroke-width="0.6"/>
<line x1="289.3" y1="476.5" x2="291.7" y2="476.5" stroke="#d41a70" stroke-width="0.6"/>
<line x1="295.5" y1="463.75" x2="295.5" y2="473.75" stroke="#d41a70" stroke-width="0.6"/>
<line x1="294.3" y1="463.75" x2="296.7" y2="463.75" stroke="#d41a70" stroke-width="0.6"/>
<line x1="294.3" y1="473.75" x2="296.7" y2="473.75" stroke="#d41a70" stroke-width="0.6"/>
<line x1="300.5" y1="465" x2="300.5" y2="475" stroke="#d41a70" stroke-width="0.6"/>
<line x1="299.3" y1="465" x2="301.7" y2="465" stroke="#d41a70" stroke-width="0.6"/>
<line x1="299.3" y1="475" x2="301.7" y2="475" stroke="#d41a70" stroke-width="0.6"/>
<line x1="305.5" y1="468" x2="305.5" y2="478" stroke="#d41a70" stroke-width="0.6"/>
<line x1="304.3" y1="468" x2="306.7" y2="468" stroke="#d41a70" stroke-width="0.6"/>
<line x1="304.3" y1="478" x2="306.7" y2="478" stroke="#d41a70" stroke-width="0.6"/>
<line x1="309.25" y1="468.75" x2="309.25" y2="478.75" stroke="#d41a70" stroke-width="0.6"/>
<line x1="308.05" y1="468.75" x2="310.45" y2="468.75" stroke="#d41a70" stroke-width="0.6"/>
<line x1="308.05" y1="478.75" x2="310.45" y2="478.75" stroke="#d41a70" stroke-width="0.6"/>
<line x1="314.25" y1="473.75" x2="314.25" y2="483.75" stroke="#d41a70" stroke-width="0.6"/>
<line x1="313.05" y1="473.75" x2="315.45" y2="473.75" stroke="#d41a70" stroke-width="0.6"/>
<line x1="313.05" y1="483.75" x2="315.45" y2="483.75" stroke="#d41a70" stroke-width="0.6"/>
<line x1="319.25" y1="470.25" x2="319.25" y2="482.25" stroke="#d41a70" stroke-width="0.6"/>
<line x1="318.05" y1="470.25" x2="320.45" y2="470.25" stroke="#d41a70" stroke-width="0.6"/>
<line x1="318.05" y1="482.25" x2="320.45" y2="482.25" stroke="#d41a70" stroke-width="0.6"/>
<line x1="324.25" y1="470.25" x2="324.25" y2="482.25" stroke="#d41a70" stroke-width="0.6"/>
<line x1="323.05" y1="470.25" x2="325.45" y2="470.25" stroke="#d41a70" stroke-width="0.6"/>
<line x1="323.05" y1="482.25" x2="325.45" y2="482.25" stroke="#d41a70" stroke-width="0.6"/>
<line x1="328" y1="470.25" x2="328" y2="482.25" stroke="#d41a70" stroke-width="0.6"/>
<line x1="326.8" y1="470.25" x2="329.2" y2="470.25" stroke="#d41a70" stroke-width="0.6"/>
<line x1="326.8" y1="482.25" x2="329.2" y2="482.25" stroke="#d41a70" stroke-width="0.6"/>
<line x1="335" y1="465.75" x2="335" y2="481.75" stroke="#d41a70" stroke-width="0.6"/>
<line x1="333.8" y1="465.75" x2="336.2" y2="465.75" stroke="#d41a70" stroke-width="0.6"/>
<line x1="333.8" y1="481.75" x2="336.2" y2="481.75" stroke="#d41a70" stroke-width="0.6"/>
<rect x="231.88" y="483.38" width="3.23" height="3.23" fill="#d41a70"/>
<rect x="241.88" y="480.38" width="3.23" height="3.23" fill="#d41a70"/>
<rect x="248.38" y="474.63" width="3.23" height="3.23" fill="#d41a70"/>
<rect x="251.38" y="475.88" width="3.23" height="3.23" fill="#d41a70"/>
<rect x="255.88" y="477.63" width="3.23" height="3.23" fill="#d41a70"/>
<rect x="260.63" y="475.88" width="3.23" height="3.23" fill="#d41a70"/>
<rect x="265.88" y="471.38" width="3.23" height="3.23" fill="#d41a70"/>
<rect x="270.88" y="477.88" width="3.23" height="3.23" fill="#d41a70"/>
<rect x="275.63" y="476.38" width="3.23" height="3.23" fill="#d41a70"/>
<rect x="278.88" y="477.88" width="3.23" height="3.23" fill="#d41a70"/>
<rect x="285.13" y="472.13" width="3.23" height="3.23" fill="#d41a70"/>
<rect x="288.88" y="470.88" width="3.23" height="3.23" fill="#d41a70"/>
<rect x="293.88" y="467.13" width="3.23" height="3.23" fill="#d41a70"/>
<rect x="298.88" y="468.38" width="3.23" height="3.23" fill="#d41a70"/>
<rect x="303.88" y="471.38" width="3.23" height="3.23" fill="#d41a70"/>
<rect x="307.63" y="472.13" width="3.23" height="3.23" fill="#d41a70"/>
<rect x="312.63" y="477.13" width="3.23" height="3.23" fill="#d41a70"/>
<rect x="317.63" y="474.63" width="3.23" height="3.23" fill="#d41a70"/>
<rect x="322.63" y="474.63" width="3.23" height="3.23" fill="#d41a70"/>
<rect x="326.38" y="474.63" width="3.23" height="3.23" fill="#d41a70"/>
<rect x="333.38" y="472.13" width="3.23" height="3.23" fill="#d41a70"/>
<polyline points="339.6,457.5 341.8,457.5 341.8,473.8 339.6,473.8" fill="none" stroke="#555" stroke-width="0.85"/>
<text x="344" y="469.1" font-size="7" fill="#1a1a1a">**</text>
<line x1="299.3" y1="380.6" x2="308.3" y2="380.6" stroke="#7a1248" stroke-width="0.7"/>
<circle cx="303.8" cy="380.6" r="1.9" fill="#7a1248"/>
<text x="313.2" y="382.7" font-size="5.8" fill="#1a1a1a">Vehicle</text>
<line x1="299.3" y1="388.7" x2="308.3" y2="388.7" stroke="#a9bcc4" stroke-width="0.7"/>
<circle cx="303.8" cy="388.7" r="1.9" fill="#a9bcc4"/>
<text x="313.2" y="390.8" font-size="5.8" fill="#1a1a1a">Palbociclib</text>
<line x1="299.3" y1="396.6" x2="308.3" y2="396.6" stroke="#cdd628" stroke-width="0.7"/>
<circle cx="303.8" cy="396.6" r="1.9" fill="#cdd628"/>
<text x="313.2" y="398.7" font-size="5.8" fill="#1a1a1a">Camizestrant</text>
<line x1="299.3" y1="405" x2="308.3" y2="405" stroke="#d41a70" stroke-width="0.7"/>
<rect x="302.19" y="403.38" width="3.23" height="3.23" fill="#d41a70"/>
<text x="313.2" y="407.1" font-size="5.8" fill="#1a1a1a">Camizestrant +</text>
<text x="313.2" y="414.6" font-size="5.8" fill="#1a1a1a">palbociclib</text>
<rect x="40.3" y="542.5" width="53.3" height="113.7" fill="#e6e6e6"/>
<line x1="40.3" y1="542.5" x2="40.3" y2="656.2" stroke="#9a9a9a" stroke-width="0.8"/>
<line x1="13.65" y1="656.2" x2="146.9" y2="656.2" stroke="#9a9a9a" stroke-width="0.8"/>
<line x1="37.8" y1="542.5" x2="40.3" y2="542.5" stroke="#9a9a9a" stroke-width="0.7"/>
<text x="34.6" y="544.9" font-size="7.1" text-anchor="end" fill="#1a1a1a" class="t">1,500</text>
<line x1="37.8" y1="580.4" x2="40.3" y2="580.4" stroke="#9a9a9a" stroke-width="0.7"/>
<text x="34.6" y="582.8" font-size="7.1" text-anchor="end" fill="#1a1a1a" class="t">1,000</text>
<line x1="37.8" y1="618.3" x2="40.3" y2="618.3" stroke="#9a9a9a" stroke-width="0.7"/>
<text x="34.6" y="620.7" font-size="7.1" text-anchor="end" fill="#1a1a1a" class="t">500</text>
<line x1="13.65" y1="656.2" x2="13.65" y2="658.7" stroke="#9a9a9a" stroke-width="0.7"/>
<text x="13.65" y="669.5" font-size="7.1" text-anchor="middle" fill="#1a1a1a" class="t">–20</text>
<line x1="40.3" y1="656.2" x2="40.3" y2="658.7" stroke="#9a9a9a" stroke-width="0.7"/>
<text x="40.3" y="669.5" font-size="7.1" text-anchor="middle" fill="#1a1a1a" class="t">0</text>
<line x1="66.95" y1="656.2" x2="66.95" y2="658.7" stroke="#9a9a9a" stroke-width="0.7"/>
<text x="66.95" y="669.5" font-size="7.1" text-anchor="middle" fill="#1a1a1a" class="t">20</text>
<line x1="93.6" y1="656.2" x2="93.6" y2="658.7" stroke="#9a9a9a" stroke-width="0.7"/>
<text x="93.6" y="669.5" font-size="7.1" text-anchor="middle" fill="#1a1a1a" class="t">40</text>
<line x1="120.25" y1="656.2" x2="120.25" y2="658.7" stroke="#9a9a9a" stroke-width="0.7"/>
<text x="120.25" y="669.5" font-size="7.1" text-anchor="middle" fill="#1a1a1a" class="t">60</text>
<line x1="146.9" y1="656.2" x2="146.9" y2="658.7" stroke="#9a9a9a" stroke-width="0.7"/>
<text x="146.9" y="669.5" font-size="7.1" text-anchor="middle" fill="#1a1a1a" class="t">80</text>
<text x="80.1" y="679.8" font-size="6.75" font-weight="bold" text-anchor="middle" fill="#1a1a1a">Days of treatment</text>
<line x1="15.65" y1="642" x2="144.9" y2="642" stroke="#aaaaaa" stroke-width="0.7" stroke-dasharray="1.2,1.8"/>
<text x="8.2" y="598" font-size="6.75" font-weight="bold" text-anchor="middle" fill="#1a1a1a" transform="rotate(-90 8.2 598)">Tumor volume (mm³)</text>
<polyline points="43.5,642.5 48.6,633.9 53,626 57.8,618 62,612 66.4,606.2 71,598.3 76.3,591.7 80.2,586.4 85.5,575.2" fill="none" stroke="#9fd6ee" stroke-width="0.8" stroke-linejoin="round" stroke-dasharray="1.5,1"/>
<line x1="43.5" y1="641.5" x2="43.5" y2="643.5" stroke="#a8d8ec" stroke-width="0.6"/>
<line x1="42.3" y1="641.5" x2="44.7" y2="641.5" stroke="#a8d8ec" stroke-width="0.6"/>
<line x1="42.3" y1="643.5" x2="44.7" y2="643.5" stroke="#a8d8ec" stroke-width="0.6"/>
<line x1="48.6" y1="631.9" x2="48.6" y2="635.9" stroke="#a8d8ec" stroke-width="0.6"/>
<line x1="47.4" y1="631.9" x2="49.8" y2="631.9" stroke="#a8d8ec" stroke-width="0.6"/>
<line x1="47.4" y1="635.9" x2="49.8" y2="635.9" stroke="#a8d8ec" stroke-width="0.6"/>
<line x1="53" y1="623" x2="53" y2="629" stroke="#a8d8ec" stroke-width="0.6"/>
<line x1="51.8" y1="623" x2="54.2" y2="623" stroke="#a8d8ec" stroke-width="0.6"/>
<line x1="51.8" y1="629" x2="54.2" y2="629" stroke="#a8d8ec" stroke-width="0.6"/>
<line x1="57.8" y1="615" x2="57.8" y2="621" stroke="#a8d8ec" stroke-width="0.6"/>
<line x1="56.6" y1="615" x2="59" y2="615" stroke="#a8d8ec" stroke-width="0.6"/>
<line x1="56.6" y1="621" x2="59" y2="621" stroke="#a8d8ec" stroke-width="0.6"/>
<line x1="62" y1="608" x2="62" y2="616" stroke="#a8d8ec" stroke-width="0.6"/>
<line x1="60.8" y1="608" x2="63.2" y2="608" stroke="#a8d8ec" stroke-width="0.6"/>
<line x1="60.8" y1="616" x2="63.2" y2="616" stroke="#a8d8ec" stroke-width="0.6"/>
<line x1="66.4" y1="602.2" x2="66.4" y2="610.2" stroke="#a8d8ec" stroke-width="0.6"/>
<line x1="65.2" y1="602.2" x2="67.6" y2="602.2" stroke="#a8d8ec" stroke-width="0.6"/>
<line x1="65.2" y1="610.2" x2="67.6" y2="610.2" stroke="#a8d8ec" stroke-width="0.6"/>
<line x1="71" y1="593.3" x2="71" y2="603.3" stroke="#a8d8ec" stroke-width="0.6"/>
<line x1="69.8" y1="593.3" x2="72.2" y2="593.3" stroke="#a8d8ec" stroke-width="0.6"/>
<line x1="69.8" y1="603.3" x2="72.2" y2="603.3" stroke="#a8d8ec" stroke-width="0.6"/>
<line x1="76.3" y1="586.7" x2="76.3" y2="596.7" stroke="#a8d8ec" stroke-width="0.6"/>
<line x1="75.1" y1="586.7" x2="77.5" y2="586.7" stroke="#a8d8ec" stroke-width="0.6"/>
<line x1="75.1" y1="596.7" x2="77.5" y2="596.7" stroke="#a8d8ec" stroke-width="0.6"/>
<line x1="80.2" y1="580.4" x2="80.2" y2="592.4" stroke="#a8d8ec" stroke-width="0.6"/>
<line x1="79" y1="580.4" x2="81.4" y2="580.4" stroke="#a8d8ec" stroke-width="0.6"/>
<line x1="79" y1="592.4" x2="81.4" y2="592.4" stroke="#a8d8ec" stroke-width="0.6"/>
<line x1="85.5" y1="568.2" x2="85.5" y2="582.2" stroke="#a8d8ec" stroke-width="0.6"/>
<line x1="84.3" y1="568.2" x2="86.7" y2="568.2" stroke="#a8d8ec" stroke-width="0.6"/>
<line x1="84.3" y1="582.2" x2="86.7" y2="582.2" stroke="#a8d8ec" stroke-width="0.6"/>
<circle cx="43.5" cy="642.5" r="1.4" fill="#9fd6ee"/>
<circle cx="48.6" cy="633.9" r="1.4" fill="#9fd6ee"/>
<circle cx="53" cy="626" r="1.4" fill="#9fd6ee"/>
<circle cx="57.8" cy="618" r="1.4" fill="#9fd6ee"/>
<circle cx="62" cy="612" r="1.4" fill="#9fd6ee"/>
<circle cx="66.4" cy="606.2" r="1.4" fill="#9fd6ee"/>
<circle cx="71" cy="598.3" r="1.4" fill="#9fd6ee"/>
<circle cx="76.3" cy="591.7" r="1.4" fill="#9fd6ee"/>
<circle cx="80.2" cy="586.4" r="1.4" fill="#9fd6ee"/>
<circle cx="85.5" cy="575.2" r="1.4" fill="#9fd6ee"/>
<polyline points="33.5,645 40,638.75 43.5,636.25 49.25,625 52.5,615 57.5,602.5 62.25,592.5 66.75,568.75 71,562.5" fill="none" stroke="#7a1248" stroke-width="0.9" stroke-linejoin="round"/>
<line x1="40" y1="636.75" x2="40" y2="640.75" stroke="#7a1248" stroke-width="0.6"/>
<line x1="38.8" y1="636.75" x2="41.2" y2="636.75" stroke="#7a1248" stroke-width="0.6"/>
<line x1="38.8" y1="640.75" x2="41.2" y2="640.75" stroke="#7a1248" stroke-width="0.6"/>
<line x1="43.5" y1="633.25" x2="43.5" y2="639.25" stroke="#7a1248" stroke-width="0.6"/>
<line x1="42.3" y1="633.25" x2="44.7" y2="633.25" stroke="#7a1248" stroke-width="0.6"/>
<line x1="42.3" y1="639.25" x2="44.7" y2="639.25" stroke="#7a1248" stroke-width="0.6"/>
<line x1="49.25" y1="621" x2="49.25" y2="629" stroke="#7a1248" stroke-width="0.6"/>
<line x1="48.05" y1="621" x2="50.45" y2="621" stroke="#7a1248" stroke-width="0.6"/>
<line x1="48.05" y1="629" x2="50.45" y2="629" stroke="#7a1248" stroke-width="0.6"/>
<line x1="52.5" y1="610" x2="52.5" y2="620" stroke="#7a1248" stroke-width="0.6"/>
<line x1="51.3" y1="610" x2="53.7" y2="610" stroke="#7a1248" stroke-width="0.6"/>
<line x1="51.3" y1="620" x2="53.7" y2="620" stroke="#7a1248" stroke-width="0.6"/>
<line x1="57.5" y1="596.5" x2="57.5" y2="608.5" stroke="#7a1248" stroke-width="0.6"/>
<line x1="56.3" y1="596.5" x2="58.7" y2="596.5" stroke="#7a1248" stroke-width="0.6"/>
<line x1="56.3" y1="608.5" x2="58.7" y2="608.5" stroke="#7a1248" stroke-width="0.6"/>
<line x1="62.25" y1="586.5" x2="62.25" y2="598.5" stroke="#7a1248" stroke-width="0.6"/>
<line x1="61.05" y1="586.5" x2="63.45" y2="586.5" stroke="#7a1248" stroke-width="0.6"/>
<line x1="61.05" y1="598.5" x2="63.45" y2="598.5" stroke="#7a1248" stroke-width="0.6"/>
<line x1="66.75" y1="559.75" x2="66.75" y2="577.75" stroke="#7a1248" stroke-width="0.6"/>
<line x1="65.55" y1="559.75" x2="67.95" y2="559.75" stroke="#7a1248" stroke-width="0.6"/>
<line x1="65.55" y1="577.75" x2="67.95" y2="577.75" stroke="#7a1248" stroke-width="0.6"/>
<line x1="71" y1="551.5" x2="71" y2="573.5" stroke="#7a1248" stroke-width="0.6"/>
<line x1="69.8" y1="551.5" x2="72.2" y2="551.5" stroke="#7a1248" stroke-width="0.6"/>
<line x1="69.8" y1="573.5" x2="72.2" y2="573.5" stroke="#7a1248" stroke-width="0.6"/>
<circle cx="33.5" cy="645" r="1.5" fill="#7a1248"/>
<circle cx="40" cy="638.75" r="1.5" fill="#7a1248"/>
<circle cx="43.5" cy="636.25" r="1.5" fill="#7a1248"/>
<circle cx="49.25" cy="625" r="1.5" fill="#7a1248"/>
<circle cx="52.5" cy="615" r="1.5" fill="#7a1248"/>
<circle cx="57.5" cy="602.5" r="1.5" fill="#7a1248"/>
<circle cx="62.25" cy="592.5" r="1.5" fill="#7a1248"/>
<circle cx="66.75" cy="568.75" r="1.5" fill="#7a1248"/>
<circle cx="71" cy="562.5" r="1.5" fill="#7a1248"/>
<polyline points="33.5,645 40,640 52.5,635 57.5,635.5 62.25,635 66.75,633 71,633.75 76.75,637.5 80.5,632.5 85.5,628.75 90.5,628 94.25,627 99.25,625.5 104.25,625 108,625 113,624.5 116.75,628.75 123,624.5 126.75,624.5 133,618.75" fill="none" stroke="#cdd628" stroke-width="0.9" stroke-linejoin="round"/>
<line x1="40" y1="638" x2="40" y2="642" stroke="#cdd628" stroke-width="0.6"/>
<line x1="38.8" y1="638" x2="41.2" y2="638" stroke="#cdd628" stroke-width="0.6"/>
<line x1="38.8" y1="642" x2="41.2" y2="642" stroke="#cdd628" stroke-width="0.6"/>
<line x1="52.5" y1="632" x2="52.5" y2="638" stroke="#cdd628" stroke-width="0.6"/>
<line x1="51.3" y1="632" x2="53.7" y2="632" stroke="#cdd628" stroke-width="0.6"/>
<line x1="51.3" y1="638" x2="53.7" y2="638" stroke="#cdd628" stroke-width="0.6"/>
<line x1="57.5" y1="632.5" x2="57.5" y2="638.5" stroke="#cdd628" stroke-width="0.6"/>
<line x1="56.3" y1="632.5" x2="58.7" y2="632.5" stroke="#cdd628" stroke-width="0.6"/>
<line x1="56.3" y1="638.5" x2="58.7" y2="638.5" stroke="#cdd628" stroke-width="0.6"/>
<line x1="62.25" y1="632" x2="62.25" y2="638" stroke="#cdd628" stroke-width="0.6"/>
<line x1="61.05" y1="632" x2="63.45" y2="632" stroke="#cdd628" stroke-width="0.6"/>
<line x1="61.05" y1="638" x2="63.45" y2="638" stroke="#cdd628" stroke-width="0.6"/>
<line x1="66.75" y1="630" x2="66.75" y2="636" stroke="#cdd628" stroke-width="0.6"/>
<line x1="65.55" y1="630" x2="67.95" y2="630" stroke="#cdd628" stroke-width="0.6"/>
<line x1="65.55" y1="636" x2="67.95" y2="636" stroke="#cdd628" stroke-width="0.6"/>
<line x1="71" y1="630.75" x2="71" y2="636.75" stroke="#cdd628" stroke-width="0.6"/>
<line x1="69.8" y1="630.75" x2="72.2" y2="630.75" stroke="#cdd628" stroke-width="0.6"/>
<line x1="69.8" y1="636.75" x2="72.2" y2="636.75" stroke="#cdd628" stroke-width="0.6"/>
<line x1="76.75" y1="634.5" x2="76.75" y2="640.5" stroke="#cdd628" stroke-width="0.6"/>
<line x1="75.55" y1="634.5" x2="77.95" y2="634.5" stroke="#cdd628" stroke-width="0.6"/>
<line x1="75.55" y1="640.5" x2="77.95" y2="640.5" stroke="#cdd628" stroke-width="0.6"/>
<line x1="80.5" y1="628.5" x2="80.5" y2="636.5" stroke="#cdd628" stroke-width="0.6"/>
<line x1="79.3" y1="628.5" x2="81.7" y2="628.5" stroke="#cdd628" stroke-width="0.6"/>
<line x1="79.3" y1="636.5" x2="81.7" y2="636.5" stroke="#cdd628" stroke-width="0.6"/>
<line x1="85.5" y1="624.75" x2="85.5" y2="632.75" stroke="#cdd628" stroke-width="0.6"/>
<line x1="84.3" y1="624.75" x2="86.7" y2="624.75" stroke="#cdd628" stroke-width="0.6"/>
<line x1="84.3" y1="632.75" x2="86.7" y2="632.75" stroke="#cdd628" stroke-width="0.6"/>
<line x1="90.5" y1="624" x2="90.5" y2="632" stroke="#cdd628" stroke-width="0.6"/>
<line x1="89.3" y1="624" x2="91.7" y2="624" stroke="#cdd628" stroke-width="0.6"/>
<line x1="89.3" y1="632" x2="91.7" y2="632" stroke="#cdd628" stroke-width="0.6"/>
<line x1="94.25" y1="623" x2="94.25" y2="631" stroke="#cdd628" stroke-width="0.6"/>
<line x1="93.05" y1="623" x2="95.45" y2="623" stroke="#cdd628" stroke-width="0.6"/>
<line x1="93.05" y1="631" x2="95.45" y2="631" stroke="#cdd628" stroke-width="0.6"/>
<line x1="99.25" y1="621.5" x2="99.25" y2="629.5" stroke="#cdd628" stroke-width="0.6"/>
<line x1="98.05" y1="621.5" x2="100.45" y2="621.5" stroke="#cdd628" stroke-width="0.6"/>
<line x1="98.05" y1="629.5" x2="100.45" y2="629.5" stroke="#cdd628" stroke-width="0.6"/>
<line x1="104.25" y1="620" x2="104.25" y2="630" stroke="#cdd628" stroke-width="0.6"/>
<line x1="103.05" y1="620" x2="105.45" y2="620" stroke="#cdd628" stroke-width="0.6"/>
<line x1="103.05" y1="630" x2="105.45" y2="630" stroke="#cdd628" stroke-width="0.6"/>
<line x1="108" y1="620" x2="108" y2="630" stroke="#cdd628" stroke-width="0.6"/>
<line x1="106.8" y1="620" x2="109.2" y2="620" stroke="#cdd628" stroke-width="0.6"/>
<line x1="106.8" y1="630" x2="109.2" y2="630" stroke="#cdd628" stroke-width="0.6"/>
<line x1="113" y1="619.5" x2="113" y2="629.5" stroke="#cdd628" stroke-width="0.6"/>
<line x1="111.8" y1="619.5" x2="114.2" y2="619.5" stroke="#cdd628" stroke-width="0.6"/>
<line x1="111.8" y1="629.5" x2="114.2" y2="629.5" stroke="#cdd628" stroke-width="0.6"/>
<line x1="116.75" y1="623.75" x2="116.75" y2="633.75" stroke="#cdd628" stroke-width="0.6"/>
<line x1="115.55" y1="623.75" x2="117.95" y2="623.75" stroke="#cdd628" stroke-width="0.6"/>
<line x1="115.55" y1="633.75" x2="117.95" y2="633.75" stroke="#cdd628" stroke-width="0.6"/>
<line x1="123" y1="619.5" x2="123" y2="629.5" stroke="#cdd628" stroke-width="0.6"/>
<line x1="121.8" y1="619.5" x2="124.2" y2="619.5" stroke="#cdd628" stroke-width="0.6"/>
<line x1="121.8" y1="629.5" x2="124.2" y2="629.5" stroke="#cdd628" stroke-width="0.6"/>
<line x1="126.75" y1="619.5" x2="126.75" y2="629.5" stroke="#cdd628" stroke-width="0.6"/>
<line x1="125.55" y1="619.5" x2="127.95" y2="619.5" stroke="#cdd628" stroke-width="0.6"/>
<line x1="125.55" y1="629.5" x2="127.95" y2="629.5" stroke="#cdd628" stroke-width="0.6"/>
<line x1="133" y1="611.75" x2="133" y2="625.75" stroke="#cdd628" stroke-width="0.6"/>
<line x1="131.8" y1="611.75" x2="134.2" y2="611.75" stroke="#cdd628" stroke-width="0.6"/>
<line x1="131.8" y1="625.75" x2="134.2" y2="625.75" stroke="#cdd628" stroke-width="0.6"/>
<circle cx="33.5" cy="645" r="1.5" fill="#cdd628"/>
<circle cx="40" cy="640" r="1.5" fill="#cdd628"/>
<circle cx="52.5" cy="635" r="1.5" fill="#cdd628"/>
<circle cx="57.5" cy="635.5" r="1.5" fill="#cdd628"/>
<circle cx="62.25" cy="635" r="1.5" fill="#cdd628"/>
<circle cx="66.75" cy="633" r="1.5" fill="#cdd628"/>
<circle cx="71" cy="633.75" r="1.5" fill="#cdd628"/>
<circle cx="76.75" cy="637.5" r="1.5" fill="#cdd628"/>
<circle cx="80.5" cy="632.5" r="1.5" fill="#cdd628"/>
<circle cx="85.5" cy="628.75" r="1.5" fill="#cdd628"/>
<circle cx="90.5" cy="628" r="1.5" fill="#cdd628"/>
<circle cx="94.25" cy="627" r="1.5" fill="#cdd628"/>
<circle cx="99.25" cy="625.5" r="1.5" fill="#cdd628"/>
<circle cx="104.25" cy="625" r="1.5" fill="#cdd628"/>
<circle cx="108" cy="625" r="1.5" fill="#cdd628"/>
<circle cx="113" cy="624.5" r="1.5" fill="#cdd628"/>
<circle cx="116.75" cy="628.75" r="1.5" fill="#cdd628"/>
<circle cx="123" cy="624.5" r="1.5" fill="#cdd628"/>
<circle cx="126.75" cy="624.5" r="1.5" fill="#cdd628"/>
<circle cx="133" cy="618.75" r="1.5" fill="#cdd628"/>
<polyline points="33.5,645.5 43.5,643.75 49.25,643 52.5,642.5 57.5,641.25 62.25,640 66.75,640.5 71,642 76.75,642 80.5,641.25 85.5,640.5 90.5,640 94.25,641.25 99.25,642 104.25,639.5 108,637.5 113,642 116.75,642 123,641.25 126.75,640 133,638" fill="none" stroke="#d41a70" stroke-width="0.8" stroke-linejoin="round"/>
<line x1="43.5" y1="641.75" x2="43.5" y2="645.75" stroke="#d41a70" stroke-width="0.6"/>
<line x1="42.3" y1="641.75" x2="44.7" y2="641.75" stroke="#d41a70" stroke-width="0.6"/>
<line x1="42.3" y1="645.75" x2="44.7" y2="645.75" stroke="#d41a70" stroke-width="0.6"/>
<line x1="49.25" y1="641" x2="49.25" y2="645" stroke="#d41a70" stroke-width="0.6"/>
<line x1="48.05" y1="641" x2="50.45" y2="641" stroke="#d41a70" stroke-width="0.6"/>
<line x1="48.05" y1="645" x2="50.45" y2="645" stroke="#d41a70" stroke-width="0.6"/>
<line x1="52.5" y1="640.5" x2="52.5" y2="644.5" stroke="#d41a70" stroke-width="0.6"/>
<line x1="51.3" y1="640.5" x2="53.7" y2="640.5" stroke="#d41a70" stroke-width="0.6"/>
<line x1="51.3" y1="644.5" x2="53.7" y2="644.5" stroke="#d41a70" stroke-width="0.6"/>
<line x1="57.5" y1="639.25" x2="57.5" y2="643.25" stroke="#d41a70" stroke-width="0.6"/>
<line x1="56.3" y1="639.25" x2="58.7" y2="639.25" stroke="#d41a70" stroke-width="0.6"/>
<line x1="56.3" y1="643.25" x2="58.7" y2="643.25" stroke="#d41a70" stroke-width="0.6"/>
<line x1="62.25" y1="638" x2="62.25" y2="642" stroke="#d41a70" stroke-width="0.6"/>
<line x1="61.05" y1="638" x2="63.45" y2="638" stroke="#d41a70" stroke-width="0.6"/>
<line x1="61.05" y1="642" x2="63.45" y2="642" stroke="#d41a70" stroke-width="0.6"/>
<line x1="66.75" y1="638.5" x2="66.75" y2="642.5" stroke="#d41a70" stroke-width="0.6"/>
<line x1="65.55" y1="638.5" x2="67.95" y2="638.5" stroke="#d41a70" stroke-width="0.6"/>
<line x1="65.55" y1="642.5" x2="67.95" y2="642.5" stroke="#d41a70" stroke-width="0.6"/>
<line x1="71" y1="640" x2="71" y2="644" stroke="#d41a70" stroke-width="0.6"/>
<line x1="69.8" y1="640" x2="72.2" y2="640" stroke="#d41a70" stroke-width="0.6"/>
<line x1="69.8" y1="644" x2="72.2" y2="644" stroke="#d41a70" stroke-width="0.6"/>
<line x1="76.75" y1="640" x2="76.75" y2="644" stroke="#d41a70" stroke-width="0.6"/>
<line x1="75.55" y1="640" x2="77.95" y2="640" stroke="#d41a70" stroke-width="0.6"/>
<line x1="75.55" y1="644" x2="77.95" y2="644" stroke="#d41a70" stroke-width="0.6"/>
<line x1="80.5" y1="639.25" x2="80.5" y2="643.25" stroke="#d41a70" stroke-width="0.6"/>
<line x1="79.3" y1="639.25" x2="81.7" y2="639.25" stroke="#d41a70" stroke-width="0.6"/>
<line x1="79.3" y1="643.25" x2="81.7" y2="643.25" stroke="#d41a70" stroke-width="0.6"/>
<line x1="85.5" y1="638.5" x2="85.5" y2="642.5" stroke="#d41a70" stroke-width="0.6"/>
<line x1="84.3" y1="638.5" x2="86.7" y2="638.5" stroke="#d41a70" stroke-width="0.6"/>
<line x1="84.3" y1="642.5" x2="86.7" y2="642.5" stroke="#d41a70" stroke-width="0.6"/>
<line x1="90.5" y1="638" x2="90.5" y2="642" stroke="#d41a70" stroke-width="0.6"/>
<line x1="89.3" y1="638" x2="91.7" y2="638" stroke="#d41a70" stroke-width="0.6"/>
<line x1="89.3" y1="642" x2="91.7" y2="642" stroke="#d41a70" stroke-width="0.6"/>
<line x1="94.25" y1="639.25" x2="94.25" y2="643.25" stroke="#d41a70" stroke-width="0.6"/>
<line x1="93.05" y1="639.25" x2="95.45" y2="639.25" stroke="#d41a70" stroke-width="0.6"/>
<line x1="93.05" y1="643.25" x2="95.45" y2="643.25" stroke="#d41a70" stroke-width="0.6"/>
<line x1="99.25" y1="639" x2="99.25" y2="645" stroke="#d41a70" stroke-width="0.6"/>
<line x1="98.05" y1="639" x2="100.45" y2="639" stroke="#d41a70" stroke-width="0.6"/>
<line x1="98.05" y1="645" x2="100.45" y2="645" stroke="#d41a70" stroke-width="0.6"/>
<line x1="104.25" y1="636.5" x2="104.25" y2="642.5" stroke="#d41a70" stroke-width="0.6"/>
<line x1="103.05" y1="636.5" x2="105.45" y2="636.5" stroke="#d41a70" stroke-width="0.6"/>
<line x1="103.05" y1="642.5" x2="105.45" y2="642.5" stroke="#d41a70" stroke-width="0.6"/>
<line x1="108" y1="634.5" x2="108" y2="640.5" stroke="#d41a70" stroke-width="0.6"/>
<line x1="106.8" y1="634.5" x2="109.2" y2="634.5" stroke="#d41a70" stroke-width="0.6"/>
<line x1="106.8" y1="640.5" x2="109.2" y2="640.5" stroke="#d41a70" stroke-width="0.6"/>
<line x1="113" y1="640" x2="113" y2="644" stroke="#d41a70" stroke-width="0.6"/>
<line x1="111.8" y1="640" x2="114.2" y2="640" stroke="#d41a70" stroke-width="0.6"/>
<line x1="111.8" y1="644" x2="114.2" y2="644" stroke="#d41a70" stroke-width="0.6"/>
<line x1="116.75" y1="640" x2="116.75" y2="644" stroke="#d41a70" stroke-width="0.6"/>
<line x1="115.55" y1="640" x2="117.95" y2="640" stroke="#d41a70" stroke-width="0.6"/>
<line x1="115.55" y1="644" x2="117.95" y2="644" stroke="#d41a70" stroke-width="0.6"/>
<line x1="123" y1="639.25" x2="123" y2="643.25" stroke="#d41a70" stroke-width="0.6"/>
<line x1="121.8" y1="639.25" x2="124.2" y2="639.25" stroke="#d41a70" stroke-width="0.6"/>
<line x1="121.8" y1="643.25" x2="124.2" y2="643.25" stroke="#d41a70" stroke-width="0.6"/>
<line x1="126.75" y1="638" x2="126.75" y2="642" stroke="#d41a70" stroke-width="0.6"/>
<line x1="125.55" y1="638" x2="127.95" y2="638" stroke="#d41a70" stroke-width="0.6"/>
<line x1="125.55" y1="642" x2="127.95" y2="642" stroke="#d41a70" stroke-width="0.6"/>
<line x1="133" y1="634" x2="133" y2="642" stroke="#d41a70" stroke-width="0.6"/>
<line x1="131.8" y1="634" x2="134.2" y2="634" stroke="#d41a70" stroke-width="0.6"/>
<line x1="131.8" y1="642" x2="134.2" y2="642" stroke="#d41a70" stroke-width="0.6"/>
<rect x="31.89" y="643.88" width="3.23" height="3.23" fill="#d41a70"/>
<rect x="41.88" y="642.13" width="3.23" height="3.23" fill="#d41a70"/>
<rect x="47.63" y="641.38" width="3.23" height="3.23" fill="#d41a70"/>
<rect x="50.88" y="640.88" width="3.23" height="3.23" fill="#d41a70"/>
<rect x="55.88" y="639.63" width="3.23" height="3.23" fill="#d41a70"/>
<rect x="60.63" y="638.38" width="3.23" height="3.23" fill="#d41a70"/>
<rect x="65.14" y="638.88" width="3.23" height="3.23" fill="#d41a70"/>
<rect x="69.39" y="640.38" width="3.23" height="3.23" fill="#d41a70"/>
<rect x="75.14" y="640.38" width="3.23" height="3.23" fill="#d41a70"/>
<rect x="78.89" y="639.63" width="3.23" height="3.23" fill="#d41a70"/>
<rect x="83.89" y="638.88" width="3.23" height="3.23" fill="#d41a70"/>
<rect x="88.89" y="638.38" width="3.23" height="3.23" fill="#d41a70"/>
<rect x="92.64" y="639.63" width="3.23" height="3.23" fill="#d41a70"/>
<rect x="97.64" y="640.38" width="3.23" height="3.23" fill="#d41a70"/>
<rect x="102.64" y="637.88" width="3.23" height="3.23" fill="#d41a70"/>
<rect x="106.39" y="635.88" width="3.23" height="3.23" fill="#d41a70"/>
<rect x="111.39" y="640.38" width="3.23" height="3.23" fill="#d41a70"/>
<rect x="115.14" y="640.38" width="3.23" height="3.23" fill="#d41a70"/>
<rect x="121.39" y="639.63" width="3.23" height="3.23" fill="#d41a70"/>
<rect x="125.14" y="638.38" width="3.23" height="3.23" fill="#d41a70"/>
<rect x="131.38" y="636.38" width="3.23" height="3.23" fill="#d41a70"/>
<polyline points="137.1,618 139.3,618 139.3,638 137.1,638" fill="none" stroke="#555" stroke-width="0.85"/>
<text x="141.4" y="632.9" font-size="7" fill="#1a1a1a">****</text>
<line x1="97.4" y1="537" x2="106.4" y2="537" stroke="#7a1248" stroke-width="0.7"/>
<circle cx="101.9" cy="537" r="1.9" fill="#7a1248"/>
<text x="110.8" y="539.1" font-size="5.8" fill="#1a1a1a">Vehicle</text>
<line x1="97.4" y1="546.2" x2="106.4" y2="546.2" stroke="#8fd0ec" stroke-width="0.7"/>
<circle cx="101.9" cy="546.2" r="1.9" fill="#8fd0ec"/>
<text x="110.8" y="548.3" font-size="5.8" fill="#1a1a1a">Abemaciclib</text>
<line x1="97.4" y1="553.8" x2="106.4" y2="553.8" stroke="#cdd628" stroke-width="0.7"/>
<circle cx="101.9" cy="553.8" r="1.9" fill="#cdd628"/>
<text x="110.8" y="555.9" font-size="5.8" fill="#1a1a1a">Camizestrant</text>
<line x1="97.4" y1="562" x2="106.4" y2="562" stroke="#d41a70" stroke-width="0.7"/>
<rect x="100.29" y="560.38" width="3.23" height="3.23" fill="#d41a70"/>
<text x="110.8" y="564.1" font-size="5.8" fill="#1a1a1a">Camizestrant +</text>
<text x="110.8" y="572.5" font-size="5.8" fill="#1a1a1a">abemaciclib</text>
<rect x="240.9" y="543.8" width="53.85" height="112.4" fill="#e6e6e6"/>
<line x1="240.9" y1="543.8" x2="240.9" y2="656.2" stroke="#9a9a9a" stroke-width="0.8"/>
<line x1="213.97" y1="656.2" x2="348.6" y2="656.2" stroke="#9a9a9a" stroke-width="0.8"/>
<line x1="238.4" y1="543.8" x2="240.9" y2="543.8" stroke="#9a9a9a" stroke-width="0.7"/>
<text x="235.2" y="546.2" font-size="7.1" text-anchor="end" fill="#1a1a1a" class="t">1,500</text>
<line x1="238.4" y1="581.27" x2="240.9" y2="581.27" stroke="#9a9a9a" stroke-width="0.7"/>
<text x="235.2" y="583.67" font-size="7.1" text-anchor="end" fill="#1a1a1a" class="t">1,000</text>
<line x1="238.4" y1="618.73" x2="240.9" y2="618.73" stroke="#9a9a9a" stroke-width="0.7"/>
<text x="235.2" y="621.13" font-size="7.1" text-anchor="end" fill="#1a1a1a" class="t">500</text>
<line x1="213.97" y1="656.2" x2="213.97" y2="658.7" stroke="#9a9a9a" stroke-width="0.7"/>
<text x="213.97" y="670.1" font-size="7.1" text-anchor="middle" fill="#1a1a1a" class="t">–20</text>
<line x1="240.9" y1="656.2" x2="240.9" y2="658.7" stroke="#9a9a9a" stroke-width="0.7"/>
<text x="240.9" y="670.1" font-size="7.1" text-anchor="middle" fill="#1a1a1a" class="t">0</text>
<line x1="267.82" y1="656.2" x2="267.82" y2="658.7" stroke="#9a9a9a" stroke-width="0.7"/>
<text x="267.82" y="670.1" font-size="7.1" text-anchor="middle" fill="#1a1a1a" class="t">20</text>
<line x1="294.75" y1="656.2" x2="294.75" y2="658.7" stroke="#9a9a9a" stroke-width="0.7"/>
<text x="294.75" y="670.1" font-size="7.1" text-anchor="middle" fill="#1a1a1a" class="t">40</text>
<line x1="321.68" y1="656.2" x2="321.68" y2="658.7" stroke="#9a9a9a" stroke-width="0.7"/>
<text x="321.68" y="670.1" font-size="7.1" text-anchor="middle" fill="#1a1a1a" class="t">60</text>
<line x1="348.6" y1="656.2" x2="348.6" y2="658.7" stroke="#9a9a9a" stroke-width="0.7"/>
<text x="348.6" y="670.1" font-size="7.1" text-anchor="middle" fill="#1a1a1a" class="t">80</text>
<text x="280.4" y="681" font-size="6.75" font-weight="bold" text-anchor="middle" fill="#1a1a1a">Days of treatment</text>
<line x1="215.97" y1="642.3" x2="346.6" y2="642.3" stroke="#aaaaaa" stroke-width="0.7" stroke-dasharray="1.2,1.8"/>
<text x="209.1" y="599" font-size="6.75" font-weight="bold" text-anchor="middle" fill="#1a1a1a" transform="rotate(-90 209.1 599)">Tumor volume (mm³)</text>
<polyline points="233.85,646.92 243.08,637.69 250.77,626.92 253.85,614.62 258.46,603.85 263.08,594.62 268.31,570 272.31,563.23" fill="none" stroke="#7a1248" stroke-width="0.9" stroke-linejoin="round"/>
<line x1="243.08" y1="635.69" x2="243.08" y2="639.69" stroke="#7a1248" stroke-width="0.6"/>
<line x1="241.88" y1="635.69" x2="244.28" y2="635.69" stroke="#7a1248" stroke-width="0.6"/>
<line x1="241.88" y1="639.69" x2="244.28" y2="639.69" stroke="#7a1248" stroke-width="0.6"/>
<line x1="250.77" y1="623.92" x2="250.77" y2="629.92" stroke="#7a1248" stroke-width="0.6"/>
<line x1="249.57" y1="623.92" x2="251.97" y2="623.92" stroke="#7a1248" stroke-width="0.6"/>
<line x1="249.57" y1="629.92" x2="251.97" y2="629.92" stroke="#7a1248" stroke-width="0.6"/>
<line x1="253.85" y1="611.62" x2="253.85" y2="617.62" stroke="#7a1248" stroke-width="0.6"/>
<line x1="252.65" y1="611.62" x2="255.05" y2="611.62" stroke="#7a1248" stroke-width="0.6"/>
<line x1="252.65" y1="617.62" x2="255.05" y2="617.62" stroke="#7a1248" stroke-width="0.6"/>
<line x1="258.46" y1="599.85" x2="258.46" y2="607.85" stroke="#7a1248" stroke-width="0.6"/>
<line x1="257.26" y1="599.85" x2="259.66" y2="599.85" stroke="#7a1248" stroke-width="0.6"/>
<line x1="257.26" y1="607.85" x2="259.66" y2="607.85" stroke="#7a1248" stroke-width="0.6"/>
<line x1="263.08" y1="589.62" x2="263.08" y2="599.62" stroke="#7a1248" stroke-width="0.6"/>
<line x1="261.88" y1="589.62" x2="264.28" y2="589.62" stroke="#7a1248" stroke-width="0.6"/>
<line x1="261.88" y1="599.62" x2="264.28" y2="599.62" stroke="#7a1248" stroke-width="0.6"/>
<line x1="268.31" y1="562" x2="268.31" y2="578" stroke="#7a1248" stroke-width="0.6"/>
<line x1="267.11" y1="562" x2="269.51" y2="562" stroke="#7a1248" stroke-width="0.6"/>
<line x1="267.11" y1="578" x2="269.51" y2="578" stroke="#7a1248" stroke-width="0.6"/>
<line x1="272.31" y1="552.23" x2="272.31" y2="574.23" stroke="#7a1248" stroke-width="0.6"/>
<line x1="271.11" y1="552.23" x2="273.51" y2="552.23" stroke="#7a1248" stroke-width="0.6"/>
<line x1="271.11" y1="574.23" x2="273.51" y2="574.23" stroke="#7a1248" stroke-width="0.6"/>
<circle cx="233.85" cy="646.92" r="1.5" fill="#7a1248"/>
<circle cx="243.08" cy="637.69" r="1.5" fill="#7a1248"/>
<circle cx="250.77" cy="626.92" r="1.5" fill="#7a1248"/>
<circle cx="253.85" cy="614.62" r="1.5" fill="#7a1248"/>
<circle cx="258.46" cy="603.85" r="1.5" fill="#7a1248"/>
<circle cx="263.08" cy="594.62" r="1.5" fill="#7a1248"/>
<circle cx="268.31" cy="570" r="1.5" fill="#7a1248"/>
<circle cx="272.31" cy="563.23" r="1.5" fill="#7a1248"/>
<polyline points="233.85,650 240.92,648.46 243.08,640.77 250.77,636.15 253.85,634.62 258.46,628.46 263.08,631.54 267.69,622.31 272.31,620.77 276.31,611.54 279.38,610 284.62,605.38 289.23,606.92 295.38,590 300,585.38 304.62,585.38 308.62,595.23 313.85,588.46 318.46,590 323.08,566.31" fill="none" stroke="#2a1a58" stroke-width="0.9" stroke-linejoin="round"/>
<line x1="233.85" y1="648" x2="233.85" y2="652" stroke="#2a1a58" stroke-width="0.6"/>
<line x1="232.65" y1="648" x2="235.05" y2="648" stroke="#2a1a58" stroke-width="0.6"/>
<line x1="232.65" y1="652" x2="235.05" y2="652" stroke="#2a1a58" stroke-width="0.6"/>
<line x1="240.92" y1="646.46" x2="240.92" y2="650.46" stroke="#2a1a58" stroke-width="0.6"/>
<line x1="239.72" y1="646.46" x2="242.12" y2="646.46" stroke="#2a1a58" stroke-width="0.6"/>
<line x1="239.72" y1="650.46" x2="242.12" y2="650.46" stroke="#2a1a58" stroke-width="0.6"/>
<line x1="243.08" y1="637.77" x2="243.08" y2="643.77" stroke="#2a1a58" stroke-width="0.6"/>
<line x1="241.88" y1="637.77" x2="244.28" y2="637.77" stroke="#2a1a58" stroke-width="0.6"/>
<line x1="241.88" y1="643.77" x2="244.28" y2="643.77" stroke="#2a1a58" stroke-width="0.6"/>
<line x1="250.77" y1="633.15" x2="250.77" y2="639.15" stroke="#2a1a58" stroke-width="0.6"/>
<line x1="249.57" y1="633.15" x2="251.97" y2="633.15" stroke="#2a1a58" stroke-width="0.6"/>
<line x1="249.57" y1="639.15" x2="251.97" y2="639.15" stroke="#2a1a58" stroke-width="0.6"/>
<line x1="253.85" y1="631.62" x2="253.85" y2="637.62" stroke="#2a1a58" stroke-width="0.6"/>
<line x1="252.65" y1="631.62" x2="255.05" y2="631.62" stroke="#2a1a58" stroke-width="0.6"/>
<line x1="252.65" y1="637.62" x2="255.05" y2="637.62" stroke="#2a1a58" stroke-width="0.6"/>
<line x1="258.46" y1="624.46" x2="258.46" y2="632.46" stroke="#2a1a58" stroke-width="0.6"/>
<line x1="257.26" y1="624.46" x2="259.66" y2="624.46" stroke="#2a1a58" stroke-width="0.6"/>
<line x1="257.26" y1="632.46" x2="259.66" y2="632.46" stroke="#2a1a58" stroke-width="0.6"/>
<line x1="263.08" y1="627.54" x2="263.08" y2="635.54" stroke="#2a1a58" stroke-width="0.6"/>
<line x1="261.88" y1="627.54" x2="264.28" y2="627.54" stroke="#2a1a58" stroke-width="0.6"/>
<line x1="261.88" y1="635.54" x2="264.28" y2="635.54" stroke="#2a1a58" stroke-width="0.6"/>
<line x1="267.69" y1="617.31" x2="267.69" y2="627.31" stroke="#2a1a58" stroke-width="0.6"/>
<line x1="266.49" y1="617.31" x2="268.89" y2="617.31" stroke="#2a1a58" stroke-width="0.6"/>
<line x1="266.49" y1="627.31" x2="268.89" y2="627.31" stroke="#2a1a58" stroke-width="0.6"/>
<line x1="272.31" y1="614.77" x2="272.31" y2="626.77" stroke="#2a1a58" stroke-width="0.6"/>
<line x1="271.11" y1="614.77" x2="273.51" y2="614.77" stroke="#2a1a58" stroke-width="0.6"/>
<line x1="271.11" y1="626.77" x2="273.51" y2="626.77" stroke="#2a1a58" stroke-width="0.6"/>
<line x1="276.31" y1="605.54" x2="276.31" y2="617.54" stroke="#2a1a58" stroke-width="0.6"/>
<line x1="275.11" y1="605.54" x2="277.51" y2="605.54" stroke="#2a1a58" stroke-width="0.6"/>
<line x1="275.11" y1="617.54" x2="277.51" y2="617.54" stroke="#2a1a58" stroke-width="0.6"/>
<line x1="279.38" y1="604" x2="279.38" y2="616" stroke="#2a1a58" stroke-width="0.6"/>
<line x1="278.18" y1="604" x2="280.58" y2="604" stroke="#2a1a58" stroke-width="0.6"/>
<line x1="278.18" y1="616" x2="280.58" y2="616" stroke="#2a1a58" stroke-width="0.6"/>
<line x1="284.62" y1="598.38" x2="284.62" y2="612.38" stroke="#2a1a58" stroke-width="0.6"/>
<line x1="283.42" y1="598.38" x2="285.82" y2="598.38" stroke="#2a1a58" stroke-width="0.6"/>
<line x1="283.42" y1="612.38" x2="285.82" y2="612.38" stroke="#2a1a58" stroke-width="0.6"/>
<line x1="289.23" y1="598.92" x2="289.23" y2="614.92" stroke="#2a1a58" stroke-width="0.6"/>
<line x1="288.03" y1="598.92" x2="290.43" y2="598.92" stroke="#2a1a58" stroke-width="0.6"/>
<line x1="288.03" y1="614.92" x2="290.43" y2="614.92" stroke="#2a1a58" stroke-width="0.6"/>
<line x1="295.38" y1="581" x2="295.38" y2="599" stroke="#2a1a58" stroke-width="0.6"/>
<line x1="294.18" y1="581" x2="296.58" y2="581" stroke="#2a1a58" stroke-width="0.6"/>
<line x1="294.18" y1="599" x2="296.58" y2="599" stroke="#2a1a58" stroke-width="0.6"/>
<line x1="300" y1="573.38" x2="300" y2="597.38" stroke="#2a1a58" stroke-width="0.6"/>
<line x1="298.8" y1="573.38" x2="301.2" y2="573.38" stroke="#2a1a58" stroke-width="0.6"/>
<line x1="298.8" y1="597.38" x2="301.2" y2="597.38" stroke="#2a1a58" stroke-width="0.6"/>
<line x1="304.62" y1="573.38" x2="304.62" y2="597.38" stroke="#2a1a58" stroke-width="0.6"/>
<line x1="303.42" y1="573.38" x2="305.82" y2="573.38" stroke="#2a1a58" stroke-width="0.6"/>
<line x1="303.42" y1="597.38" x2="305.82" y2="597.38" stroke="#2a1a58" stroke-width="0.6"/>
<line x1="308.62" y1="583.23" x2="308.62" y2="607.23" stroke="#2a1a58" stroke-width="0.6"/>
<line x1="307.42" y1="583.23" x2="309.82" y2="583.23" stroke="#2a1a58" stroke-width="0.6"/>
<line x1="307.42" y1="607.23" x2="309.82" y2="607.23" stroke="#2a1a58" stroke-width="0.6"/>
<line x1="313.85" y1="576.46" x2="313.85" y2="600.46" stroke="#2a1a58" stroke-width="0.6"/>
<line x1="312.65" y1="576.46" x2="315.05" y2="576.46" stroke="#2a1a58" stroke-width="0.6"/>
<line x1="312.65" y1="600.46" x2="315.05" y2="600.46" stroke="#2a1a58" stroke-width="0.6"/>
<line x1="318.46" y1="576" x2="318.46" y2="604" stroke="#2a1a58" stroke-width="0.6"/>
<line x1="317.26" y1="576" x2="319.66" y2="576" stroke="#2a1a58" stroke-width="0.6"/>
<line x1="317.26" y1="604" x2="319.66" y2="604" stroke="#2a1a58" stroke-width="0.6"/>
<line x1="323.08" y1="544.31" x2="323.08" y2="588.31" stroke="#2a1a58" stroke-width="0.6"/>
<line x1="321.88" y1="544.31" x2="324.28" y2="544.31" stroke="#2a1a58" stroke-width="0.6"/>
<line x1="321.88" y1="588.31" x2="324.28" y2="588.31" stroke="#2a1a58" stroke-width="0.6"/>
<circle cx="233.85" cy="650" r="1.5" fill="#2a1a58"/>
<circle cx="240.92" cy="648.46" r="1.5" fill="#2a1a58"/>
<circle cx="243.08" cy="640.77" r="1.5" fill="#2a1a58"/>
<circle cx="250.77" cy="636.15" r="1.5" fill="#2a1a58"/>
<circle cx="253.85" cy="634.62" r="1.5" fill="#2a1a58"/>
<circle cx="258.46" cy="628.46" r="1.5" fill="#2a1a58"/>
<circle cx="263.08" cy="631.54" r="1.5" fill="#2a1a58"/>
<circle cx="267.69" cy="622.31" r="1.5" fill="#2a1a58"/>
<circle cx="272.31" cy="620.77" r="1.5" fill="#2a1a58"/>
<circle cx="276.31" cy="611.54" r="1.5" fill="#2a1a58"/>
<circle cx="279.38" cy="610" r="1.5" fill="#2a1a58"/>
<circle cx="284.62" cy="605.38" r="1.5" fill="#2a1a58"/>
<circle cx="289.23" cy="606.92" r="1.5" fill="#2a1a58"/>
<circle cx="295.38" cy="590" r="1.5" fill="#2a1a58"/>
<circle cx="300" cy="585.38" r="1.5" fill="#2a1a58"/>
<circle cx="304.62" cy="585.38" r="1.5" fill="#2a1a58"/>
<circle cx="308.62" cy="595.23" r="1.5" fill="#2a1a58"/>
<circle cx="313.85" cy="588.46" r="1.5" fill="#2a1a58"/>
<circle cx="318.46" cy="590" r="1.5" fill="#2a1a58"/>
<circle cx="323.08" cy="566.31" r="1.5" fill="#2a1a58"/>
<polyline points="233.85,645.38 243.08,640.77 250.77,636.15 253.85,636.15 258.46,636.15 263.08,634.62 267.69,634.62 272.31,636.15 276.31,639.23 279.38,634.62 284.62,630 289.23,630 295.38,628.46 300,626.92 304.62,625.38 308.62,627.85 313.85,625.38 318.46,628.46 323.08,624.77 327.69,625.38 333.85,619.85" fill="none" stroke="#cdd628" stroke-width="0.9" stroke-linejoin="round"/>
<line x1="233.85" y1="643.38" x2="233.85" y2="647.38" stroke="#cdd628" stroke-width="0.6"/>
<line x1="232.65" y1="643.38" x2="235.05" y2="643.38" stroke="#cdd628" stroke-width="0.6"/>
<line x1="232.65" y1="647.38" x2="235.05" y2="647.38" stroke="#cdd628" stroke-width="0.6"/>
<line x1="243.08" y1="637.77" x2="243.08" y2="643.77" stroke="#cdd628" stroke-width="0.6"/>
<line x1="241.88" y1="637.77" x2="244.28" y2="637.77" stroke="#cdd628" stroke-width="0.6"/>
<line x1="241.88" y1="643.77" x2="244.28" y2="643.77" stroke="#cdd628" stroke-width="0.6"/>
<line x1="250.77" y1="633.15" x2="250.77" y2="639.15" stroke="#cdd628" stroke-width="0.6"/>
<line x1="249.57" y1="633.15" x2="251.97" y2="633.15" stroke="#cdd628" stroke-width="0.6"/>
<line x1="249.57" y1="639.15" x2="251.97" y2="639.15" stroke="#cdd628" stroke-width="0.6"/>
<line x1="253.85" y1="633.15" x2="253.85" y2="639.15" stroke="#cdd628" stroke-width="0.6"/>
<line x1="252.65" y1="633.15" x2="255.05" y2="633.15" stroke="#cdd628" stroke-width="0.6"/>
<line x1="252.65" y1="639.15" x2="255.05" y2="639.15" stroke="#cdd628" stroke-width="0.6"/>
<line x1="258.46" y1="633.15" x2="258.46" y2="639.15" stroke="#cdd628" stroke-width="0.6"/>
<line x1="257.26" y1="633.15" x2="259.66" y2="633.15" stroke="#cdd628" stroke-width="0.6"/>
<line x1="257.26" y1="639.15" x2="259.66" y2="639.15" stroke="#cdd628" stroke-width="0.6"/>
<line x1="263.08" y1="631.62" x2="263.08" y2="637.62" stroke="#cdd628" stroke-width="0.6"/>
<line x1="261.88" y1="631.62" x2="264.28" y2="631.62" stroke="#cdd628" stroke-width="0.6"/>
<line x1="261.88" y1="637.62" x2="264.28" y2="637.62" stroke="#cdd628" stroke-width="0.6"/>
<line x1="267.69" y1="631.62" x2="267.69" y2="637.62" stroke="#cdd628" stroke-width="0.6"/>
<line x1="266.49" y1="631.62" x2="268.89" y2="631.62" stroke="#cdd628" stroke-width="0.6"/>
<line x1="266.49" y1="637.62" x2="268.89" y2="637.62" stroke="#cdd628" stroke-width="0.6"/>
<line x1="272.31" y1="633.15" x2="272.31" y2="639.15" stroke="#cdd628" stroke-width="0.6"/>
<line x1="271.11" y1="633.15" x2="273.51" y2="633.15" stroke="#cdd628" stroke-width="0.6"/>
<line x1="271.11" y1="639.15" x2="273.51" y2="639.15" stroke="#cdd628" stroke-width="0.6"/>
<line x1="276.31" y1="636.23" x2="276.31" y2="642.23" stroke="#cdd628" stroke-width="0.6"/>
<line x1="275.11" y1="636.23" x2="277.51" y2="636.23" stroke="#cdd628" stroke-width="0.6"/>
<line x1="275.11" y1="642.23" x2="277.51" y2="642.23" stroke="#cdd628" stroke-width="0.6"/>
<line x1="279.38" y1="631.62" x2="279.38" y2="637.62" stroke="#cdd628" stroke-width="0.6"/>
<line x1="278.18" y1="631.62" x2="280.58" y2="631.62" stroke="#cdd628" stroke-width="0.6"/>
<line x1="278.18" y1="637.62" x2="280.58" y2="637.62" stroke="#cdd628" stroke-width="0.6"/>
<line x1="284.62" y1="626" x2="284.62" y2="634" stroke="#cdd628" stroke-width="0.6"/>
<line x1="283.42" y1="626" x2="285.82" y2="626" stroke="#cdd628" stroke-width="0.6"/>
<line x1="283.42" y1="634" x2="285.82" y2="634" stroke="#cdd628" stroke-width="0.6"/>
<line x1="289.23" y1="626" x2="289.23" y2="634" stroke="#cdd628" stroke-width="0.6"/>
<line x1="288.03" y1="626" x2="290.43" y2="626" stroke="#cdd628" stroke-width="0.6"/>
<line x1="288.03" y1="634" x2="290.43" y2="634" stroke="#cdd628" stroke-width="0.6"/>
<line x1="295.38" y1="624.46" x2="295.38" y2="632.46" stroke="#cdd628" stroke-width="0.6"/>
<line x1="294.18" y1="624.46" x2="296.58" y2="624.46" stroke="#cdd628" stroke-width="0.6"/>
<line x1="294.18" y1="632.46" x2="296.58" y2="632.46" stroke="#cdd628" stroke-width="0.6"/>
<line x1="300" y1="622.92" x2="300" y2="630.92" stroke="#cdd628" stroke-width="0.6"/>
<line x1="298.8" y1="622.92" x2="301.2" y2="622.92" stroke="#cdd628" stroke-width="0.6"/>
<line x1="298.8" y1="630.92" x2="301.2" y2="630.92" stroke="#cdd628" stroke-width="0.6"/>
<line x1="304.62" y1="621.38" x2="304.62" y2="629.38" stroke="#cdd628" stroke-width="0.6"/>
<line x1="303.42" y1="621.38" x2="305.82" y2="621.38" stroke="#cdd628" stroke-width="0.6"/>
<line x1="303.42" y1="629.38" x2="305.82" y2="629.38" stroke="#cdd628" stroke-width="0.6"/>
<line x1="308.62" y1="623.85" x2="308.62" y2="631.85" stroke="#cdd628" stroke-width="0.6"/>
<line x1="307.42" y1="623.85" x2="309.82" y2="623.85" stroke="#cdd628" stroke-width="0.6"/>
<line x1="307.42" y1="631.85" x2="309.82" y2="631.85" stroke="#cdd628" stroke-width="0.6"/>
<line x1="313.85" y1="621.38" x2="313.85" y2="629.38" stroke="#cdd628" stroke-width="0.6"/>
<line x1="312.65" y1="621.38" x2="315.05" y2="621.38" stroke="#cdd628" stroke-width="0.6"/>
<line x1="312.65" y1="629.38" x2="315.05" y2="629.38" stroke="#cdd628" stroke-width="0.6"/>
<line x1="318.46" y1="624.46" x2="318.46" y2="632.46" stroke="#cdd628" stroke-width="0.6"/>
<line x1="317.26" y1="624.46" x2="319.66" y2="624.46" stroke="#cdd628" stroke-width="0.6"/>
<line x1="317.26" y1="632.46" x2="319.66" y2="632.46" stroke="#cdd628" stroke-width="0.6"/>
<line x1="323.08" y1="620.77" x2="323.08" y2="628.77" stroke="#cdd628" stroke-width="0.6"/>
<line x1="321.88" y1="620.77" x2="324.28" y2="620.77" stroke="#cdd628" stroke-width="0.6"/>
<line x1="321.88" y1="628.77" x2="324.28" y2="628.77" stroke="#cdd628" stroke-width="0.6"/>
<line x1="327.69" y1="620.38" x2="327.69" y2="630.38" stroke="#cdd628" stroke-width="0.6"/>
<line x1="326.49" y1="620.38" x2="328.89" y2="620.38" stroke="#cdd628" stroke-width="0.6"/>
<line x1="326.49" y1="630.38" x2="328.89" y2="630.38" stroke="#cdd628" stroke-width="0.6"/>
<line x1="333.85" y1="613.85" x2="333.85" y2="625.85" stroke="#cdd628" stroke-width="0.6"/>
<line x1="332.65" y1="613.85" x2="335.05" y2="613.85" stroke="#cdd628" stroke-width="0.6"/>
<line x1="332.65" y1="625.85" x2="335.05" y2="625.85" stroke="#cdd628" stroke-width="0.6"/>
<circle cx="233.85" cy="645.38" r="1.5" fill="#cdd628"/>
<circle cx="243.08" cy="640.77" r="1.5" fill="#cdd628"/>
<circle cx="250.77" cy="636.15" r="1.5" fill="#cdd628"/>
<circle cx="253.85" cy="636.15" r="1.5" fill="#cdd628"/>
<circle cx="258.46" cy="636.15" r="1.5" fill="#cdd628"/>
<circle cx="263.08" cy="634.62" r="1.5" fill="#cdd628"/>
<circle cx="267.69" cy="634.62" r="1.5" fill="#cdd628"/>
<circle cx="272.31" cy="636.15" r="1.5" fill="#cdd628"/>
<circle cx="276.31" cy="639.23" r="1.5" fill="#cdd628"/>
<circle cx="279.38" cy="634.62" r="1.5" fill="#cdd628"/>
<circle cx="284.62" cy="630" r="1.5" fill="#cdd628"/>
<circle cx="289.23" cy="630" r="1.5" fill="#cdd628"/>
<circle cx="295.38" cy="628.46" r="1.5" fill="#cdd628"/>
<circle cx="300" cy="626.92" r="1.5" fill="#cdd628"/>
<circle cx="304.62" cy="625.38" r="1.5" fill="#cdd628"/>
<circle cx="308.62" cy="627.85" r="1.5" fill="#cdd628"/>
<circle cx="313.85" cy="625.38" r="1.5" fill="#cdd628"/>
<circle cx="318.46" cy="628.46" r="1.5" fill="#cdd628"/>
<circle cx="323.08" cy="624.77" r="1.5" fill="#cdd628"/>
<circle cx="327.69" cy="625.38" r="1.5" fill="#cdd628"/>
<circle cx="333.85" cy="619.85" r="1.5" fill="#cdd628"/>
<polyline points="233.85,646.31 243.08,645.38 250.77,646.92 253.85,648.46 258.46,646.31 263.08,646.92 268.31,647.54 276.31,647.54 279.38,647.54 284.62,650.62 289.23,650.62 295.38,647.54 300,648.46 304.62,650.62 308.62,649.38 313.85,649.38 318.46,649.38 323.08,648.46 327.69,651.54 333.85,651.54" fill="none" stroke="#d41a70" stroke-width="0.6" stroke-linejoin="round"/>
<rect x="232.23" y="644.69" width="3.23" height="3.23" fill="#d41a70"/>
<rect x="241.46" y="643.77" width="3.23" height="3.23" fill="#d41a70"/>
<rect x="249.15" y="645.31" width="3.23" height="3.23" fill="#d41a70"/>
<rect x="252.23" y="646.85" width="3.23" height="3.23" fill="#d41a70"/>
<rect x="256.85" y="644.69" width="3.23" height="3.23" fill="#d41a70"/>
<rect x="261.46" y="645.31" width="3.23" height="3.23" fill="#d41a70"/>
<rect x="266.69" y="645.92" width="3.23" height="3.23" fill="#d41a70"/>
<rect x="274.69" y="645.92" width="3.23" height="3.23" fill="#d41a70"/>
<rect x="277.77" y="645.92" width="3.23" height="3.23" fill="#d41a70"/>
<rect x="283" y="649" width="3.23" height="3.23" fill="#d41a70"/>
<rect x="287.62" y="649" width="3.23" height="3.23" fill="#d41a70"/>
<rect x="293.77" y="645.92" width="3.23" height="3.23" fill="#d41a70"/>
<rect x="298.38" y="646.85" width="3.23" height="3.23" fill="#d41a70"/>
<rect x="303" y="649" width="3.23" height="3.23" fill="#d41a70"/>
<rect x="307" y="647.77" width="3.23" height="3.23" fill="#d41a70"/>
<rect x="312.23" y="647.77" width="3.23" height="3.23" fill="#d41a70"/>
<rect x="316.85" y="647.77" width="3.23" height="3.23" fill="#d41a70"/>
<rect x="321.46" y="646.85" width="3.23" height="3.23" fill="#d41a70"/>
<rect x="326.08" y="649.92" width="3.23" height="3.23" fill="#d41a70"/>
<rect x="332.23" y="649.92" width="3.23" height="3.23" fill="#d41a70"/>
<polyline points="337.8,619.2 340,619.2 340,651.5 337.8,651.5" fill="none" stroke="#555" stroke-width="0.85"/>
<text x="343" y="641.3" font-size="7" fill="#1a1a1a">****</text>
<line x1="331.1" y1="539.3" x2="340.1" y2="539.3" stroke="#7a1248" stroke-width="0.7"/>
<circle cx="335.6" cy="539.3" r="1.9" fill="#7a1248"/>
<text x="344.4" y="541.4" font-size="5.8" fill="#1a1a1a">Vehicle</text>
<line x1="331.1" y1="547.5" x2="340.1" y2="547.5" stroke="#2a1a58" stroke-width="0.7"/>
<circle cx="335.6" cy="547.5" r="1.9" fill="#2a1a58"/>
<text x="344.4" y="549.6" font-size="5.8" fill="#1a1a1a">Capivasertib</text>
<line x1="331.1" y1="555.8" x2="340.1" y2="555.8" stroke="#cdd628" stroke-width="0.7"/>
<circle cx="335.6" cy="555.8" r="1.9" fill="#cdd628"/>
<text x="344.4" y="557.9" font-size="5.8" fill="#1a1a1a">Camizestrant</text>
<line x1="331.1" y1="563.7" x2="340.1" y2="563.7" stroke="#d41a70" stroke-width="0.7"/>
<rect x="333.99" y="562.09" width="3.23" height="3.23" fill="#d41a70"/>
<text x="344.4" y="565.8" font-size="5.8" fill="#1a1a1a">Camizestrant +</text>
<text x="344.4" y="573.9" font-size="5.8" fill="#1a1a1a">capivasertib</text>
</svg></body></html>
